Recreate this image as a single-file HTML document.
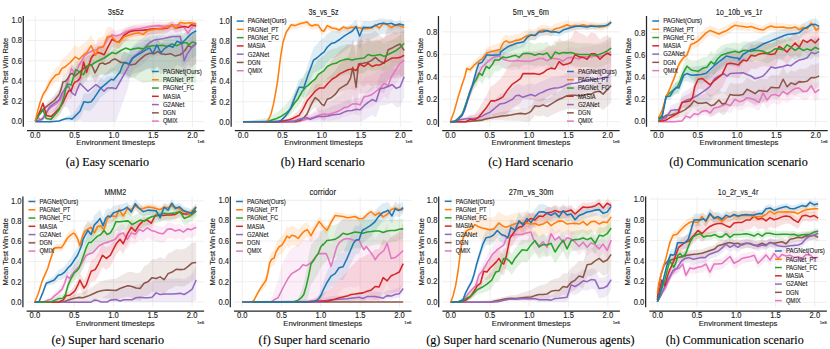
<!DOCTYPE html>
<html><head><meta charset="utf-8"><style>html,body{margin:0;padding:0;background:#fff;width:830px;height:349px;overflow:hidden}svg{display:block}</style></head>
<body><svg width="830" height="349" viewBox="0 0 830 349"><g transform="translate(0.00,0.00)"><line x1="35.30" y1="16.0" x2="35.30" y2="126.8" stroke="#ebebeb" stroke-width="0.8"/>
<line x1="74.60" y1="16.0" x2="74.60" y2="126.8" stroke="#ebebeb" stroke-width="0.8"/>
<line x1="113.90" y1="16.0" x2="113.90" y2="126.8" stroke="#ebebeb" stroke-width="0.8"/>
<line x1="153.20" y1="16.0" x2="153.20" y2="126.8" stroke="#ebebeb" stroke-width="0.8"/>
<line x1="192.50" y1="16.0" x2="192.50" y2="126.8" stroke="#ebebeb" stroke-width="0.8"/>
<line x1="27.0" y1="121.60" x2="204.5" y2="121.60" stroke="#ebebeb" stroke-width="0.8"/>
<line x1="27.0" y1="101.34" x2="204.5" y2="101.34" stroke="#ebebeb" stroke-width="0.8"/>
<line x1="27.0" y1="81.08" x2="204.5" y2="81.08" stroke="#ebebeb" stroke-width="0.8"/>
<line x1="27.0" y1="60.82" x2="204.5" y2="60.82" stroke="#ebebeb" stroke-width="0.8"/>
<line x1="27.0" y1="40.56" x2="204.5" y2="40.56" stroke="#ebebeb" stroke-width="0.8"/>
<line x1="27.0" y1="20.30" x2="204.5" y2="20.30" stroke="#ebebeb" stroke-width="0.8"/>
<polygon points="35.34,121.71 51.05,121.13 59.07,120.03 63.88,117.91 67.09,115.95 70.30,114.79 71.90,115.01 75.11,110.65 79.92,104.10 83.93,93.37 87.94,93.66 91.14,92.44 94.35,88.02 97.56,82.80 100.77,77.57 105.58,72.94 111.19,67.41 113.59,67.90 120.01,60.20 122.41,54.10 124.02,51.32 126.42,51.96 128.83,52.91 132.04,47.51 136.85,44.61 141.66,42.19 146.47,39.31 149.68,38.29 152.88,44.15 156.89,35.65 160.90,43.99 164.11,40.23 168.92,37.41 172.93,39.33 176.94,33.71 181.75,36.02 186.56,31.59 191.37,27.16 196.18,24.66 196.18,56.05 191.37,58.46 186.56,62.80 181.75,67.13 176.94,64.73 172.93,70.27 168.92,68.26 164.11,70.99 160.90,74.69 156.89,66.27 152.88,74.69 149.68,68.76 146.47,69.73 141.66,71.64 136.85,72.81 132.04,74.47 128.83,79.05 126.42,77.47 124.02,76.22 122.41,78.59 120.01,84.06 113.59,90.13 111.19,89.17 105.58,93.62 100.77,97.32 97.56,101.92 94.35,106.53 91.14,110.33 87.94,110.93 83.93,109.87 79.92,118.48 75.11,121.55 71.90,121.60 70.30,121.60 67.09,121.06 63.88,120.71 59.07,121.60 51.05,121.71 35.34,121.71" fill="#1f77b4" fill-opacity="0.14" stroke="none"/>
<polygon points="35.34,120.89 37.42,111.27 39.83,101.52 43.04,91.46 46.24,85.41 49.45,77.75 52.66,71.91 55.86,67.56 59.07,65.77 61.48,60.15 65.49,56.71 70.30,51.46 75.11,44.77 79.12,47.43 83.13,43.68 87.14,40.73 91.14,34.58 95.63,44.49 98.36,37.45 103.17,36.96 107.18,26.90 111.19,26.74 114.40,30.47 116.00,33.13 119.21,34.45 124.02,29.61 128.83,28.78 133.64,27.96 138.45,27.82 143.26,29.67 148.07,25.91 152.88,25.36 157.69,24.81 162.50,24.25 167.32,23.70 172.13,21.54 176.14,24.95 180.14,19.55 184.95,20.60 189.77,20.37 192.97,21.01 196.18,21.66 196.18,26.74 192.97,26.37 189.77,26.00 184.95,26.65 180.14,26.01 176.14,31.76 172.13,28.69 167.32,31.26 162.50,32.23 157.69,33.20 152.88,34.17 148.07,35.13 143.26,39.31 138.45,37.87 133.64,38.83 128.83,40.59 124.02,42.35 119.21,48.11 116.00,47.41 114.40,45.06 111.19,41.96 107.18,42.89 103.17,53.53 98.36,54.64 95.63,62.04 91.14,52.70 87.14,59.38 83.13,62.84 79.12,67.11 75.11,64.96 70.30,70.24 65.49,73.83 61.48,75.90 59.07,80.69 55.86,81.38 52.66,84.63 49.45,88.70 46.24,93.87 43.04,97.44 39.83,105.02 37.42,112.91 35.34,120.92" fill="#ff7f0e" fill-opacity="0.14" stroke="none"/>
<polygon points="35.30,120.90 39.00,114.11 43.00,107.22 46.20,114.99 51.10,114.22 55.10,108.78 59.10,103.33 61.50,97.35 64.70,87.23 65.50,81.70 67.50,76.38 71.00,76.82 73.10,69.48 75.60,60.58 78.60,61.59 81.10,63.69 83.60,64.47 85.00,60.97 87.00,56.37 89.50,55.37 92.00,54.37 95.00,52.37 98.00,50.87 101.00,49.37 104.10,47.87 107.10,45.87 112.00,42.47 116.00,43.55 120.81,40.35 125.62,37.94 130.43,39.55 133.64,38.74 138.45,37.94 143.26,38.74 148.07,36.34 152.88,35.54 157.69,35.54 162.50,35.06 167.32,36.34 172.13,33.93 176.94,35.54 181.75,33.13 186.56,32.33 188.96,34.73 192.17,31.85 196.18,32.81 196.18,83.44 192.17,82.08 188.96,84.64 186.56,82.00 181.75,82.33 176.94,84.25 172.13,82.17 167.32,84.10 162.50,82.34 157.69,82.35 152.88,81.87 148.07,82.19 143.26,83.32 138.45,80.20 133.64,78.67 130.43,77.93 125.62,74.00 120.81,74.08 116.00,74.96 112.00,72.25 107.10,74.07 104.10,75.10 101.00,75.60 98.00,76.14 95.00,76.67 92.00,77.70 89.50,77.90 87.00,78.09 85.00,82.05 83.60,85.10 81.10,83.51 78.60,80.61 75.60,78.62 73.10,86.72 71.00,93.38 67.50,91.82 65.50,96.50 64.70,101.77 61.50,110.85 59.10,116.07 55.10,120.22 51.10,121.60 46.20,121.60 43.00,112.18 39.00,116.49 35.30,120.90" fill="#2ca02c" fill-opacity="0.14" stroke="none"/>
<polygon points="35.30,120.90 39.00,112.51 43.00,100.82 46.60,111.96 51.10,111.53 55.10,107.44 59.10,102.75 63.10,96.27 67.10,86.98 69.00,83.60 71.10,83.89 73.50,76.76 75.10,74.71 78.10,72.92 80.10,70.22 81.60,64.08 83.60,53.97 86.50,64.76 89.00,57.32 91.00,50.95 93.00,48.08 94.40,47.17 97.60,45.47 100.80,46.28 104.00,48.08 108.00,40.34 112.00,33.10 116.00,35.71 119.21,35.92 124.02,29.82 128.83,26.92 133.64,25.81 138.45,25.64 143.26,25.46 148.07,25.13 152.88,24.47 157.69,24.62 162.50,24.76 167.32,24.11 172.13,21.04 175.33,24.35 180.14,23.69 184.95,23.04 188.16,24.26 191.37,21.63 196.18,22.90 196.18,30.00 191.37,29.03 188.16,31.85 184.95,30.82 180.14,31.77 175.33,32.72 172.13,29.61 167.32,32.96 162.50,33.91 157.69,34.06 152.88,34.20 148.07,35.15 143.26,35.78 138.45,36.24 133.64,36.71 128.83,38.18 124.02,41.80 119.21,48.63 116.00,48.91 112.00,46.89 108.00,54.74 104.00,63.08 100.80,61.75 97.60,61.43 94.40,63.60 93.00,64.72 91.00,67.90 89.00,74.57 86.50,82.38 83.60,72.03 81.60,82.09 80.10,87.85 78.10,90.03 75.10,91.04 73.50,92.69 71.10,99.20 69.00,98.36 67.10,101.26 63.10,109.51 59.10,114.97 55.10,118.62 51.10,121.60 46.60,119.24 43.00,105.78 39.00,114.89 35.30,120.90" fill="#d62728" fill-opacity="0.14" stroke="none"/>
<polygon points="35.34,120.90 39.83,118.55 43.04,115.85 46.24,109.13 49.45,102.42 54.26,96.75 59.07,91.94 62.28,84.45 65.49,79.36 68.37,77.51 70.30,80.55 71.90,83.62 75.11,85.75 77.51,79.13 79.92,73.31 83.13,76.27 87.94,80.84 92.75,76.59 95.95,73.71 100.77,77.00 103.97,80.05 107.18,76.68 111.99,76.12 116.00,77.05 128.03,55.16 130.43,50.35 133.64,44.74 136.85,42.33 140.05,39.93 143.26,37.52 146.47,33.51 149.68,30.30 154.49,27.90 159.30,27.10 164.11,26.29 168.92,25.01 173.73,24.37 180.14,24.37 181.75,31.11 184.15,48.74 187.36,41.53 191.37,35.92 196.18,31.43 196.18,63.82 191.37,67.79 187.36,72.97 184.15,79.84 181.75,61.94 180.14,55.04 173.73,54.35 168.92,54.47 164.11,55.24 159.30,55.52 154.49,55.81 149.68,57.70 146.47,60.43 143.26,63.94 140.05,65.85 136.85,67.76 133.64,69.67 130.43,74.79 128.03,87.94 116.00,121.60 111.99,121.60 107.18,121.60 103.97,121.60 100.77,121.60 95.95,121.60 92.75,121.60 87.94,121.60 83.13,121.60 79.92,120.47 77.51,121.60 75.11,121.60 71.90,119.76 70.30,114.48 68.37,108.80 65.49,106.68 62.28,107.36 59.07,110.44 54.26,111.42 49.45,113.36 46.24,117.59 43.04,121.60 39.83,121.60 35.34,120.93" fill="#9467bd" fill-opacity="0.14" stroke="none"/>
<polygon points="35.30,120.90 39.80,110.65 44.60,105.10 49.50,99.52 54.30,94.91 59.10,88.13 61.00,82.93 63.00,74.91 65.50,73.90 67.50,71.38 70.00,66.48 72.00,64.86 74.60,67.24 77.10,64.83 83.00,58.87 89.00,54.87 91.50,54.87 93.50,58.97 95.00,62.77 97.00,58.97 99.60,53.67 102.60,52.87 105.10,54.07 108.10,52.87 110.00,52.07 111.20,50.47 114.40,48.87 116.00,49.17 120.81,52.37 125.62,52.37 130.43,54.76 135.24,53.81 140.05,48.85 144.86,44.70 149.68,42.47 154.49,42.80 157.69,40.30 160.90,42.61 165.71,43.26 170.52,42.31 175.33,44.57 180.14,43.15 184.95,38.67 188.16,33.76 191.37,35.27 196.18,31.11 196.18,63.49 191.37,66.92 188.16,64.92 184.95,69.35 180.14,73.09 175.33,73.79 170.52,70.80 165.71,71.02 160.90,69.64 157.69,66.84 154.49,68.86 149.68,67.79 144.86,69.29 140.05,72.72 135.24,76.95 130.43,77.16 125.62,74.49 120.81,74.28 116.00,70.87 114.40,70.50 111.20,71.96 110.00,73.51 108.10,74.23 105.10,75.30 102.60,74.00 99.60,74.67 97.00,79.85 95.00,83.57 93.50,79.70 91.50,75.52 89.00,75.41 83.00,79.15 77.10,83.37 74.60,84.96 72.00,81.74 70.00,82.72 67.50,86.82 65.50,88.70 63.00,88.89 61.00,96.27 59.10,100.87 54.30,106.09 49.50,108.68 44.60,111.10 39.80,113.55 35.30,120.90" fill="#8c564b" fill-opacity="0.14" stroke="none"/>
<polygon points="35.30,120.90 38.20,116.95 41.40,118.53 44.60,112.90 47.80,107.28 51.10,103.24 55.90,99.80 60.70,94.75 63.90,88.08 67.50,77.20 70.00,69.07 71.50,63.49 73.10,65.91 75.10,68.81 78.60,60.53 81.60,55.37 84.10,50.74 87.90,47.25 92.70,44.49 96.00,44.08 99.20,41.48 104.00,40.31 108.00,32.93 112.00,29.44 116.00,30.70 120.81,29.24 125.62,26.97 130.43,25.18 135.24,24.36 140.05,23.85 144.86,23.03 149.68,22.05 154.49,21.70 159.30,21.52 164.11,22.46 168.92,21.79 173.73,21.61 178.54,21.27 183.35,23.01 188.16,30.04 191.37,24.84 194.58,21.73 196.18,21.29 196.18,28.40 194.58,28.91 191.37,32.18 188.16,37.53 183.35,30.73 178.54,29.21 173.73,29.79 168.92,30.20 164.11,31.09 159.30,30.38 154.49,30.80 149.68,31.37 144.86,32.58 140.05,33.64 135.24,34.37 130.43,35.42 125.62,37.44 120.81,39.94 116.00,41.63 112.00,40.56 108.00,44.24 104.00,51.82 99.20,53.21 96.00,55.97 92.70,56.53 87.90,59.15 84.10,62.26 81.60,66.63 78.60,71.47 75.10,79.39 73.10,76.29 71.50,73.71 70.00,79.13 67.50,87.00 63.90,97.52 60.70,103.85 55.90,108.40 51.10,111.36 47.80,113.72 44.60,117.70 41.40,121.60 38.20,118.45 35.30,120.90" fill="#e377c2" fill-opacity="0.14" stroke="none"/>
<polyline points="35.30,120.90 38.20,117.70 41.40,120.10 44.60,115.30 47.80,110.50 51.10,107.30 55.90,104.10 60.70,99.30 63.90,92.80 67.50,82.10 70.00,74.10 71.50,68.60 73.10,71.10 75.10,74.10 78.60,66.00 81.60,61.00 84.10,56.50 87.90,53.20 92.70,50.50 96.00,50.00 99.20,47.30 104.00,46.00 108.00,38.50 112.00,34.90 116.00,36.05 120.81,34.44 125.62,32.04 130.43,30.11 135.24,29.15 140.05,28.51 144.86,27.55 149.68,26.42 154.49,25.94 159.30,25.62 164.11,26.42 168.92,25.62 173.73,25.30 178.54,24.82 183.35,26.42 188.16,33.32 191.37,28.03 194.58,24.82 196.18,24.34" fill="none" stroke="#e377c2" stroke-width="1.55" stroke-linejoin="round" stroke-linecap="butt"/>
<polyline points="35.30,120.90 39.80,112.10 44.60,108.10 49.50,104.10 54.30,100.50 59.10,94.50 61.00,89.60 63.00,81.90 65.50,81.30 67.50,79.10 70.00,74.60 72.00,73.30 74.60,76.10 77.10,74.10 83.00,69.00 89.00,65.00 91.50,65.00 93.50,69.10 95.00,72.90 97.00,69.10 99.60,63.80 102.60,63.00 105.10,64.20 108.10,63.00 110.00,62.20 111.20,60.60 114.40,59.00 116.00,59.30 120.81,62.50 125.62,62.50 130.43,64.91 135.24,64.11 140.05,59.30 144.86,55.29 149.68,53.20 154.49,53.68 157.69,51.28 160.90,53.68 165.71,54.49 170.52,53.68 175.33,56.09 180.14,54.81 184.95,50.48 188.16,45.67 191.37,47.27 196.18,43.26" fill="none" stroke="#8c564b" stroke-width="1.55" stroke-linejoin="round" stroke-linecap="butt"/>
<polyline points="35.34,120.91 39.83,120.11 43.04,118.50 46.24,112.89 49.45,107.28 54.26,103.27 59.07,100.06 62.28,92.85 65.49,88.04 68.37,86.43 70.30,89.64 71.90,92.85 75.11,95.25 77.51,88.84 79.92,83.23 83.13,86.43 87.94,91.24 92.75,87.23 95.95,84.51 100.77,88.04 103.97,91.24 107.18,88.04 111.99,87.72 116.00,88.84 128.03,67.32 130.43,62.50 133.64,56.89 136.85,54.49 140.05,52.08 143.26,49.68 146.47,45.67 149.68,42.46 154.49,40.05 159.30,39.25 164.11,38.45 168.92,37.17 173.73,36.53 180.14,36.53 181.75,43.26 184.15,60.90 187.36,53.68 191.37,48.07 196.18,43.58" fill="none" stroke="#9467bd" stroke-width="1.55" stroke-linejoin="round" stroke-linecap="butt"/>
<polyline points="35.30,120.90 39.00,113.70 43.00,103.30 46.60,115.60 51.10,116.60 55.10,112.90 59.10,108.60 63.10,102.50 67.10,93.60 69.00,90.40 71.10,90.90 73.50,84.00 75.10,82.10 78.10,80.60 80.10,78.10 81.60,72.10 83.60,62.00 86.50,72.60 89.00,65.00 91.00,58.50 93.00,55.50 94.40,54.50 97.60,52.60 100.80,53.20 104.00,54.80 108.00,46.80 112.00,39.30 116.00,41.66 119.21,41.66 124.02,35.24 128.83,32.04 133.64,30.75 138.45,30.43 143.26,30.11 148.07,29.63 152.88,28.83 157.69,28.83 162.50,28.83 167.32,28.03 172.13,24.82 175.33,28.03 180.14,27.23 184.95,26.42 188.16,27.55 191.37,24.82 196.18,25.94" fill="none" stroke="#d62728" stroke-width="1.55" stroke-linejoin="round" stroke-linecap="butt"/>
<polyline points="35.30,120.90 39.00,115.30 43.00,109.70 46.20,118.50 51.10,119.30 55.10,114.50 59.10,109.70 61.50,104.10 64.70,94.50 65.50,89.10 67.50,84.10 71.00,85.10 73.10,78.10 75.60,69.60 78.60,71.10 81.10,73.60 83.60,74.60 85.00,71.10 87.00,66.50 89.50,65.50 92.00,64.50 95.00,62.50 98.00,61.00 101.00,59.50 104.10,58.00 107.10,56.00 112.00,52.60 116.00,53.68 120.81,50.48 125.62,48.07 130.43,49.68 133.64,48.87 138.45,48.07 143.26,48.87 148.07,46.47 152.88,45.67 157.69,45.67 162.50,45.19 167.32,46.47 172.13,44.06 176.94,45.67 181.75,43.26 186.56,42.46 188.96,44.86 192.17,41.98 196.18,42.94" fill="none" stroke="#2ca02c" stroke-width="1.55" stroke-linejoin="round" stroke-linecap="butt"/>
<polyline points="35.34,120.91 37.42,112.09 39.83,103.27 43.04,94.45 46.24,89.64 49.45,83.23 52.66,78.41 55.86,74.89 59.07,73.92 61.48,68.92 65.49,66.51 70.30,62.50 75.11,56.89 79.12,59.30 83.13,55.29 87.14,52.08 91.14,45.67 95.63,55.29 98.36,48.07 103.17,47.27 107.18,36.85 111.19,36.05 114.40,39.25 116.00,41.66 119.21,42.46 124.02,36.85 128.83,35.24 133.64,33.64 138.45,32.84 143.26,34.44 148.07,30.43 152.88,29.63 157.69,28.83 162.50,28.03 167.32,27.23 172.13,24.82 176.14,28.03 180.14,22.41 184.95,23.22 189.77,22.74 192.97,23.22 196.18,23.70" fill="none" stroke="#ff7f0e" stroke-width="1.55" stroke-linejoin="round" stroke-linecap="butt"/>
<polyline points="35.34,121.71 51.05,121.71 59.07,120.91 63.88,119.31 67.09,118.50 70.30,118.50 71.90,119.31 75.11,116.10 79.92,111.29 83.93,101.67 87.94,102.47 91.14,101.67 94.35,97.66 97.56,92.85 100.77,88.04 105.58,84.03 111.19,79.22 113.59,80.02 120.01,71.97 122.41,65.71 124.02,62.83 126.42,63.31 128.83,64.11 132.04,58.50 136.85,55.29 141.66,52.56 146.47,49.35 149.68,48.07 152.88,53.68 156.89,44.86 160.90,52.88 164.11,48.87 168.92,45.67 172.93,47.27 176.94,41.34 181.75,43.26 186.56,38.45 191.37,33.64 196.18,30.75" fill="none" stroke="#1f77b4" stroke-width="1.55" stroke-linejoin="round" stroke-linecap="butt"/>
<line x1="23.3" y1="16.0" x2="23.3" y2="126.8" stroke="#262626" stroke-width="1.25"/>
<line x1="27.0" y1="130.7" x2="204.5" y2="130.7" stroke="#262626" stroke-width="1.25"/>
<text x="22.00" y="124.40" font-size="8.3" text-anchor="end" font-family="Liberation Sans" fill="#222222" stroke="#222222" stroke-width="0.12" textLength="10.57" lengthAdjust="spacingAndGlyphs">0.0</text>
<text x="22.00" y="104.14" font-size="8.3" text-anchor="end" font-family="Liberation Sans" fill="#222222" stroke="#222222" stroke-width="0.12" textLength="10.57" lengthAdjust="spacingAndGlyphs">0.2</text>
<text x="22.00" y="83.88" font-size="8.3" text-anchor="end" font-family="Liberation Sans" fill="#222222" stroke="#222222" stroke-width="0.12" textLength="10.57" lengthAdjust="spacingAndGlyphs">0.4</text>
<text x="22.00" y="63.62" font-size="8.3" text-anchor="end" font-family="Liberation Sans" fill="#222222" stroke="#222222" stroke-width="0.12" textLength="10.57" lengthAdjust="spacingAndGlyphs">0.6</text>
<text x="22.00" y="43.36" font-size="8.3" text-anchor="end" font-family="Liberation Sans" fill="#222222" stroke="#222222" stroke-width="0.12" textLength="10.57" lengthAdjust="spacingAndGlyphs">0.8</text>
<text x="22.00" y="23.10" font-size="8.3" text-anchor="end" font-family="Liberation Sans" fill="#222222" stroke="#222222" stroke-width="0.12" textLength="10.57" lengthAdjust="spacingAndGlyphs">1.0</text>
<text x="35.30" y="137.90" font-size="8.3" text-anchor="middle" font-family="Liberation Sans" fill="#222222" stroke="#222222" stroke-width="0.12" textLength="10.57" lengthAdjust="spacingAndGlyphs">0.0</text>
<text x="74.60" y="137.90" font-size="8.3" text-anchor="middle" font-family="Liberation Sans" fill="#222222" stroke="#222222" stroke-width="0.12" textLength="10.57" lengthAdjust="spacingAndGlyphs">0.5</text>
<text x="113.90" y="137.90" font-size="8.3" text-anchor="middle" font-family="Liberation Sans" fill="#222222" stroke="#222222" stroke-width="0.12" textLength="10.57" lengthAdjust="spacingAndGlyphs">1.0</text>
<text x="153.20" y="137.90" font-size="8.3" text-anchor="middle" font-family="Liberation Sans" fill="#222222" stroke="#222222" stroke-width="0.12" textLength="10.57" lengthAdjust="spacingAndGlyphs">1.5</text>
<text x="192.50" y="137.90" font-size="8.3" text-anchor="middle" font-family="Liberation Sans" fill="#222222" stroke="#222222" stroke-width="0.12" textLength="10.57" lengthAdjust="spacingAndGlyphs">2.0</text>
<text x="115.75" y="145.30" font-size="6.8" text-anchor="middle" font-family="Liberation Sans" fill="#222222" stroke="#222222" stroke-width="0.12" textLength="78.77" lengthAdjust="spacingAndGlyphs">Environment timesteps</text>
<g transform="translate(8.1,71.40) rotate(-90)"><text x="0.00" y="0.00" font-size="6.8" text-anchor="middle" font-family="Liberation Sans" fill="#222222" stroke="#222222" stroke-width="0.12" textLength="67.23" lengthAdjust="spacingAndGlyphs">Mean Test Win Rate</text></g>
<text x="200.90" y="143.20" font-size="4.3" text-anchor="middle" font-family="Liberation Sans" fill="#222222" stroke="#222222" stroke-width="0.12" textLength="7.20" lengthAdjust="spacingAndGlyphs">1e6</text>
<text x="115.75" y="14.50" font-size="8.3" text-anchor="middle" font-family="Liberation Sans" fill="#222222" stroke="#222222" stroke-width="0.12" textLength="15.76" lengthAdjust="spacingAndGlyphs">3s5z</text>
<line x1="152.00" y1="71.50" x2="158.80" y2="71.50" stroke="#1f77b4" stroke-width="1.5"/>
<text x="162.90" y="73.85" font-size="6.7" text-anchor="start" font-family="Liberation Sans" fill="#222222" stroke="#222222" stroke-width="0.12" textLength="38.78" lengthAdjust="spacingAndGlyphs">PAGNet(Ours)</text>
<line x1="152.00" y1="79.77" x2="158.80" y2="79.77" stroke="#ff7f0e" stroke-width="1.5"/>
<text x="162.90" y="82.12" font-size="6.7" text-anchor="start" font-family="Liberation Sans" fill="#222222" stroke="#222222" stroke-width="0.12" textLength="30.86" lengthAdjust="spacingAndGlyphs">PAGNet_PT</text>
<line x1="152.00" y1="88.04" x2="158.80" y2="88.04" stroke="#2ca02c" stroke-width="1.5"/>
<text x="162.90" y="90.39" font-size="6.7" text-anchor="start" font-family="Liberation Sans" fill="#222222" stroke="#222222" stroke-width="0.12" textLength="31.19" lengthAdjust="spacingAndGlyphs">PAGNet_FC</text>
<line x1="152.00" y1="96.31" x2="158.80" y2="96.31" stroke="#d62728" stroke-width="1.5"/>
<text x="162.90" y="98.66" font-size="6.7" text-anchor="start" font-family="Liberation Sans" fill="#222222" stroke="#222222" stroke-width="0.12" textLength="17.64" lengthAdjust="spacingAndGlyphs">MASIA</text>
<line x1="152.00" y1="104.58" x2="158.80" y2="104.58" stroke="#9467bd" stroke-width="1.5"/>
<text x="162.90" y="106.93" font-size="6.7" text-anchor="start" font-family="Liberation Sans" fill="#222222" stroke="#222222" stroke-width="0.12" textLength="21.48" lengthAdjust="spacingAndGlyphs">G2ANet</text>
<line x1="152.00" y1="112.85" x2="158.80" y2="112.85" stroke="#8c564b" stroke-width="1.5"/>
<text x="162.90" y="115.20" font-size="6.7" text-anchor="start" font-family="Liberation Sans" fill="#222222" stroke="#222222" stroke-width="0.12" textLength="12.79" lengthAdjust="spacingAndGlyphs">DGN</text>
<line x1="152.00" y1="121.12" x2="158.80" y2="121.12" stroke="#e377c2" stroke-width="1.5"/>
<text x="162.90" y="123.47" font-size="6.7" text-anchor="start" font-family="Liberation Sans" fill="#222222" stroke="#222222" stroke-width="0.12" textLength="14.68" lengthAdjust="spacingAndGlyphs">QMIX</text></g>
<g transform="translate(207.85,0.00)"><line x1="35.30" y1="16.0" x2="35.30" y2="126.8" stroke="#ebebeb" stroke-width="0.8"/>
<line x1="74.60" y1="16.0" x2="74.60" y2="126.8" stroke="#ebebeb" stroke-width="0.8"/>
<line x1="113.90" y1="16.0" x2="113.90" y2="126.8" stroke="#ebebeb" stroke-width="0.8"/>
<line x1="153.20" y1="16.0" x2="153.20" y2="126.8" stroke="#ebebeb" stroke-width="0.8"/>
<line x1="192.50" y1="16.0" x2="192.50" y2="126.8" stroke="#ebebeb" stroke-width="0.8"/>
<line x1="27.0" y1="121.85" x2="204.5" y2="121.85" stroke="#ebebeb" stroke-width="0.8"/>
<line x1="27.0" y1="101.71" x2="204.5" y2="101.71" stroke="#ebebeb" stroke-width="0.8"/>
<line x1="27.0" y1="81.57" x2="204.5" y2="81.57" stroke="#ebebeb" stroke-width="0.8"/>
<line x1="27.0" y1="61.43" x2="204.5" y2="61.43" stroke="#ebebeb" stroke-width="0.8"/>
<line x1="27.0" y1="41.29" x2="204.5" y2="41.29" stroke="#ebebeb" stroke-width="0.8"/>
<line x1="27.0" y1="21.15" x2="204.5" y2="21.15" stroke="#ebebeb" stroke-width="0.8"/>
<polygon points="35.17,121.71 70.45,121.71 73.65,120.11 76.86,115.74 80.07,110.09 83.28,102.83 85.68,95.19 88.89,85.52 91.29,78.89 93.70,78.17 95.78,78.35 97.71,72.16 100.11,64.22 105.73,47.44 108.93,44.39 112.94,39.67 116.15,37.65 119.36,33.80 123.37,31.31 127.38,31.38 132.19,29.61 136.20,27.60 140.20,25.82 144.21,23.75 148.22,19.28 151.75,29.21 155.44,20.70 159.45,21.37 163.46,21.39 167.47,20.13 171.47,18.54 175.48,18.41 179.49,19.55 183.50,19.09 187.51,21.52 191.52,20.58 196.33,22.27 196.33,33.37 191.52,32.66 187.51,34.42 183.50,32.82 179.49,34.10 175.48,33.78 171.47,34.74 167.47,37.14 163.46,39.22 159.45,40.02 155.44,40.18 151.75,49.44 148.22,40.24 144.21,45.53 140.20,48.42 136.20,51.15 132.19,54.36 127.38,57.56 123.37,58.69 119.36,62.38 116.15,67.19 112.94,69.31 108.93,71.63 105.73,72.76 100.11,86.19 97.71,92.69 95.78,97.73 93.70,96.30 91.29,95.58 88.89,100.17 85.68,106.54 83.28,111.73 80.07,115.69 76.86,118.06 73.65,120.11 70.45,121.71 35.17,121.71" fill="#1f77b4" fill-opacity="0.14" stroke="none"/>
<polygon points="35.17,121.71 58.42,121.71 60.83,119.14 63.23,113.32 65.64,103.49 68.04,90.46 69.65,80.70 72.85,54.90 75.26,40.26 78.47,30.36 83.28,22.81 87.29,23.61 91.29,22.00 96.10,20.72 99.31,20.08 101.72,22.81 104.12,23.93 107.33,22.81 110.54,23.29 113.74,28.42 116.15,29.22 119.36,23.61 124.17,26.01 128.18,26.81 131.38,28.10 135.39,24.89 139.40,26.49 143.41,25.21 148.22,25.53 152.23,26.01 156.24,26.81 160.25,26.49 164.26,26.01 167.47,22.81 171.47,26.01 175.48,21.20 179.49,22.81 183.50,25.53 187.51,23.29 191.52,23.61 196.33,25.53 196.33,30.57 191.52,28.69 187.51,28.40 183.50,30.68 179.49,27.99 175.48,26.42 171.47,31.27 167.47,28.10 164.26,31.33 160.25,31.85 156.24,32.20 152.23,31.44 148.22,30.99 143.41,30.71 139.40,32.03 135.39,30.46 131.38,33.71 128.18,32.45 124.17,31.69 119.36,29.32 116.15,34.96 113.74,34.18 110.54,29.08 107.33,28.63 104.12,29.78 101.72,28.68 99.31,25.97 96.10,26.64 91.29,27.97 87.29,29.61 83.28,28.84 78.47,35.38 75.26,44.46 72.85,58.48 69.65,83.46 68.04,92.81 65.64,105.23 63.23,114.44 60.83,119.64 58.42,121.71 35.17,121.71" fill="#ff7f0e" fill-opacity="0.14" stroke="none"/>
<polygon points="35.17,121.71 59.22,117.88 64.03,115.51 68.84,112.80 73.65,108.85 78.47,104.10 82.47,99.13 86.48,91.91 90.49,85.82 94.50,77.32 97.71,72.28 100.92,69.72 104.12,66.52 107.33,64.11 110.54,59.30 116.15,55.42 119.36,51.41 124.17,49.00 128.18,48.20 132.19,45.91 136.20,44.81 140.20,44.35 144.21,45.65 148.22,44.71 152.23,44.41 156.24,44.11 160.25,40.77 164.26,42.23 168.27,41.93 172.28,41.31 176.29,43.42 180.29,41.67 184.30,39.93 188.31,38.03 192.32,35.00 196.33,31.17 196.33,58.37 192.32,62.38 188.31,65.58 184.30,67.67 180.29,69.59 176.29,71.52 172.28,69.59 168.27,70.39 164.26,70.87 160.25,69.59 156.24,73.12 152.23,73.60 148.22,74.08 144.21,75.20 140.20,74.08 136.20,74.72 132.19,76.01 128.18,78.18 124.17,78.34 119.36,79.97 116.15,83.47 110.54,86.45 107.33,90.75 104.12,92.64 100.92,95.34 97.71,97.18 94.50,100.37 90.49,106.56 86.48,110.34 82.47,115.25 78.47,117.91 73.65,119.88 68.84,121.06 64.03,121.85 59.22,121.85 35.17,121.71" fill="#2ca02c" fill-opacity="0.14" stroke="none"/>
<polygon points="35.17,121.71 67.24,120.35 72.05,119.82 75.26,119.20 80.07,118.20 84.88,115.46 91.29,109.51 95.30,101.38 99.31,91.65 103.32,85.13 107.33,78.62 111.34,73.75 116.15,71.74 120.16,65.26 124.17,59.58 128.18,55.51 132.19,50.63 140.20,44.55 144.21,43.74 148.22,45.35 152.23,38.93 156.24,41.34 160.25,38.13 164.26,41.34 168.27,39.73 172.28,39.73 176.29,37.33 180.29,34.92 184.30,32.84 188.31,32.84 192.32,32.20 196.33,30.11 196.33,75.43 192.32,77.51 188.31,78.15 184.30,78.15 180.29,80.24 176.29,82.64 172.28,85.05 168.27,85.05 164.26,86.65 160.25,83.45 156.24,86.65 152.23,84.25 148.22,90.66 144.21,89.06 140.20,89.86 132.19,92.05 128.18,93.97 124.17,95.09 120.16,97.82 116.15,101.34 111.34,99.80 107.33,101.73 103.32,105.20 99.31,108.64 95.30,115.28 91.29,120.33 84.88,121.35 80.07,121.85 75.26,121.85 72.05,121.85 67.24,121.85 35.17,121.71" fill="#d62728" fill-opacity="0.14" stroke="none"/>
<polygon points="35.17,121.71 80.07,119.56 86.48,118.45 91.29,116.62 94.50,115.66 99.31,114.43 102.52,115.31 106.53,112.81 110.54,110.79 116.15,109.53 120.16,108.15 124.17,106.13 128.18,104.75 132.19,103.78 136.20,101.60 140.20,100.06 144.21,99.48 148.22,97.94 152.23,98.17 156.24,93.90 160.25,90.44 164.26,86.77 168.27,87.46 172.28,74.20 176.29,72.48 180.29,69.97 184.30,67.13 188.31,70.07 192.32,67.55 196.33,56.69 196.33,96.94 192.32,106.31 188.31,107.34 184.30,102.92 180.29,104.28 176.29,105.31 172.28,105.54 168.27,117.32 164.26,115.14 160.25,117.44 156.24,120.01 152.23,121.85 148.22,121.85 144.21,121.85 140.20,121.85 136.20,121.85 132.19,121.85 128.18,121.85 124.17,121.85 120.16,121.85 116.15,121.85 110.54,121.76 106.53,121.85 102.52,121.85 99.31,120.01 94.50,120.40 91.29,121.10 86.48,121.85 80.07,121.85 35.17,121.71" fill="#9467bd" fill-opacity="0.14" stroke="none"/>
<polygon points="35.17,121.71 88.09,120.02 92.90,118.26 96.10,115.76 99.31,110.37 102.52,99.46 104.92,91.88 107.33,85.09 110.54,83.80 113.74,84.11 116.15,84.96 119.36,77.72 123.37,75.09 127.38,70.86 131.38,64.22 135.39,60.79 139.40,57.35 142.61,50.92 145.01,39.20 148.22,58.30 150.63,34.56 155.44,33.62 159.45,33.75 163.46,32.76 167.47,30.49 171.47,34.95 176.29,38.47 180.29,25.78 184.30,25.11 188.31,23.64 192.32,22.97 194.73,27.54 196.33,30.31 196.33,80.69 194.73,78.28 192.32,74.27 188.31,75.88 184.30,78.28 180.29,79.89 176.29,93.52 171.47,91.11 167.47,87.58 163.46,90.79 159.45,92.71 155.44,93.52 150.63,93.33 148.22,115.53 145.01,94.38 142.61,104.55 139.40,108.93 135.39,109.80 131.38,110.66 127.38,114.73 123.37,116.40 119.36,116.46 116.15,121.65 113.74,119.05 110.54,112.37 107.33,107.29 104.92,109.30 102.52,112.11 99.31,116.65 96.10,119.65 92.90,121.85 88.09,121.85 35.17,121.71" fill="#8c564b" fill-opacity="0.14" stroke="none"/>
<polygon points="35.17,121.71 91.29,118.70 96.10,117.19 100.92,114.75 105.73,111.30 110.54,107.53 116.15,104.09 120.16,103.03 124.17,100.36 128.18,97.54 132.19,94.97 136.20,91.44 140.20,90.16 144.21,86.63 148.22,85.67 152.23,86.15 156.24,77.49 160.25,76.04 164.26,74.77 168.27,72.13 172.28,69.49 176.29,65.25 180.29,68.23 183.50,59.87 191.52,48.30 196.33,44.98 196.33,75.20 191.52,78.79 183.50,90.81 180.29,99.36 176.29,96.61 172.28,101.08 168.27,103.94 164.26,106.81 160.25,108.03 156.24,108.32 152.23,115.83 148.22,114.19 144.21,114.00 140.20,116.37 136.20,116.50 132.19,118.87 128.18,119.87 124.17,120.38 120.16,120.73 116.15,119.48 110.54,119.69 105.73,120.69 100.92,121.36 96.10,121.85 91.29,121.85 35.17,121.71" fill="#e377c2" fill-opacity="0.14" stroke="none"/>
<polyline points="35.17,121.71 91.29,121.39 96.10,120.11 100.92,118.83 105.73,117.22 110.54,115.30 116.15,114.01 120.16,114.50 124.17,113.37 128.18,112.09 132.19,110.49 136.20,107.60 140.20,106.96 144.21,104.07 148.22,103.75 152.23,104.87 156.24,96.86 160.25,96.05 164.26,94.45 168.27,91.24 172.28,88.04 176.29,83.23 180.29,85.63 183.50,76.81 191.52,64.11 196.33,60.10" fill="none" stroke="#e377c2" stroke-width="1.55" stroke-linejoin="round" stroke-linecap="butt"/>
<polyline points="35.17,121.71 88.09,121.71 92.90,120.11 96.10,117.70 99.31,113.69 102.52,106.48 104.92,101.67 107.33,97.66 110.54,100.06 113.74,104.07 116.15,105.68 119.36,99.26 123.37,97.66 127.38,94.45 131.38,88.84 135.39,86.43 139.40,84.03 142.61,78.41 145.01,67.32 148.22,87.23 150.63,64.11 155.44,63.31 159.45,62.50 163.46,60.58 167.47,57.37 171.47,60.90 176.29,63.31 180.29,49.68 184.30,48.07 188.31,45.67 192.32,44.06 194.73,48.07 196.33,50.48" fill="none" stroke="#8c564b" stroke-width="1.55" stroke-linejoin="round" stroke-linecap="butt"/>
<polyline points="35.17,121.71 80.07,121.71 86.48,120.91 91.29,119.31 94.50,118.50 99.31,117.70 102.52,119.31 106.53,117.70 110.54,116.58 116.15,116.58 120.16,116.10 124.17,114.98 128.18,114.50 132.19,114.01 136.20,112.09 140.20,110.81 144.21,110.49 148.22,109.20 152.23,109.68 156.24,105.68 160.25,102.47 164.26,99.58 168.27,101.19 172.28,88.84 176.29,88.04 180.29,86.43 184.30,84.51 188.31,88.36 192.32,86.75 196.33,76.81" fill="none" stroke="#9467bd" stroke-width="1.55" stroke-linejoin="round" stroke-linecap="butt"/>
<polyline points="35.17,121.71 67.24,121.71 72.05,121.39 75.26,120.91 80.07,120.11 84.88,118.50 91.29,115.30 95.30,108.88 99.31,100.86 103.32,96.05 107.33,91.24 111.34,88.04 116.15,88.04 120.16,83.23 124.17,79.22 128.18,76.81 132.19,73.60 140.20,69.72 144.21,68.92 148.22,70.52 152.23,64.11 156.24,66.51 160.25,63.31 164.26,66.51 168.27,64.91 172.28,64.91 176.29,62.50 180.29,60.10 184.30,58.01 188.31,58.01 192.32,57.37 196.33,55.29" fill="none" stroke="#d62728" stroke-width="1.55" stroke-linejoin="round" stroke-linecap="butt"/>
<polyline points="35.17,121.71 59.22,121.71 64.03,120.11 68.84,118.50 73.65,116.10 78.47,112.89 82.47,109.20 86.48,103.27 90.49,98.46 94.50,91.24 97.71,87.23 100.92,84.83 104.12,81.62 107.33,79.22 110.54,74.41 116.15,70.52 119.36,66.51 124.17,64.11 128.18,63.31 132.19,60.90 136.20,59.62 140.20,58.98 144.21,60.10 148.22,58.98 152.23,58.50 156.24,58.01 160.25,54.49 164.26,55.77 168.27,55.29 172.28,54.49 176.29,56.41 180.29,54.49 184.30,52.56 188.31,50.48 192.32,47.27 196.33,43.26" fill="none" stroke="#2ca02c" stroke-width="1.55" stroke-linejoin="round" stroke-linecap="butt"/>
<polyline points="35.17,121.71 58.42,121.71 60.83,119.31 63.23,113.69 65.64,104.07 68.04,91.24 69.65,81.62 72.85,56.09 75.26,41.66 78.47,32.04 83.28,24.82 87.29,25.62 91.29,24.02 96.10,22.74 99.31,22.09 101.72,24.82 104.12,25.94 107.33,24.82 110.54,25.30 113.74,30.43 116.15,31.23 119.36,25.62 124.17,28.03 128.18,28.83 131.38,30.11 135.39,26.90 139.40,28.51 143.41,27.23 148.22,27.55 152.23,28.03 156.24,28.83 160.25,28.51 164.26,28.03 167.47,24.82 171.47,28.03 175.48,23.22 179.49,24.82 183.50,27.55 187.51,25.30 191.52,25.62 196.33,27.55" fill="none" stroke="#ff7f0e" stroke-width="1.55" stroke-linejoin="round" stroke-linecap="butt"/>
<polyline points="35.17,121.71 70.45,121.71 73.65,120.11 76.86,116.90 80.07,112.89 83.28,107.28 85.68,100.86 88.89,92.85 91.29,87.23 93.70,87.23 95.78,88.04 97.71,82.42 100.11,75.21 105.73,60.10 108.93,58.01 112.94,54.49 116.15,52.08 119.36,47.27 123.37,43.58 127.38,42.46 132.19,39.25 136.20,36.05 140.20,33.64 144.21,31.23 148.22,26.42 151.75,36.05 155.44,27.23 159.45,27.55 163.46,27.23 167.47,25.62 171.47,23.70 175.48,23.22 179.49,24.02 183.50,23.22 187.51,25.30 191.52,24.02 196.33,25.30" fill="none" stroke="#1f77b4" stroke-width="1.55" stroke-linejoin="round" stroke-linecap="butt"/>
<line x1="23.3" y1="16.0" x2="23.3" y2="126.8" stroke="#262626" stroke-width="1.25"/>
<line x1="27.0" y1="130.7" x2="204.5" y2="130.7" stroke="#262626" stroke-width="1.25"/>
<text x="22.00" y="124.65" font-size="8.3" text-anchor="end" font-family="Liberation Sans" fill="#222222" stroke="#222222" stroke-width="0.12" textLength="10.57" lengthAdjust="spacingAndGlyphs">0.0</text>
<text x="22.00" y="104.51" font-size="8.3" text-anchor="end" font-family="Liberation Sans" fill="#222222" stroke="#222222" stroke-width="0.12" textLength="10.57" lengthAdjust="spacingAndGlyphs">0.2</text>
<text x="22.00" y="84.37" font-size="8.3" text-anchor="end" font-family="Liberation Sans" fill="#222222" stroke="#222222" stroke-width="0.12" textLength="10.57" lengthAdjust="spacingAndGlyphs">0.4</text>
<text x="22.00" y="64.23" font-size="8.3" text-anchor="end" font-family="Liberation Sans" fill="#222222" stroke="#222222" stroke-width="0.12" textLength="10.57" lengthAdjust="spacingAndGlyphs">0.6</text>
<text x="22.00" y="44.09" font-size="8.3" text-anchor="end" font-family="Liberation Sans" fill="#222222" stroke="#222222" stroke-width="0.12" textLength="10.57" lengthAdjust="spacingAndGlyphs">0.8</text>
<text x="22.00" y="23.95" font-size="8.3" text-anchor="end" font-family="Liberation Sans" fill="#222222" stroke="#222222" stroke-width="0.12" textLength="10.57" lengthAdjust="spacingAndGlyphs">1.0</text>
<text x="35.30" y="137.90" font-size="8.3" text-anchor="middle" font-family="Liberation Sans" fill="#222222" stroke="#222222" stroke-width="0.12" textLength="10.57" lengthAdjust="spacingAndGlyphs">0.0</text>
<text x="74.60" y="137.90" font-size="8.3" text-anchor="middle" font-family="Liberation Sans" fill="#222222" stroke="#222222" stroke-width="0.12" textLength="10.57" lengthAdjust="spacingAndGlyphs">0.5</text>
<text x="113.90" y="137.90" font-size="8.3" text-anchor="middle" font-family="Liberation Sans" fill="#222222" stroke="#222222" stroke-width="0.12" textLength="10.57" lengthAdjust="spacingAndGlyphs">1.0</text>
<text x="153.20" y="137.90" font-size="8.3" text-anchor="middle" font-family="Liberation Sans" fill="#222222" stroke="#222222" stroke-width="0.12" textLength="10.57" lengthAdjust="spacingAndGlyphs">1.5</text>
<text x="192.50" y="137.90" font-size="8.3" text-anchor="middle" font-family="Liberation Sans" fill="#222222" stroke="#222222" stroke-width="0.12" textLength="10.57" lengthAdjust="spacingAndGlyphs">2.0</text>
<text x="115.75" y="145.30" font-size="6.8" text-anchor="middle" font-family="Liberation Sans" fill="#222222" stroke="#222222" stroke-width="0.12" textLength="78.77" lengthAdjust="spacingAndGlyphs">Environment timesteps</text>
<g transform="translate(8.1,71.40) rotate(-90)"><text x="0.00" y="0.00" font-size="6.8" text-anchor="middle" font-family="Liberation Sans" fill="#222222" stroke="#222222" stroke-width="0.12" textLength="67.23" lengthAdjust="spacingAndGlyphs">Mean Test Win Rate</text></g>
<text x="200.90" y="143.20" font-size="4.3" text-anchor="middle" font-family="Liberation Sans" fill="#222222" stroke="#222222" stroke-width="0.12" textLength="7.20" lengthAdjust="spacingAndGlyphs">1e6</text>
<text x="115.75" y="14.50" font-size="8.3" text-anchor="middle" font-family="Liberation Sans" fill="#222222" stroke="#222222" stroke-width="0.12" textLength="30.13" lengthAdjust="spacingAndGlyphs">3s_vs_5z</text>
<line x1="28.95" y1="21.10" x2="35.75" y2="21.10" stroke="#1f77b4" stroke-width="1.5"/>
<text x="39.85" y="23.45" font-size="6.7" text-anchor="start" font-family="Liberation Sans" fill="#222222" stroke="#222222" stroke-width="0.12" textLength="38.78" lengthAdjust="spacingAndGlyphs">PAGNet(Ours)</text>
<line x1="28.95" y1="29.37" x2="35.75" y2="29.37" stroke="#ff7f0e" stroke-width="1.5"/>
<text x="39.85" y="31.72" font-size="6.7" text-anchor="start" font-family="Liberation Sans" fill="#222222" stroke="#222222" stroke-width="0.12" textLength="30.86" lengthAdjust="spacingAndGlyphs">PAGNet_PT</text>
<line x1="28.95" y1="37.64" x2="35.75" y2="37.64" stroke="#2ca02c" stroke-width="1.5"/>
<text x="39.85" y="39.99" font-size="6.7" text-anchor="start" font-family="Liberation Sans" fill="#222222" stroke="#222222" stroke-width="0.12" textLength="31.19" lengthAdjust="spacingAndGlyphs">PAGNet_FC</text>
<line x1="28.95" y1="45.91" x2="35.75" y2="45.91" stroke="#d62728" stroke-width="1.5"/>
<text x="39.85" y="48.26" font-size="6.7" text-anchor="start" font-family="Liberation Sans" fill="#222222" stroke="#222222" stroke-width="0.12" textLength="17.64" lengthAdjust="spacingAndGlyphs">MASIA</text>
<line x1="28.95" y1="54.18" x2="35.75" y2="54.18" stroke="#9467bd" stroke-width="1.5"/>
<text x="39.85" y="56.53" font-size="6.7" text-anchor="start" font-family="Liberation Sans" fill="#222222" stroke="#222222" stroke-width="0.12" textLength="21.48" lengthAdjust="spacingAndGlyphs">G2ANet</text>
<line x1="28.95" y1="62.45" x2="35.75" y2="62.45" stroke="#8c564b" stroke-width="1.5"/>
<text x="39.85" y="64.80" font-size="6.7" text-anchor="start" font-family="Liberation Sans" fill="#222222" stroke="#222222" stroke-width="0.12" textLength="12.79" lengthAdjust="spacingAndGlyphs">DGN</text>
<line x1="28.95" y1="70.72" x2="35.75" y2="70.72" stroke="#e377c2" stroke-width="1.5"/>
<text x="39.85" y="73.07" font-size="6.7" text-anchor="start" font-family="Liberation Sans" fill="#222222" stroke="#222222" stroke-width="0.12" textLength="14.68" lengthAdjust="spacingAndGlyphs">QMIX</text></g>
<g transform="translate(415.15,0.00)"><line x1="35.30" y1="16.0" x2="35.30" y2="126.8" stroke="#ebebeb" stroke-width="0.8"/>
<line x1="74.60" y1="16.0" x2="74.60" y2="126.8" stroke="#ebebeb" stroke-width="0.8"/>
<line x1="113.90" y1="16.0" x2="113.90" y2="126.8" stroke="#ebebeb" stroke-width="0.8"/>
<line x1="153.20" y1="16.0" x2="153.20" y2="126.8" stroke="#ebebeb" stroke-width="0.8"/>
<line x1="192.50" y1="16.0" x2="192.50" y2="126.8" stroke="#ebebeb" stroke-width="0.8"/>
<line x1="27.0" y1="121.70" x2="204.5" y2="121.70" stroke="#ebebeb" stroke-width="0.8"/>
<line x1="27.0" y1="99.24" x2="204.5" y2="99.24" stroke="#ebebeb" stroke-width="0.8"/>
<line x1="27.0" y1="76.78" x2="204.5" y2="76.78" stroke="#ebebeb" stroke-width="0.8"/>
<line x1="27.0" y1="54.32" x2="204.5" y2="54.32" stroke="#ebebeb" stroke-width="0.8"/>
<line x1="27.0" y1="31.86" x2="204.5" y2="31.86" stroke="#ebebeb" stroke-width="0.8"/>
<polygon points="35.15,121.70 39.65,120.77 42.85,117.68 46.85,112.82 49.35,106.69 52.55,95.79 55.75,85.78 57.35,81.03 61.35,65.85 63.65,58.83 67.05,57.30 71.65,49.47 76.25,49.75 84.85,49.60 85.38,46.91 88.59,44.63 91.80,42.36 95.00,40.88 98.21,39.89 101.42,38.74 105.43,38.10 108.63,37.43 111.84,33.55 115.85,30.99 119.86,31.80 123.87,28.43 127.88,28.28 131.89,27.42 135.90,28.77 139.90,28.52 143.91,29.71 147.92,27.05 151.93,25.83 155.94,24.62 159.95,23.56 163.96,23.15 167.97,23.70 171.98,24.25 175.99,23.35 179.99,23.90 184.00,23.49 188.01,23.55 192.02,22.98 196.03,19.84 196.03,24.35 192.02,27.70 188.01,28.47 184.00,28.61 179.99,29.22 175.99,28.88 171.98,29.97 167.97,29.63 163.96,29.28 159.95,29.90 155.94,31.15 151.93,32.57 147.92,33.99 143.91,36.85 139.90,35.86 135.90,36.32 131.89,35.17 127.88,36.28 123.87,36.76 119.86,40.45 115.85,39.98 111.84,42.87 108.63,47.01 105.43,47.94 101.42,48.90 98.21,50.32 95.00,51.57 91.80,53.31 88.59,55.84 85.38,58.38 84.85,61.12 76.25,61.97 71.65,61.12 67.05,67.86 63.65,68.57 61.35,75.04 57.35,89.27 55.75,93.64 52.55,102.89 49.35,112.71 46.85,117.78 42.85,120.92 39.65,121.70 35.15,121.70" fill="#1f77b4" fill-opacity="0.14" stroke="none"/>
<polygon points="35.15,121.70 38.85,111.24 42.85,95.98 46.85,82.32 49.85,72.88 51.55,65.07 55.05,65.90 59.05,60.87 63.65,56.38 67.05,53.71 71.65,47.42 77.35,45.11 84.85,42.93 86.18,39.84 88.59,35.90 90.99,34.37 94.20,36.07 97.41,35.36 100.62,34.17 103.82,33.95 107.03,32.44 110.24,30.61 113.44,29.42 115.85,29.17 119.86,29.61 123.87,25.72 127.88,24.72 131.89,25.16 135.90,26.56 139.90,23.79 143.91,23.11 147.92,21.62 151.93,20.14 155.94,21.86 159.95,21.17 163.96,21.61 167.97,20.61 171.98,21.85 175.99,21.65 179.99,22.09 184.00,23.49 188.01,22.81 192.02,21.80 196.03,19.03 196.03,25.79 192.02,28.76 188.01,29.96 184.00,30.84 179.99,29.64 175.99,29.39 171.98,29.79 167.97,28.75 163.96,29.95 159.95,29.71 155.94,30.59 151.93,29.07 147.92,30.75 143.91,32.43 139.90,33.31 135.90,36.28 131.89,35.07 127.88,34.83 123.87,36.03 119.86,40.12 115.85,39.88 113.44,40.25 110.24,41.59 107.03,43.58 103.82,45.25 100.62,45.63 97.41,46.98 94.20,47.84 90.99,46.30 88.59,47.95 86.18,52.01 84.85,55.17 77.35,56.55 71.65,57.84 67.05,63.31 63.65,65.37 59.05,69.04 55.05,73.36 51.55,71.91 49.85,79.12 46.85,87.28 42.85,99.22 38.85,112.76 35.15,121.70" fill="#ff7f0e" fill-opacity="0.14" stroke="none"/>
<polygon points="35.15,121.70 39.65,120.47 42.85,116.88 46.85,112.02 48.45,107.68 51.75,97.36 54.95,86.90 58.15,78.93 61.35,73.57 64.15,66.60 67.05,68.21 71.05,58.06 73.95,59.67 77.35,54.96 79.65,50.63 83.75,50.59 87.79,47.15 90.99,47.77 94.20,46.79 97.41,45.80 100.62,44.82 103.82,46.72 107.83,42.80 111.84,42.09 115.85,42.45 119.86,44.06 123.87,42.45 127.88,43.26 131.89,41.65 135.90,47.27 139.90,40.85 143.91,42.45 147.92,41.33 151.93,41.65 155.94,41.33 159.95,42.45 163.96,43.26 167.97,43.26 171.98,43.26 175.99,43.58 179.99,44.06 184.00,43.26 188.01,41.65 192.02,39.73 196.03,36.84 196.03,61.54 192.02,64.31 188.01,66.13 184.00,67.62 179.99,68.32 175.99,67.73 171.98,67.30 167.97,67.19 163.96,67.08 159.95,66.17 155.94,64.94 151.93,65.15 147.92,64.72 143.91,65.73 139.90,64.02 135.90,70.32 131.89,64.60 127.88,66.10 123.87,65.19 119.86,66.68 115.85,64.97 111.84,64.43 107.83,64.91 103.82,68.60 100.62,66.52 97.41,67.32 94.20,68.12 90.99,68.92 87.79,68.12 83.75,71.33 79.65,71.13 77.35,75.33 73.95,79.51 71.05,76.25 67.05,84.11 64.15,80.85 61.35,86.21 58.15,89.75 54.95,95.88 51.75,104.51 48.45,113.32 46.85,116.98 42.85,120.12 39.65,121.70 35.15,121.70" fill="#2ca02c" fill-opacity="0.14" stroke="none"/>
<polygon points="35.19,121.71 50.90,118.00 54.91,114.64 58.92,114.47 62.93,109.92 66.94,102.96 70.95,96.00 75.76,86.21 79.77,84.06 83.78,80.31 87.79,75.75 92.60,67.18 97.41,61.57 102.22,58.36 105.43,55.95 107.83,51.14 119.06,51.14 123.87,51.95 127.88,50.34 131.89,47.10 135.90,45.21 139.90,45.72 143.91,38.22 147.92,41.14 151.93,40.05 155.94,38.16 159.95,29.86 163.96,32.83 167.97,34.20 171.98,37.02 175.99,32.30 179.99,33.19 184.80,39.87 188.01,37.37 192.02,35.38 196.03,38.35 196.03,72.20 192.02,70.75 188.01,74.27 184.80,77.99 179.99,73.14 175.99,73.78 171.98,80.02 167.97,78.74 163.96,78.89 159.95,77.14 155.94,85.88 151.93,88.20 147.92,89.72 143.91,87.23 139.90,95.16 135.90,95.07 131.89,97.39 127.88,100.63 123.87,101.66 119.06,100.17 107.83,98.57 105.43,103.03 102.22,104.98 97.41,107.50 92.60,112.43 87.79,117.78 83.78,117.75 79.77,116.92 75.76,114.48 70.95,118.78 66.94,121.16 62.93,121.70 58.92,121.70 54.91,121.70 50.90,121.71 35.19,121.71" fill="#d62728" fill-opacity="0.14" stroke="none"/>
<polygon points="35.19,121.71 42.89,119.02 50.90,116.60 54.91,115.70 58.92,115.12 62.93,113.32 66.94,110.71 70.95,107.63 74.96,104.70 79.77,99.49 84.58,94.28 89.39,92.27 94.20,89.63 97.41,88.03 100.62,84.50 103.82,84.02 107.83,86.11 111.84,84.50 115.85,83.22 119.86,84.82 123.87,82.42 127.88,80.82 131.89,78.73 135.90,77.61 139.90,76.81 143.91,76.49 147.92,75.20 151.93,73.28 155.94,72.32 159.95,72.00 163.96,71.19 167.97,70.07 171.98,68.79 175.99,68.47 179.99,67.99 184.00,67.51 188.01,66.86 192.02,65.58 196.03,61.57 196.03,84.05 192.02,88.19 188.01,89.61 184.00,90.38 179.99,91.00 175.99,91.61 171.98,92.07 167.97,93.49 163.96,94.75 159.95,95.68 155.94,96.14 151.93,97.23 147.92,99.29 143.91,100.71 139.90,101.17 135.90,102.10 131.89,103.36 127.88,105.42 123.87,106.80 119.86,108.97 115.85,107.14 111.84,108.19 107.83,109.57 103.82,107.25 100.62,107.55 97.41,110.90 94.20,112.32 89.39,114.23 84.58,113.66 79.77,116.30 74.96,118.93 70.95,119.71 66.94,120.65 62.93,121.11 58.92,120.76 54.91,120.37 50.90,120.31 42.89,120.83 35.19,121.71" fill="#9467bd" fill-opacity="0.14" stroke="none"/>
<polygon points="35.19,121.71 50.90,120.37 58.92,118.88 66.94,117.40 71.75,115.70 76.56,114.22 81.37,113.14 86.18,112.07 90.99,111.31 95.80,110.40 100.62,109.16 105.43,108.24 110.24,108.61 113.44,107.30 115.85,105.51 119.86,99.55 123.87,100.01 127.88,98.06 131.89,99.32 135.90,96.57 139.90,93.82 143.91,91.07 147.92,89.13 151.93,86.86 155.94,86.13 159.95,85.92 163.96,86.19 167.97,85.50 171.98,84.17 175.99,83.96 179.99,81.67 184.00,80.66 188.01,83.34 192.02,78.64 196.03,74.42 196.03,102.44 192.02,106.14 188.01,110.32 184.00,107.12 179.99,107.61 175.99,109.38 171.98,109.07 167.97,109.88 163.96,110.05 159.95,109.25 155.94,108.94 151.93,109.06 147.92,110.53 143.91,111.68 139.90,113.62 135.90,115.57 131.89,117.52 127.88,115.46 123.87,116.60 119.86,115.34 115.85,120.50 113.44,121.70 110.24,121.70 105.43,120.90 100.62,120.72 95.80,120.86 90.99,120.67 86.18,120.33 81.37,120.31 76.56,120.29 71.75,120.91 66.94,121.70 58.92,121.70 50.90,121.71 35.19,121.71" fill="#8c564b" fill-opacity="0.14" stroke="none"/>
<polygon points="35.15,121.70 39.65,120.66 42.85,117.50 46.85,112.85 49.35,106.85 52.55,96.39 55.85,85.61 59.35,75.86 62.35,69.72 64.15,66.63 67.05,60.80 70.15,57.95 73.35,54.60 76.55,52.04 79.75,50.29 83.75,49.30 86.99,51.54 90.19,52.99 94.20,53.60 98.21,53.41 102.22,52.90 105.43,53.07 109.44,53.20 115.85,52.57 119.86,51.58 123.87,49.79 127.88,49.59 131.89,51.84 135.90,49.30 139.90,49.17 143.91,49.83 147.92,51.62 151.93,48.28 155.94,47.50 159.95,48.01 163.96,48.84 167.97,46.62 171.98,46.48 175.99,46.35 179.99,45.41 184.00,45.60 188.01,44.82 192.02,42.60 196.03,40.86 196.03,63.30 192.02,64.77 188.01,66.72 184.00,67.22 179.99,66.77 175.99,67.43 171.98,67.30 167.97,67.17 163.96,69.11 159.95,68.02 155.94,67.24 151.93,67.75 147.92,70.82 143.91,68.76 139.90,67.83 135.90,67.69 131.89,69.96 127.88,67.48 123.87,67.48 119.86,69.08 115.85,69.88 109.44,70.21 105.43,69.88 102.22,69.56 98.21,69.88 94.20,69.88 90.19,69.08 86.99,67.48 83.75,65.08 79.75,65.50 76.55,66.64 73.35,68.58 70.15,71.33 67.05,73.58 64.15,78.87 62.35,81.61 59.35,87.18 55.85,95.39 52.55,104.61 49.35,113.55 46.85,118.35 42.85,121.10 39.65,121.70 35.15,121.70" fill="#e377c2" fill-opacity="0.14" stroke="none"/>
<polyline points="35.15,121.70 39.65,121.70 42.85,119.30 46.85,115.60 49.35,110.20 52.55,100.50 55.85,90.50 59.35,81.50 62.35,75.50 64.15,72.50 67.05,66.80 70.15,64.10 73.35,60.90 76.55,58.50 79.75,56.90 83.75,56.10 86.99,58.50 90.19,60.10 94.20,60.90 98.21,60.90 102.22,60.58 105.43,60.90 109.44,61.22 115.85,60.90 119.86,60.10 123.87,58.50 127.88,58.50 131.89,60.90 135.90,58.50 139.90,58.50 143.91,59.30 147.92,61.22 151.93,58.01 155.94,57.37 159.95,58.01 163.96,58.98 167.97,56.89 171.98,56.89 175.99,56.89 179.99,56.09 184.00,56.41 188.01,55.77 192.02,53.68 196.03,52.08" fill="none" stroke="#e377c2" stroke-width="1.55" stroke-linejoin="round" stroke-linecap="butt"/>
<polyline points="35.19,121.71 50.90,121.71 58.92,120.91 66.94,120.11 71.75,118.83 76.56,117.70 81.37,116.90 86.18,116.10 90.99,115.62 95.80,114.98 100.62,114.01 105.43,113.37 110.24,114.01 113.44,112.89 115.85,111.29 119.86,105.68 123.87,106.48 127.88,104.87 131.89,106.48 135.90,104.07 139.90,101.67 143.91,99.26 147.92,97.66 151.93,95.73 155.94,95.25 159.95,95.25 163.96,95.73 167.97,95.25 171.98,94.13 175.99,94.13 179.99,92.05 184.00,91.24 188.01,94.13 192.02,89.64 196.03,85.63" fill="none" stroke="#8c564b" stroke-width="1.55" stroke-linejoin="round" stroke-linecap="butt"/>
<polyline points="35.19,121.71 42.89,120.11 50.90,118.83 54.91,118.50 58.92,118.50 62.93,117.70 66.94,116.10 70.95,114.01 74.96,112.09 79.77,108.08 84.58,104.07 89.39,103.27 94.20,100.86 97.41,99.26 100.62,95.73 103.82,95.25 107.83,97.34 111.84,95.73 115.85,94.45 119.86,96.05 123.87,93.65 127.88,92.05 131.89,89.96 135.90,88.84 139.90,88.04 143.91,87.72 147.92,86.43 151.93,84.51 155.94,83.55 159.95,83.23 163.96,82.42 167.97,81.30 171.98,80.02 175.99,79.70 179.99,79.22 184.00,78.74 188.01,78.09 192.02,76.81 196.03,72.80" fill="none" stroke="#9467bd" stroke-width="1.55" stroke-linejoin="round" stroke-linecap="butt"/>
<polyline points="35.19,121.71 50.90,121.71 54.91,119.31 58.92,120.11 62.93,117.70 66.94,112.89 70.95,108.08 75.76,100.86 79.77,100.86 83.78,99.26 87.79,96.86 92.60,89.64 97.41,84.03 102.22,80.82 105.43,78.41 107.83,73.60 119.06,73.60 123.87,74.41 127.88,72.80 131.89,69.72 135.90,68.12 139.90,68.92 143.91,61.70 147.92,64.91 151.93,64.11 155.94,62.50 159.95,54.49 163.96,56.89 167.97,57.37 171.98,59.30 175.99,53.68 179.99,53.68 184.80,59.30 188.01,56.09 192.02,53.20 196.03,55.29" fill="none" stroke="#d62728" stroke-width="1.55" stroke-linejoin="round" stroke-linecap="butt"/>
<polyline points="35.15,121.70 39.65,121.40 42.85,118.50 46.85,114.50 48.45,110.50 51.75,100.90 54.95,91.20 58.15,84.00 61.35,79.40 64.15,73.10 67.05,75.40 71.05,66.20 73.95,68.50 77.35,64.10 79.65,59.90 83.75,60.10 87.79,56.89 90.99,57.69 94.20,56.89 97.41,56.09 100.62,55.29 103.82,57.37 107.83,53.68 111.84,53.20 115.85,53.68 119.86,55.29 123.87,53.68 127.88,54.49 131.89,52.88 135.90,58.50 139.90,52.08 143.91,53.68 147.92,52.56 151.93,52.88 155.94,52.56 159.95,53.68 163.96,54.49 167.97,54.49 171.98,54.49 175.99,54.81 179.99,55.29 184.00,54.49 188.01,52.88 192.02,50.96 196.03,48.07" fill="none" stroke="#2ca02c" stroke-width="1.55" stroke-linejoin="round" stroke-linecap="butt"/>
<polyline points="35.15,121.70 38.85,112.00 42.85,97.60 46.85,84.80 49.85,76.00 51.55,68.50 55.05,69.70 59.05,65.10 63.65,61.10 67.05,58.80 71.65,53.00 77.35,51.30 84.85,49.60 86.18,46.47 88.59,42.46 90.99,40.86 94.20,42.46 97.41,41.66 100.62,40.37 103.82,40.05 107.03,38.45 110.24,36.53 113.44,35.24 115.85,34.92 119.86,35.24 123.87,31.23 127.88,30.11 131.89,30.43 135.90,31.72 139.90,28.83 143.91,28.03 147.92,26.42 151.93,24.82 155.94,26.42 159.95,25.62 163.96,25.94 167.97,24.82 171.98,25.94 175.99,25.62 179.99,25.94 184.00,27.23 188.01,26.42 192.02,25.30 196.03,22.41" fill="none" stroke="#ff7f0e" stroke-width="1.55" stroke-linejoin="round" stroke-linecap="butt"/>
<polyline points="35.15,121.70 39.65,121.70 42.85,119.30 46.85,115.30 49.35,109.70 52.55,99.30 55.75,89.60 57.35,85.00 61.35,70.20 63.65,63.40 67.05,62.20 71.65,54.80 76.25,55.30 84.85,54.80 85.38,52.08 88.59,49.68 91.80,47.27 95.00,45.67 98.21,44.54 101.42,43.26 105.43,42.46 108.63,41.66 111.84,37.65 115.85,34.92 119.86,35.56 123.87,32.04 127.88,31.72 131.89,30.75 135.90,32.04 139.90,31.72 143.91,32.84 147.92,30.11 151.93,28.83 155.94,27.55 159.95,26.42 163.96,25.94 167.97,26.42 171.98,26.90 175.99,25.94 179.99,26.42 184.00,25.94 188.01,25.94 192.02,25.30 196.03,22.09" fill="none" stroke="#1f77b4" stroke-width="1.55" stroke-linejoin="round" stroke-linecap="butt"/>
<line x1="23.3" y1="16.0" x2="23.3" y2="126.8" stroke="#262626" stroke-width="1.25"/>
<line x1="27.0" y1="130.7" x2="204.5" y2="130.7" stroke="#262626" stroke-width="1.25"/>
<text x="22.00" y="124.50" font-size="8.3" text-anchor="end" font-family="Liberation Sans" fill="#222222" stroke="#222222" stroke-width="0.12" textLength="10.57" lengthAdjust="spacingAndGlyphs">0.0</text>
<text x="22.00" y="102.04" font-size="8.3" text-anchor="end" font-family="Liberation Sans" fill="#222222" stroke="#222222" stroke-width="0.12" textLength="10.57" lengthAdjust="spacingAndGlyphs">0.2</text>
<text x="22.00" y="79.58" font-size="8.3" text-anchor="end" font-family="Liberation Sans" fill="#222222" stroke="#222222" stroke-width="0.12" textLength="10.57" lengthAdjust="spacingAndGlyphs">0.4</text>
<text x="22.00" y="57.12" font-size="8.3" text-anchor="end" font-family="Liberation Sans" fill="#222222" stroke="#222222" stroke-width="0.12" textLength="10.57" lengthAdjust="spacingAndGlyphs">0.6</text>
<text x="22.00" y="34.66" font-size="8.3" text-anchor="end" font-family="Liberation Sans" fill="#222222" stroke="#222222" stroke-width="0.12" textLength="10.57" lengthAdjust="spacingAndGlyphs">0.8</text>
<text x="35.30" y="137.90" font-size="8.3" text-anchor="middle" font-family="Liberation Sans" fill="#222222" stroke="#222222" stroke-width="0.12" textLength="10.57" lengthAdjust="spacingAndGlyphs">0.0</text>
<text x="74.60" y="137.90" font-size="8.3" text-anchor="middle" font-family="Liberation Sans" fill="#222222" stroke="#222222" stroke-width="0.12" textLength="10.57" lengthAdjust="spacingAndGlyphs">0.5</text>
<text x="113.90" y="137.90" font-size="8.3" text-anchor="middle" font-family="Liberation Sans" fill="#222222" stroke="#222222" stroke-width="0.12" textLength="10.57" lengthAdjust="spacingAndGlyphs">1.0</text>
<text x="153.20" y="137.90" font-size="8.3" text-anchor="middle" font-family="Liberation Sans" fill="#222222" stroke="#222222" stroke-width="0.12" textLength="10.57" lengthAdjust="spacingAndGlyphs">1.5</text>
<text x="192.50" y="137.90" font-size="8.3" text-anchor="middle" font-family="Liberation Sans" fill="#222222" stroke="#222222" stroke-width="0.12" textLength="10.57" lengthAdjust="spacingAndGlyphs">2.0</text>
<text x="115.75" y="145.30" font-size="6.8" text-anchor="middle" font-family="Liberation Sans" fill="#222222" stroke="#222222" stroke-width="0.12" textLength="78.77" lengthAdjust="spacingAndGlyphs">Environment timesteps</text>
<g transform="translate(8.1,71.40) rotate(-90)"><text x="0.00" y="0.00" font-size="6.8" text-anchor="middle" font-family="Liberation Sans" fill="#222222" stroke="#222222" stroke-width="0.12" textLength="67.23" lengthAdjust="spacingAndGlyphs">Mean Test Win Rate</text></g>
<text x="200.90" y="143.20" font-size="4.3" text-anchor="middle" font-family="Liberation Sans" fill="#222222" stroke="#222222" stroke-width="0.12" textLength="7.20" lengthAdjust="spacingAndGlyphs">1e6</text>
<text x="115.75" y="14.50" font-size="8.3" text-anchor="middle" font-family="Liberation Sans" fill="#222222" stroke="#222222" stroke-width="0.12" textLength="36.26" lengthAdjust="spacingAndGlyphs">5m_vs_6m</text>
<line x1="151.85" y1="71.50" x2="158.65" y2="71.50" stroke="#1f77b4" stroke-width="1.5"/>
<text x="162.75" y="73.85" font-size="6.7" text-anchor="start" font-family="Liberation Sans" fill="#222222" stroke="#222222" stroke-width="0.12" textLength="38.78" lengthAdjust="spacingAndGlyphs">PAGNet(Ours)</text>
<line x1="151.85" y1="79.77" x2="158.65" y2="79.77" stroke="#ff7f0e" stroke-width="1.5"/>
<text x="162.75" y="82.12" font-size="6.7" text-anchor="start" font-family="Liberation Sans" fill="#222222" stroke="#222222" stroke-width="0.12" textLength="30.86" lengthAdjust="spacingAndGlyphs">PAGNet_PT</text>
<line x1="151.85" y1="88.04" x2="158.65" y2="88.04" stroke="#2ca02c" stroke-width="1.5"/>
<text x="162.75" y="90.39" font-size="6.7" text-anchor="start" font-family="Liberation Sans" fill="#222222" stroke="#222222" stroke-width="0.12" textLength="31.19" lengthAdjust="spacingAndGlyphs">PAGNet_FC</text>
<line x1="151.85" y1="96.31" x2="158.65" y2="96.31" stroke="#d62728" stroke-width="1.5"/>
<text x="162.75" y="98.66" font-size="6.7" text-anchor="start" font-family="Liberation Sans" fill="#222222" stroke="#222222" stroke-width="0.12" textLength="17.64" lengthAdjust="spacingAndGlyphs">MASIA</text>
<line x1="151.85" y1="104.58" x2="158.65" y2="104.58" stroke="#9467bd" stroke-width="1.5"/>
<text x="162.75" y="106.93" font-size="6.7" text-anchor="start" font-family="Liberation Sans" fill="#222222" stroke="#222222" stroke-width="0.12" textLength="21.48" lengthAdjust="spacingAndGlyphs">G2ANet</text>
<line x1="151.85" y1="112.85" x2="158.65" y2="112.85" stroke="#8c564b" stroke-width="1.5"/>
<text x="162.75" y="115.20" font-size="6.7" text-anchor="start" font-family="Liberation Sans" fill="#222222" stroke="#222222" stroke-width="0.12" textLength="12.79" lengthAdjust="spacingAndGlyphs">DGN</text>
<line x1="151.85" y1="121.12" x2="158.65" y2="121.12" stroke="#e377c2" stroke-width="1.5"/>
<text x="162.75" y="123.47" font-size="6.7" text-anchor="start" font-family="Liberation Sans" fill="#222222" stroke="#222222" stroke-width="0.12" textLength="14.68" lengthAdjust="spacingAndGlyphs">QMIX</text></g>
<g transform="translate(623.20,0.00)"><line x1="35.30" y1="16.0" x2="35.30" y2="126.8" stroke="#ebebeb" stroke-width="0.8"/>
<line x1="74.60" y1="16.0" x2="74.60" y2="126.8" stroke="#ebebeb" stroke-width="0.8"/>
<line x1="113.90" y1="16.0" x2="113.90" y2="126.8" stroke="#ebebeb" stroke-width="0.8"/>
<line x1="153.20" y1="16.0" x2="153.20" y2="126.8" stroke="#ebebeb" stroke-width="0.8"/>
<line x1="192.50" y1="16.0" x2="192.50" y2="126.8" stroke="#ebebeb" stroke-width="0.8"/>
<line x1="27.0" y1="121.35" x2="204.5" y2="121.35" stroke="#ebebeb" stroke-width="0.8"/>
<line x1="27.0" y1="99.19" x2="204.5" y2="99.19" stroke="#ebebeb" stroke-width="0.8"/>
<line x1="27.0" y1="77.03" x2="204.5" y2="77.03" stroke="#ebebeb" stroke-width="0.8"/>
<line x1="27.0" y1="54.87" x2="204.5" y2="54.87" stroke="#ebebeb" stroke-width="0.8"/>
<line x1="27.0" y1="32.71" x2="204.5" y2="32.71" stroke="#ebebeb" stroke-width="0.8"/>
<polygon points="35.14,118.50 38.83,116.46 42.84,94.20 46.85,91.99 50.85,84.16 53.26,81.38 55.66,81.84 58.07,75.09 60.48,68.33 63.68,66.28 66.09,66.74 69.30,67.09 73.30,66.21 78.12,65.54 82.93,64.42 90.94,56.85 94.95,53.64 98.96,50.43 102.97,47.23 106.98,48.03 110.99,48.83 115.80,49.71 115.80,51.31 119.81,45.86 123.82,43.62 127.83,41.37 131.84,40.73 135.85,38.49 139.85,36.24 143.86,34.80 147.87,33.36 151.88,31.92 155.89,30.48 159.90,29.03 163.91,27.59 167.92,27.27 171.93,27.11 175.94,26.47 179.94,22.95 183.95,21.18 187.96,18.94 191.97,18.62 195.98,20.87 195.98,31.98 191.97,30.06 187.96,30.70 183.95,33.27 179.94,35.35 175.94,39.20 171.93,40.17 167.92,40.65 163.91,41.29 159.90,43.06 155.89,44.82 151.88,46.59 147.87,48.35 143.86,50.12 139.85,51.88 135.85,54.45 131.84,57.02 127.83,57.98 123.82,60.55 119.81,63.11 115.80,68.89 115.80,67.28 110.99,66.56 106.98,65.76 102.97,64.95 98.96,68.16 94.95,71.37 90.94,74.58 82.93,82.15 78.12,83.27 73.30,83.57 69.30,83.32 66.09,82.07 63.68,80.93 60.48,82.08 58.07,88.16 55.66,94.23 53.26,93.09 50.85,95.12 46.85,100.12 42.84,99.51 38.83,118.95 35.14,118.50" fill="#1f77b4" fill-opacity="0.14" stroke="none"/>
<polygon points="35.14,118.50 38.83,109.74 42.84,96.06 46.85,85.59 50.85,75.13 54.86,62.83 57.27,57.79 60.48,53.16 63.68,50.77 67.69,39.65 70.90,38.07 74.91,35.32 78.92,31.43 82.93,27.53 86.94,25.24 90.94,26.96 95.75,29.02 99.76,27.21 103.77,25.71 107.78,22.94 111.79,20.81 115.80,21.54 119.81,22.07 123.82,22.93 127.83,22.18 131.84,23.84 135.85,25.01 139.85,26.03 143.86,23.52 147.87,21.97 151.88,23.30 155.89,23.36 159.90,23.09 163.91,24.27 167.92,24.32 171.93,23.25 175.94,26.03 179.94,24.00 183.95,25.34 187.96,19.78 190.37,22.22 192.77,26.74 195.98,24.22 195.98,30.88 192.77,33.48 190.37,29.03 187.96,26.65 183.95,32.32 179.94,31.09 175.94,33.23 171.93,30.56 167.92,31.73 163.91,31.79 159.90,30.72 155.89,31.09 151.88,31.15 147.87,29.92 143.86,31.58 139.85,34.20 135.85,33.29 131.84,32.22 127.83,30.67 123.82,31.52 119.81,30.78 115.80,30.35 111.79,29.79 107.78,32.15 103.77,35.15 99.76,36.87 95.75,38.90 90.94,37.12 86.94,35.62 82.93,38.14 78.92,42.27 74.91,46.39 70.90,48.45 67.69,49.43 63.68,59.80 60.48,61.59 57.27,65.61 54.86,70.20 50.85,81.70 46.85,90.48 42.84,99.25 38.83,111.23 35.14,118.50" fill="#ff7f0e" fill-opacity="0.14" stroke="none"/>
<polygon points="35.14,120.91 38.83,114.05 42.84,93.40 46.85,88.78 50.85,84.16 54.06,80.98 57.27,73.01 59.67,66.03 63.68,57.52 67.69,60.26 70.10,60.50 74.91,60.26 79.72,57.33 83.73,56.75 87.74,51.36 90.94,53.95 94.15,49.32 98.16,45.54 102.17,44.16 106.98,43.31 111.79,42.30 115.80,43.70 115.80,43.70 119.81,41.61 123.82,41.61 127.83,42.42 131.84,41.61 135.85,41.61 139.85,42.42 143.86,44.34 147.87,42.74 151.88,40.01 155.89,40.01 159.90,40.81 163.91,36.00 167.92,38.41 171.93,41.61 175.94,38.89 179.94,41.61 183.95,40.01 187.96,41.61 191.97,38.41 195.98,40.49 195.98,58.23 191.97,56.25 187.96,59.57 183.95,58.07 179.94,59.78 175.94,57.17 171.93,60.00 167.92,56.90 163.91,54.60 159.90,59.52 155.89,58.83 151.88,58.93 147.87,61.77 143.86,63.48 139.85,61.66 135.85,60.97 131.84,61.08 127.83,61.99 123.82,61.29 119.81,61.40 115.80,63.59 115.80,63.59 111.79,62.36 106.98,63.64 102.17,64.76 98.16,66.37 94.15,70.38 90.94,75.19 87.74,72.78 83.73,78.40 79.72,79.20 74.91,82.40 70.10,80.54 67.69,79.18 63.68,74.55 59.67,81.18 57.27,87.03 54.06,93.49 50.85,95.12 46.85,96.92 42.84,98.71 38.83,116.54 35.14,120.91" fill="#2ca02c" fill-opacity="0.14" stroke="none"/>
<polygon points="35.14,120.91 39.63,119.89 42.84,118.34 46.85,114.99 50.85,111.64 54.86,108.30 58.87,96.93 62.88,95.14 66.89,93.35 69.30,89.55 71.70,77.73 74.91,69.72 78.92,67.93 82.93,70.15 86.94,72.37 90.94,67.56 94.95,64.58 98.96,61.60 103.77,51.57 106.98,50.95 111.79,52.02 115.80,53.05 115.80,52.25 119.81,48.47 123.82,49.49 127.83,44.11 131.84,45.01 135.85,43.09 139.85,42.12 143.86,42.60 147.87,43.41 151.88,42.60 155.89,35.39 159.90,37.79 163.91,41.00 167.92,36.19 171.93,31.86 175.94,36.19 179.94,28.97 183.95,31.38 187.96,28.65 191.97,31.86 195.98,27.37 195.98,49.55 191.97,54.17 187.96,51.09 183.95,53.95 179.94,51.68 175.94,59.03 171.93,54.83 167.92,59.30 163.91,64.24 159.90,61.17 155.89,58.89 151.88,66.24 147.87,67.18 143.86,66.51 139.85,66.16 135.85,67.26 131.84,69.31 127.83,68.58 123.82,74.20 119.81,73.40 115.80,77.40 115.80,78.21 111.79,77.40 106.98,76.60 103.77,77.40 98.96,87.70 94.95,90.91 90.94,94.12 86.94,97.29 82.93,93.09 78.92,88.90 74.91,88.71 71.70,95.14 69.30,105.77 66.89,108.38 62.88,108.19 58.87,108.01 54.86,117.49 50.85,118.95 46.85,120.42 42.84,121.35 39.63,121.35 35.14,120.91" fill="#d62728" fill-opacity="0.14" stroke="none"/>
<polygon points="35.14,120.91 42.84,114.87 47.65,105.85 52.46,103.23 55.66,102.03 58.87,93.61 63.68,90.01 68.49,87.22 73.30,83.63 78.12,79.24 82.93,74.84 86.94,70.65 90.94,62.60 94.15,60.19 97.36,58.59 100.57,56.98 103.77,59.39 106.98,56.98 119.81,56.18 123.82,57.79 127.83,59.39 131.84,62.12 135.85,60.99 139.85,59.39 143.06,56.18 147.87,50.37 151.88,51.50 155.89,50.70 159.90,49.89 163.91,48.29 167.92,49.09 171.93,45.88 175.94,43.48 179.94,42.68 183.95,41.07 187.96,35.94 191.97,37.06 195.98,34.98 195.98,73.80 191.97,76.21 187.96,75.42 183.95,80.89 179.94,82.82 175.94,83.96 171.93,86.70 167.92,90.24 163.91,89.77 159.90,91.70 155.89,92.84 151.88,93.97 147.87,93.18 143.06,99.39 139.85,102.86 135.85,104.80 131.84,106.25 127.83,103.20 123.82,100.47 119.81,97.74 106.98,94.92 103.77,96.42 100.57,93.11 97.36,93.81 94.15,94.51 90.94,96.01 86.94,101.86 82.93,103.65 78.12,105.17 73.30,106.68 68.49,107.39 63.68,107.30 58.87,108.01 55.66,114.47 52.46,113.72 47.65,113.39 42.84,119.47 35.14,120.91" fill="#9467bd" fill-opacity="0.14" stroke="none"/>
<polygon points="35.14,116.90 39.63,116.69 42.84,113.53 47.65,112.08 52.46,109.66 57.27,106.93 62.08,103.58 66.89,98.72 70.90,93.21 74.91,94.91 78.92,94.20 82.93,92.69 87.74,95.05 90.94,93.78 95.75,88.87 98.96,92.81 102.17,91.94 106.98,83.02 110.19,83.76 115.80,83.64 119.81,82.75 123.82,77.54 127.83,79.38 131.84,81.70 135.85,78.41 139.85,78.81 143.86,79.37 147.87,74.95 151.88,75.35 155.89,75.27 159.90,66.68 163.91,74.14 167.92,70.20 171.93,71.72 175.94,68.75 179.94,68.99 183.95,68.27 187.96,64.49 191.97,64.41 195.98,62.72 195.98,87.09 191.97,88.69 187.96,88.69 183.95,92.38 179.94,93.02 175.94,92.70 171.93,95.59 167.92,93.98 163.91,97.83 159.90,90.30 155.89,98.80 151.88,98.80 147.87,98.31 143.86,102.64 139.85,102.00 135.85,101.52 131.84,104.73 127.83,102.32 123.82,100.40 119.81,105.53 115.80,106.33 110.19,106.33 106.98,105.53 102.17,114.35 98.96,115.15 95.75,111.14 90.94,115.95 87.74,116.30 82.93,112.25 78.92,112.34 74.91,111.63 70.90,108.52 66.89,112.63 62.08,115.79 57.27,117.25 52.46,117.72 47.65,117.88 42.84,117.07 39.63,118.72 35.14,116.90" fill="#8c564b" fill-opacity="0.14" stroke="none"/>
<polygon points="35.14,121.71 42.84,120.65 50.85,119.52 58.87,117.59 62.88,112.21 66.89,113.25 70.90,108.68 74.91,108.95 78.92,105.63 82.93,104.71 86.94,107.00 90.94,102.08 94.95,101.17 98.96,99.45 102.97,97.73 106.98,99.22 111.79,92.67 115.80,94.97 119.81,94.06 123.82,90.74 127.83,91.44 131.84,92.93 135.85,95.23 139.85,85.50 143.86,92.61 147.87,87.69 151.88,86.78 155.89,88.28 159.90,83.68 163.91,86.14 167.92,83.14 171.93,80.15 175.94,79.72 179.94,83.14 183.95,82.39 187.96,76.99 191.97,83.78 195.98,80.47 195.98,98.18 191.97,101.39 187.96,94.49 183.95,99.79 179.94,100.43 175.94,96.90 171.93,97.22 167.92,100.11 163.91,102.99 159.90,100.43 155.89,104.92 151.88,103.31 147.87,104.12 143.86,108.93 139.85,101.71 135.85,111.33 131.84,108.93 127.83,107.32 123.82,106.52 119.81,109.73 115.80,110.53 111.79,107.83 106.98,113.56 102.97,111.40 98.96,112.43 94.95,113.47 90.94,113.71 86.94,117.95 82.93,114.98 78.92,115.22 74.91,117.86 70.90,116.70 66.89,120.37 62.88,118.43 58.87,121.35 50.85,121.71 42.84,121.71 35.14,121.71" fill="#e377c2" fill-opacity="0.14" stroke="none"/>
<polyline points="35.14,121.71 42.84,121.71 50.85,121.71 58.87,120.91 62.88,116.10 66.89,117.70 70.90,113.69 74.91,114.50 78.92,111.29 82.93,110.49 86.94,112.89 90.94,108.08 94.95,107.28 98.96,105.68 102.97,104.07 106.98,105.68 111.79,99.26 115.80,101.67 119.81,100.86 123.82,97.66 127.83,98.46 131.84,100.06 135.85,102.47 139.85,92.85 143.86,100.06 147.87,95.25 151.88,94.45 155.89,96.05 159.90,91.56 163.91,94.13 167.92,91.24 171.93,88.36 175.94,88.04 179.94,91.56 183.95,90.92 187.96,85.63 191.97,92.53 195.98,89.32" fill="none" stroke="#e377c2" stroke-width="1.55" stroke-linejoin="round" stroke-linecap="butt"/>
<polyline points="35.14,116.90 39.63,117.70 42.84,115.30 47.65,114.98 52.46,113.69 57.27,112.09 62.08,109.68 66.89,105.68 70.90,100.86 74.91,103.27 78.92,103.27 82.93,102.47 87.74,105.68 90.94,104.87 95.75,100.06 98.96,104.07 102.17,103.27 106.98,94.45 110.19,95.25 115.80,95.25 119.81,94.45 123.82,89.32 127.83,91.24 131.84,93.65 135.85,90.44 139.85,90.92 143.86,91.56 147.87,87.23 151.88,87.72 155.89,87.72 159.90,79.22 163.91,86.75 167.92,82.90 171.93,84.51 175.94,81.62 179.94,81.94 183.95,81.30 187.96,77.61 191.97,77.61 195.98,76.01" fill="none" stroke="#8c564b" stroke-width="1.55" stroke-linejoin="round" stroke-linecap="butt"/>
<polyline points="35.14,120.91 42.84,117.70 47.65,110.49 52.46,109.68 55.66,109.68 58.87,102.47 63.68,100.06 68.49,98.46 73.30,96.05 78.12,92.85 82.93,89.64 86.94,86.43 90.94,79.22 94.15,76.81 97.36,75.21 100.57,73.60 103.77,76.01 106.98,73.60 119.81,72.80 123.82,74.41 127.83,76.01 131.84,78.74 135.85,77.61 139.85,76.01 143.06,72.80 147.87,66.99 151.88,68.12 155.89,67.32 159.90,66.51 163.91,64.91 167.92,65.71 171.93,62.50 175.94,60.10 179.94,59.30 183.95,57.69 187.96,52.56 191.97,53.68 195.98,51.60" fill="none" stroke="#9467bd" stroke-width="1.55" stroke-linejoin="round" stroke-linecap="butt"/>
<polyline points="35.14,120.91 39.63,120.91 42.84,120.11 46.85,117.70 50.85,115.30 54.86,112.89 58.87,102.47 62.88,101.67 66.89,100.86 69.30,97.66 71.70,86.43 74.91,79.22 78.92,78.41 82.93,81.62 86.94,84.83 90.94,80.82 94.95,77.61 98.96,74.41 103.77,64.11 106.98,63.31 111.79,64.11 115.80,64.91 115.80,64.11 119.81,60.10 123.82,60.90 127.83,55.29 131.84,56.09 135.85,54.17 139.85,53.20 143.86,53.68 147.87,54.49 151.88,53.68 155.89,46.47 159.90,48.87 163.91,52.08 167.92,47.27 171.93,42.94 175.94,47.27 179.94,40.05 183.95,42.46 187.96,39.73 191.97,42.94 195.98,38.45" fill="none" stroke="#d62728" stroke-width="1.55" stroke-linejoin="round" stroke-linecap="butt"/>
<polyline points="35.14,120.91 38.83,115.30 42.84,96.05 46.85,92.85 50.85,89.64 54.06,87.23 57.27,80.02 59.67,73.60 63.68,66.03 67.69,69.72 70.10,70.52 74.91,71.32 79.72,68.12 83.73,67.32 87.74,61.70 90.94,64.11 94.15,59.30 98.16,55.29 102.17,53.68 106.98,52.56 111.79,51.28 115.80,52.56 115.80,52.56 119.81,50.48 123.82,50.48 127.83,51.28 131.84,50.48 135.85,50.48 139.85,51.28 143.86,53.20 147.87,51.60 151.88,48.87 155.89,48.87 159.90,49.68 163.91,44.86 167.92,47.27 171.93,50.48 175.94,47.75 179.94,50.48 183.95,48.87 187.96,50.48 191.97,47.27 195.98,49.35" fill="none" stroke="#2ca02c" stroke-width="1.55" stroke-linejoin="round" stroke-linecap="butt"/>
<polyline points="35.14,118.50 38.83,110.49 42.84,97.66 46.85,88.04 50.85,78.41 54.86,66.51 57.27,61.70 60.48,57.37 63.68,55.29 67.69,44.54 70.90,43.26 74.91,40.86 78.92,36.85 82.93,32.84 86.94,30.43 90.94,32.04 95.75,33.96 99.76,32.04 103.77,30.43 107.78,27.55 111.79,25.30 115.80,25.94 119.81,26.42 123.82,27.23 127.83,26.42 131.84,28.03 135.85,29.15 139.85,30.11 143.86,27.55 147.87,25.94 151.88,27.23 155.89,27.23 159.90,26.90 163.91,28.03 167.92,28.03 171.93,26.90 175.94,29.63 179.94,27.55 183.95,28.83 187.96,23.22 190.37,25.62 192.77,30.11 195.98,27.55" fill="none" stroke="#ff7f0e" stroke-width="1.55" stroke-linejoin="round" stroke-linecap="butt"/>
<polyline points="35.14,118.50 38.83,117.70 42.84,96.86 46.85,96.05 50.85,89.64 53.26,87.23 55.66,88.04 58.07,81.62 60.48,75.21 63.68,73.60 66.09,74.41 69.30,75.21 73.30,74.89 78.12,74.41 82.93,73.28 90.94,65.71 94.95,62.50 98.96,59.30 102.97,56.09 106.98,56.89 110.99,57.69 115.80,58.50 115.80,60.10 119.81,54.49 123.82,52.08 127.83,49.68 131.84,48.87 135.85,46.47 139.85,44.06 143.86,42.46 147.87,40.86 151.88,39.25 155.89,37.65 159.90,36.05 163.91,34.44 167.92,33.96 171.93,33.64 175.94,32.84 179.94,29.15 183.95,27.23 187.96,24.82 191.97,24.34 195.98,26.42" fill="none" stroke="#1f77b4" stroke-width="1.55" stroke-linejoin="round" stroke-linecap="butt"/>
<line x1="23.3" y1="16.0" x2="23.3" y2="126.8" stroke="#262626" stroke-width="1.25"/>
<line x1="27.0" y1="130.7" x2="204.5" y2="130.7" stroke="#262626" stroke-width="1.25"/>
<text x="22.00" y="124.15" font-size="8.3" text-anchor="end" font-family="Liberation Sans" fill="#222222" stroke="#222222" stroke-width="0.12" textLength="10.57" lengthAdjust="spacingAndGlyphs">0.0</text>
<text x="22.00" y="101.99" font-size="8.3" text-anchor="end" font-family="Liberation Sans" fill="#222222" stroke="#222222" stroke-width="0.12" textLength="10.57" lengthAdjust="spacingAndGlyphs">0.2</text>
<text x="22.00" y="79.83" font-size="8.3" text-anchor="end" font-family="Liberation Sans" fill="#222222" stroke="#222222" stroke-width="0.12" textLength="10.57" lengthAdjust="spacingAndGlyphs">0.4</text>
<text x="22.00" y="57.67" font-size="8.3" text-anchor="end" font-family="Liberation Sans" fill="#222222" stroke="#222222" stroke-width="0.12" textLength="10.57" lengthAdjust="spacingAndGlyphs">0.6</text>
<text x="22.00" y="35.51" font-size="8.3" text-anchor="end" font-family="Liberation Sans" fill="#222222" stroke="#222222" stroke-width="0.12" textLength="10.57" lengthAdjust="spacingAndGlyphs">0.8</text>
<text x="35.30" y="137.90" font-size="8.3" text-anchor="middle" font-family="Liberation Sans" fill="#222222" stroke="#222222" stroke-width="0.12" textLength="10.57" lengthAdjust="spacingAndGlyphs">0.0</text>
<text x="74.60" y="137.90" font-size="8.3" text-anchor="middle" font-family="Liberation Sans" fill="#222222" stroke="#222222" stroke-width="0.12" textLength="10.57" lengthAdjust="spacingAndGlyphs">0.5</text>
<text x="113.90" y="137.90" font-size="8.3" text-anchor="middle" font-family="Liberation Sans" fill="#222222" stroke="#222222" stroke-width="0.12" textLength="10.57" lengthAdjust="spacingAndGlyphs">1.0</text>
<text x="153.20" y="137.90" font-size="8.3" text-anchor="middle" font-family="Liberation Sans" fill="#222222" stroke="#222222" stroke-width="0.12" textLength="10.57" lengthAdjust="spacingAndGlyphs">1.5</text>
<text x="192.50" y="137.90" font-size="8.3" text-anchor="middle" font-family="Liberation Sans" fill="#222222" stroke="#222222" stroke-width="0.12" textLength="10.57" lengthAdjust="spacingAndGlyphs">2.0</text>
<text x="115.75" y="145.30" font-size="6.8" text-anchor="middle" font-family="Liberation Sans" fill="#222222" stroke="#222222" stroke-width="0.12" textLength="78.77" lengthAdjust="spacingAndGlyphs">Environment timesteps</text>
<g transform="translate(8.1,71.40) rotate(-90)"><text x="0.00" y="0.00" font-size="6.8" text-anchor="middle" font-family="Liberation Sans" fill="#222222" stroke="#222222" stroke-width="0.12" textLength="67.23" lengthAdjust="spacingAndGlyphs">Mean Test Win Rate</text></g>
<text x="200.90" y="143.20" font-size="4.3" text-anchor="middle" font-family="Liberation Sans" fill="#222222" stroke="#222222" stroke-width="0.12" textLength="7.20" lengthAdjust="spacingAndGlyphs">1e6</text>
<text x="115.75" y="14.50" font-size="8.3" text-anchor="middle" font-family="Liberation Sans" fill="#222222" stroke="#222222" stroke-width="0.12" textLength="46.34" lengthAdjust="spacingAndGlyphs">1o_10b_vs_1r</text>
<line x1="29.10" y1="21.00" x2="35.90" y2="21.00" stroke="#1f77b4" stroke-width="1.5"/>
<text x="40.00" y="23.35" font-size="6.7" text-anchor="start" font-family="Liberation Sans" fill="#222222" stroke="#222222" stroke-width="0.12" textLength="38.78" lengthAdjust="spacingAndGlyphs">PAGNet(Ours)</text>
<line x1="29.10" y1="29.27" x2="35.90" y2="29.27" stroke="#ff7f0e" stroke-width="1.5"/>
<text x="40.00" y="31.62" font-size="6.7" text-anchor="start" font-family="Liberation Sans" fill="#222222" stroke="#222222" stroke-width="0.12" textLength="30.86" lengthAdjust="spacingAndGlyphs">PAGNet_PT</text>
<line x1="29.10" y1="37.54" x2="35.90" y2="37.54" stroke="#2ca02c" stroke-width="1.5"/>
<text x="40.00" y="39.89" font-size="6.7" text-anchor="start" font-family="Liberation Sans" fill="#222222" stroke="#222222" stroke-width="0.12" textLength="31.19" lengthAdjust="spacingAndGlyphs">PAGNet_FC</text>
<line x1="29.10" y1="45.81" x2="35.90" y2="45.81" stroke="#d62728" stroke-width="1.5"/>
<text x="40.00" y="48.16" font-size="6.7" text-anchor="start" font-family="Liberation Sans" fill="#222222" stroke="#222222" stroke-width="0.12" textLength="17.64" lengthAdjust="spacingAndGlyphs">MASIA</text>
<line x1="29.10" y1="54.08" x2="35.90" y2="54.08" stroke="#9467bd" stroke-width="1.5"/>
<text x="40.00" y="56.43" font-size="6.7" text-anchor="start" font-family="Liberation Sans" fill="#222222" stroke="#222222" stroke-width="0.12" textLength="21.48" lengthAdjust="spacingAndGlyphs">G2ANet</text>
<line x1="29.10" y1="62.35" x2="35.90" y2="62.35" stroke="#8c564b" stroke-width="1.5"/>
<text x="40.00" y="64.70" font-size="6.7" text-anchor="start" font-family="Liberation Sans" fill="#222222" stroke="#222222" stroke-width="0.12" textLength="12.79" lengthAdjust="spacingAndGlyphs">DGN</text>
<line x1="29.10" y1="70.62" x2="35.90" y2="70.62" stroke="#e377c2" stroke-width="1.5"/>
<text x="40.00" y="72.97" font-size="6.7" text-anchor="start" font-family="Liberation Sans" fill="#222222" stroke="#222222" stroke-width="0.12" textLength="14.68" lengthAdjust="spacingAndGlyphs">QMIX</text></g>
<g transform="translate(-0.40,180.40)"><line x1="35.30" y1="16.0" x2="35.30" y2="126.8" stroke="#ebebeb" stroke-width="0.8"/>
<line x1="74.60" y1="16.0" x2="74.60" y2="126.8" stroke="#ebebeb" stroke-width="0.8"/>
<line x1="113.90" y1="16.0" x2="113.90" y2="126.8" stroke="#ebebeb" stroke-width="0.8"/>
<line x1="153.20" y1="16.0" x2="153.20" y2="126.8" stroke="#ebebeb" stroke-width="0.8"/>
<line x1="192.50" y1="16.0" x2="192.50" y2="126.8" stroke="#ebebeb" stroke-width="0.8"/>
<line x1="27.0" y1="121.60" x2="204.5" y2="121.60" stroke="#ebebeb" stroke-width="0.8"/>
<line x1="27.0" y1="101.36" x2="204.5" y2="101.36" stroke="#ebebeb" stroke-width="0.8"/>
<line x1="27.0" y1="81.12" x2="204.5" y2="81.12" stroke="#ebebeb" stroke-width="0.8"/>
<line x1="27.0" y1="60.88" x2="204.5" y2="60.88" stroke="#ebebeb" stroke-width="0.8"/>
<line x1="27.0" y1="40.64" x2="204.5" y2="40.64" stroke="#ebebeb" stroke-width="0.8"/>
<line x1="27.0" y1="20.40" x2="204.5" y2="20.40" stroke="#ebebeb" stroke-width="0.8"/>
<polygon points="35.10,121.79 39.43,120.43 43.44,109.94 46.64,100.44 50.65,97.97 54.66,95.51 58.67,89.84 61.88,88.51 65.08,85.59 68.29,81.06 71.50,77.34 74.71,72.01 77.91,66.68 81.92,56.54 83.53,49.87 85.93,44.67 88.34,40.28 91.54,44.12 94.75,34.92 97.96,32.12 100.36,29.22 103.57,36.85 105.98,29.95 108.38,27.85 110.79,28.96 113.99,25.37 116.40,24.87 119.61,24.00 123.62,23.40 127.63,21.51 131.63,26.61 135.64,18.33 139.65,23.20 143.66,26.47 148.47,24.94 152.48,25.32 156.49,25.70 160.50,32.66 164.51,22.29 168.52,25.24 172.21,18.40 175.73,23.75 179.74,22.20 183.75,25.79 187.76,27.46 191.77,28.80 196.58,22.78 196.58,30.87 191.77,37.04 187.76,35.82 183.75,34.27 179.74,30.81 175.73,32.47 172.21,27.23 168.52,34.18 164.51,31.36 160.50,41.84 156.49,35.01 152.48,34.75 148.47,34.49 143.66,36.16 139.65,33.02 135.64,28.27 131.63,36.67 127.63,32.14 123.62,35.06 119.61,36.70 116.40,38.40 113.99,39.51 110.79,43.93 108.38,43.44 105.98,46.15 103.57,53.68 100.36,46.88 97.96,50.39 94.75,54.01 91.54,64.05 88.34,59.88 85.93,63.50 83.53,67.92 81.92,74.08 77.91,82.93 74.71,87.23 71.50,91.52 68.29,94.21 65.08,97.70 61.88,99.59 58.67,99.87 54.66,103.82 50.65,104.56 46.64,105.30 43.44,113.44 39.43,121.60 35.10,121.79" fill="#1f77b4" fill-opacity="0.14" stroke="none"/>
<polygon points="35.10,121.79 38.63,112.65 42.63,99.05 45.84,91.21 48.25,85.14 50.65,76.65 54.66,64.40 57.87,63.67 61.88,63.36 64.28,59.65 67.49,53.79 70.70,50.33 73.90,48.00 75.51,48.84 77.91,52.98 80.32,60.01 82.72,51.01 85.13,45.21 88.34,42.56 91.54,40.86 94.75,46.64 97.96,40.39 101.17,39.75 104.37,43.93 107.58,33.67 110.79,31.11 113.99,30.79 116.40,31.72 119.61,24.67 123.62,31.29 127.63,24.28 131.63,25.21 135.64,21.59 139.65,24.21 143.66,24.27 148.47,22.74 152.48,23.44 156.49,24.47 160.50,25.65 164.51,23.31 168.52,23.69 171.72,22.13 175.73,23.48 179.74,25.14 183.75,27.61 186.96,28.46 190.17,31.39 193.37,26.63 196.58,23.47 196.58,29.54 193.37,32.84 190.17,37.75 186.96,34.96 183.75,34.25 179.74,31.97 175.73,30.49 171.72,29.33 168.52,31.03 164.51,30.83 160.50,33.36 156.49,32.35 152.48,31.51 148.47,30.99 143.66,32.74 139.65,32.86 135.64,30.42 131.63,34.23 127.63,33.54 123.62,40.86 119.61,34.55 116.40,41.85 113.99,41.11 110.79,41.67 107.58,44.48 104.37,54.99 101.17,51.06 97.96,51.94 94.75,58.44 91.54,52.91 88.34,54.39 85.13,56.55 82.72,61.98 80.32,70.61 77.91,63.21 75.51,58.69 73.90,57.61 70.70,59.44 67.49,62.40 64.28,67.77 61.88,71.11 57.87,70.80 54.66,71.03 50.65,82.58 48.25,90.14 45.84,95.28 42.63,101.88 38.63,113.94 35.10,121.79" fill="#ff7f0e" fill-opacity="0.14" stroke="none"/>
<polygon points="35.10,121.79 43.44,120.75 51.45,119.55 55.46,117.11 59.47,114.94 63.48,113.71 65.89,109.48 68.29,100.12 71.50,92.18 74.71,85.84 77.11,83.38 79.52,79.95 81.92,72.99 84.33,65.24 86.73,57.60 89.14,52.25 91.54,52.05 94.75,49.01 97.96,45.96 101.17,44.53 104.37,40.68 107.58,44.86 110.79,43.42 113.99,37.97 116.40,32.48 120.41,32.69 124.42,32.57 128.43,32.30 132.44,36.18 136.45,34.27 140.45,32.05 144.46,33.52 148.47,30.81 152.48,29.07 156.49,28.77 160.50,27.35 164.51,26.41 168.52,27.23 172.53,26.77 176.54,26.47 180.54,25.53 184.55,32.45 188.56,31.03 192.57,28.81 196.58,25.77 196.58,36.91 192.57,40.23 188.56,42.76 184.55,44.48 180.54,37.87 176.54,39.11 172.53,39.72 168.52,40.48 164.51,39.96 160.50,41.20 156.49,42.93 152.48,43.53 148.47,45.58 144.46,48.58 140.45,47.42 136.45,49.95 132.44,52.15 128.43,48.67 124.42,49.57 120.41,50.30 116.40,50.72 113.99,56.58 110.79,62.52 107.58,64.45 104.37,60.77 101.17,65.11 97.96,67.05 94.75,70.58 91.54,74.12 89.14,73.91 86.73,78.02 84.33,84.41 81.92,90.93 79.52,96.65 77.11,98.84 74.71,100.07 71.50,104.75 68.29,111.04 65.89,119.16 63.48,121.60 59.47,121.31 55.46,121.60 51.45,121.63 43.44,121.79 35.10,121.79" fill="#2ca02c" fill-opacity="0.14" stroke="none"/>
<polygon points="35.10,121.79 51.45,120.23 59.47,119.30 63.48,116.99 66.69,112.19 69.90,110.95 73.10,107.61 75.51,104.51 78.72,97.17 80.32,92.69 82.72,96.81 84.33,99.55 86.73,95.65 89.14,87.73 91.54,80.62 95.55,77.86 98.76,71.56 102.77,63.25 106.78,66.98 110.79,64.29 116.40,53.91 120.41,49.62 123.62,54.52 127.63,45.73 131.63,39.42 135.64,44.72 139.65,39.60 143.66,36.88 147.67,36.62 151.68,39.83 155.69,31.81 159.70,31.49 163.71,32.13 167.72,31.49 171.72,31.49 175.73,31.01 179.74,28.60 183.75,30.52 187.76,30.52 191.77,29.88 196.58,27.32 196.58,34.40 191.77,37.06 187.76,37.78 183.75,37.86 179.74,36.01 175.73,38.50 171.72,39.06 167.72,39.14 163.71,39.86 159.70,39.30 155.69,39.70 151.68,47.80 147.67,44.67 143.66,46.06 139.65,51.36 135.64,59.06 131.63,56.34 127.63,64.33 123.62,73.89 120.41,69.61 116.40,74.68 110.79,86.14 106.78,89.60 102.77,86.66 98.76,95.73 95.55,100.62 91.54,101.06 89.14,106.78 86.73,113.30 84.33,115.81 82.72,112.14 80.32,106.63 78.72,110.18 75.51,115.66 73.10,117.37 69.90,118.85 66.69,118.25 63.48,121.60 59.47,121.63 51.45,121.79 35.10,121.79" fill="#d62728" fill-opacity="0.14" stroke="none"/>
<polygon points="35.10,121.79 91.54,119.98 94.75,117.79 97.96,118.01 101.17,118.07 104.37,116.42 107.58,114.77 110.79,111.19 116.40,108.62 120.41,109.55 124.42,107.91 128.43,107.40 132.44,106.88 136.45,104.28 140.45,103.28 144.46,103.25 148.47,102.73 152.48,101.73 156.49,97.31 160.50,98.92 164.51,98.43 168.52,98.43 172.53,98.43 176.54,98.11 180.54,97.79 184.55,98.92 188.56,96.51 192.57,93.62 196.58,84.48 196.58,119.90 192.57,121.60 188.56,121.60 184.55,121.60 180.54,121.60 176.54,121.60 172.53,121.60 168.52,121.60 164.51,121.60 160.50,121.60 156.49,121.51 152.48,121.60 148.47,121.60 144.46,121.60 140.45,121.60 136.45,121.60 132.44,121.60 128.43,121.60 124.42,121.60 120.41,121.60 116.40,121.60 110.79,121.60 107.58,121.63 104.37,121.63 101.17,121.63 97.96,120.03 94.75,119.71 91.54,121.79 35.10,121.79" fill="#9467bd" fill-opacity="0.14" stroke="none"/>
<polygon points="35.10,121.79 59.47,120.24 64.28,119.45 69.09,117.20 73.90,114.60 78.72,112.49 83.53,111.82 88.34,109.23 93.15,106.15 97.96,102.91 102.77,100.64 107.58,99.24 112.39,98.62 116.40,98.30 120.41,95.73 124.42,93.48 128.43,91.55 132.44,91.71 136.45,92.67 140.45,92.34 144.46,86.19 148.47,83.73 152.48,78.86 156.49,78.80 160.50,76.34 164.51,78.94 168.52,73.01 172.53,71.41 176.54,68.68 180.54,69.00 184.55,68.68 188.56,65.79 192.57,62.26 196.58,61.78 196.58,100.24 192.57,100.39 188.56,103.57 184.55,106.12 180.54,106.09 176.54,105.43 172.53,107.81 168.52,109.07 164.51,114.66 160.50,111.56 156.49,112.65 152.48,111.33 148.47,114.83 144.46,115.91 140.45,120.69 136.45,119.69 132.44,117.57 128.43,116.25 124.42,117.02 120.41,118.11 116.40,119.52 112.39,118.68 107.58,117.90 102.77,117.68 97.96,118.22 93.15,119.72 88.34,121.06 83.53,121.60 78.72,120.86 73.90,121.24 69.09,121.60 64.28,121.60 59.47,121.79 35.10,121.79" fill="#8c564b" fill-opacity="0.14" stroke="none"/>
<polygon points="35.10,121.79 43.44,120.40 48.25,117.49 51.45,116.13 54.66,112.38 58.67,108.48 62.68,103.85 65.08,97.86 67.49,90.28 69.90,92.31 72.30,87.93 75.51,83.42 78.72,79.72 81.12,76.94 83.53,72.56 85.93,67.38 88.34,65.41 90.74,64.23 93.15,63.06 99.56,55.26 104.37,53.11 109.18,51.75 113.99,50.39 116.40,48.91 119.61,45.07 123.62,43.67 127.63,50.29 131.63,44.09 135.64,45.58 139.65,40.97 143.66,43.10 147.67,39.78 151.68,42.71 155.69,44.04 159.70,45.85 163.71,46.54 167.72,42.42 171.72,42.14 175.73,44.43 179.74,43.36 183.75,45.97 187.76,42.97 191.77,43.98 196.58,41.81 196.58,54.97 191.77,57.53 187.76,56.87 183.75,60.21 179.74,57.94 175.73,59.37 171.72,57.42 167.72,58.04 163.71,62.50 159.70,62.16 155.69,60.69 151.68,59.71 147.67,57.12 143.66,60.79 139.65,59.00 135.64,63.89 131.63,62.60 127.63,69.02 123.62,62.60 119.61,64.21 116.40,68.22 113.99,69.82 109.18,71.42 104.37,73.03 99.56,75.43 93.15,81.74 90.74,82.17 88.34,82.60 85.93,83.84 83.53,88.28 81.12,91.91 78.72,93.95 75.51,96.66 72.30,100.17 69.90,103.81 67.49,101.03 65.08,107.88 62.68,113.12 58.67,116.50 54.66,119.02 51.45,121.60 48.25,121.60 43.44,121.79 35.10,121.79" fill="#e377c2" fill-opacity="0.14" stroke="none"/>
<polyline points="35.10,121.79 43.44,121.79 48.25,119.71 51.45,118.91 54.66,115.70 58.67,112.49 62.68,108.48 65.08,102.87 67.49,95.65 69.90,98.06 72.30,94.05 75.51,90.04 78.72,86.83 81.12,84.43 83.53,80.42 85.93,75.61 88.34,74.01 90.74,73.20 93.15,72.40 99.56,65.31 104.37,62.91 109.18,61.30 113.99,59.70 116.40,58.10 119.61,54.09 123.62,52.48 127.63,58.90 131.63,52.48 135.64,53.77 139.65,48.95 143.66,50.88 147.67,47.35 151.68,50.08 155.69,51.20 159.70,52.80 163.71,53.28 167.72,48.95 171.72,48.47 175.73,50.56 179.74,49.28 183.75,51.68 187.76,48.47 191.77,49.28 196.58,46.87" fill="none" stroke="#e377c2" stroke-width="1.55" stroke-linejoin="round" stroke-linecap="butt"/>
<polyline points="35.10,121.79 59.47,121.79 64.28,121.31 69.09,119.71 73.90,118.10 78.72,116.98 83.53,117.30 88.34,115.70 93.15,113.61 97.96,111.37 102.77,110.09 107.58,109.61 112.39,109.77 116.40,110.09 120.41,108.16 124.42,106.56 128.43,105.28 132.44,106.08 136.45,107.68 140.45,108.16 144.46,102.87 148.47,101.27 152.48,97.26 156.49,98.06 160.50,96.46 164.51,99.18 168.52,93.25 172.53,91.65 176.54,88.92 180.54,89.24 184.55,88.92 188.56,86.03 192.57,82.50 196.58,82.02" fill="none" stroke="#8c564b" stroke-width="1.55" stroke-linejoin="round" stroke-linecap="butt"/>
<polyline points="35.10,121.79 91.54,121.79 94.75,119.71 97.96,120.03 101.17,121.63 104.37,121.63 107.58,121.63 110.79,119.71 116.40,119.07 120.41,120.51 124.42,119.39 128.43,119.39 132.44,119.39 136.45,117.30 140.45,116.82 144.46,117.30 148.47,117.30 152.48,116.82 156.49,112.49 160.50,114.10 164.51,113.61 168.52,113.61 172.53,113.61 176.54,113.29 180.54,112.97 184.55,114.10 188.56,111.69 192.57,108.80 196.58,99.66" fill="none" stroke="#9467bd" stroke-width="1.55" stroke-linejoin="round" stroke-linecap="butt"/>
<polyline points="35.10,121.79 51.45,121.79 59.47,121.63 63.48,119.71 66.69,115.22 69.90,114.90 73.10,112.49 75.51,110.09 78.72,103.67 80.32,99.66 82.72,104.47 84.33,107.68 86.73,104.47 89.14,97.26 91.54,90.84 95.55,89.24 98.76,83.63 102.77,74.81 106.78,78.01 110.79,74.81 116.40,63.71 120.41,58.90 123.62,63.39 127.63,54.09 131.63,46.87 135.64,50.88 139.65,44.46 143.66,40.46 147.67,39.65 151.68,42.86 155.69,34.84 159.70,34.52 163.71,35.16 167.72,34.52 171.72,34.52 175.73,34.04 179.74,31.64 183.75,33.56 187.76,33.56 191.77,32.92 196.58,30.35" fill="none" stroke="#d62728" stroke-width="1.55" stroke-linejoin="round" stroke-linecap="butt"/>
<polyline points="35.10,121.79 43.44,121.79 51.45,121.63 55.46,119.71 59.47,118.10 63.48,117.78 65.89,114.10 68.29,105.28 71.50,98.06 74.71,92.45 77.11,90.52 79.52,87.64 81.92,81.22 84.33,74.01 86.73,66.92 89.14,62.10 91.54,62.10 94.75,58.90 97.96,55.69 101.17,54.09 104.37,50.08 107.58,54.09 110.79,52.48 113.99,46.87 116.40,41.26 120.41,41.26 124.42,40.94 128.43,40.46 132.44,44.14 136.45,42.06 140.45,39.65 144.46,40.94 148.47,38.05 152.48,36.13 156.49,35.65 160.50,34.04 164.51,32.92 168.52,33.56 172.53,32.92 176.54,32.44 180.54,31.32 184.55,38.05 188.56,36.45 192.57,34.04 196.58,30.83" fill="none" stroke="#2ca02c" stroke-width="1.55" stroke-linejoin="round" stroke-linecap="butt"/>
<polyline points="35.10,121.79 38.63,113.29 42.63,100.46 45.84,93.25 48.25,87.64 50.65,79.62 54.66,67.72 57.87,67.24 61.88,67.24 64.28,63.71 67.49,58.10 70.70,54.89 73.90,52.80 75.51,53.77 77.91,58.10 80.32,65.31 82.72,56.49 85.13,50.88 88.34,48.47 91.54,46.87 94.75,52.48 97.96,46.07 101.17,45.27 104.37,49.28 107.58,38.85 110.79,36.13 113.99,35.65 116.40,36.45 119.61,29.23 123.62,35.65 127.63,28.43 131.63,29.23 135.64,25.54 139.65,28.11 143.66,28.11 148.47,26.50 152.48,27.15 156.49,28.11 160.50,29.23 164.51,26.83 168.52,27.15 171.72,25.54 175.73,26.83 179.74,28.43 183.75,30.83 186.96,31.64 190.17,34.52 193.37,29.71 196.58,26.50" fill="none" stroke="#ff7f0e" stroke-width="1.55" stroke-linejoin="round" stroke-linecap="butt"/>
<polyline points="35.10,121.79 39.43,121.31 43.44,111.69 46.64,102.87 50.65,101.27 54.66,99.66 58.67,94.85 61.88,94.05 65.08,91.65 68.29,87.64 71.50,84.43 74.71,79.62 77.91,74.81 81.92,65.31 83.53,58.90 85.93,54.09 88.34,50.08 91.54,54.09 94.75,44.46 97.96,41.26 100.36,38.05 103.57,45.27 105.98,38.05 108.38,35.65 110.79,36.45 113.99,32.44 116.40,31.64 119.61,30.35 123.62,29.23 127.63,26.83 131.63,31.64 135.64,23.30 139.65,28.11 143.66,31.32 148.47,29.71 152.48,30.03 156.49,30.35 160.50,37.25 164.51,26.83 168.52,29.71 172.21,22.82 175.73,28.11 179.74,26.50 183.75,30.03 187.76,31.64 191.77,32.92 196.58,26.83" fill="none" stroke="#1f77b4" stroke-width="1.55" stroke-linejoin="round" stroke-linecap="butt"/>
<line x1="23.3" y1="16.0" x2="23.3" y2="126.8" stroke="#262626" stroke-width="1.25"/>
<line x1="27.0" y1="130.7" x2="204.5" y2="130.7" stroke="#262626" stroke-width="1.25"/>
<text x="22.00" y="124.40" font-size="8.3" text-anchor="end" font-family="Liberation Sans" fill="#222222" stroke="#222222" stroke-width="0.12" textLength="10.57" lengthAdjust="spacingAndGlyphs">0.0</text>
<text x="22.00" y="104.16" font-size="8.3" text-anchor="end" font-family="Liberation Sans" fill="#222222" stroke="#222222" stroke-width="0.12" textLength="10.57" lengthAdjust="spacingAndGlyphs">0.2</text>
<text x="22.00" y="83.92" font-size="8.3" text-anchor="end" font-family="Liberation Sans" fill="#222222" stroke="#222222" stroke-width="0.12" textLength="10.57" lengthAdjust="spacingAndGlyphs">0.4</text>
<text x="22.00" y="63.68" font-size="8.3" text-anchor="end" font-family="Liberation Sans" fill="#222222" stroke="#222222" stroke-width="0.12" textLength="10.57" lengthAdjust="spacingAndGlyphs">0.6</text>
<text x="22.00" y="43.44" font-size="8.3" text-anchor="end" font-family="Liberation Sans" fill="#222222" stroke="#222222" stroke-width="0.12" textLength="10.57" lengthAdjust="spacingAndGlyphs">0.8</text>
<text x="22.00" y="23.20" font-size="8.3" text-anchor="end" font-family="Liberation Sans" fill="#222222" stroke="#222222" stroke-width="0.12" textLength="10.57" lengthAdjust="spacingAndGlyphs">1.0</text>
<text x="35.30" y="137.90" font-size="8.3" text-anchor="middle" font-family="Liberation Sans" fill="#222222" stroke="#222222" stroke-width="0.12" textLength="10.57" lengthAdjust="spacingAndGlyphs">0.0</text>
<text x="74.60" y="137.90" font-size="8.3" text-anchor="middle" font-family="Liberation Sans" fill="#222222" stroke="#222222" stroke-width="0.12" textLength="10.57" lengthAdjust="spacingAndGlyphs">0.5</text>
<text x="113.90" y="137.90" font-size="8.3" text-anchor="middle" font-family="Liberation Sans" fill="#222222" stroke="#222222" stroke-width="0.12" textLength="10.57" lengthAdjust="spacingAndGlyphs">1.0</text>
<text x="153.20" y="137.90" font-size="8.3" text-anchor="middle" font-family="Liberation Sans" fill="#222222" stroke="#222222" stroke-width="0.12" textLength="10.57" lengthAdjust="spacingAndGlyphs">1.5</text>
<text x="192.50" y="137.90" font-size="8.3" text-anchor="middle" font-family="Liberation Sans" fill="#222222" stroke="#222222" stroke-width="0.12" textLength="10.57" lengthAdjust="spacingAndGlyphs">2.0</text>
<text x="115.75" y="145.30" font-size="6.8" text-anchor="middle" font-family="Liberation Sans" fill="#222222" stroke="#222222" stroke-width="0.12" textLength="78.77" lengthAdjust="spacingAndGlyphs">Environment timesteps</text>
<g transform="translate(8.1,71.40) rotate(-90)"><text x="0.00" y="0.00" font-size="6.8" text-anchor="middle" font-family="Liberation Sans" fill="#222222" stroke="#222222" stroke-width="0.12" textLength="67.23" lengthAdjust="spacingAndGlyphs">Mean Test Win Rate</text></g>
<text x="200.90" y="143.20" font-size="4.3" text-anchor="middle" font-family="Liberation Sans" fill="#222222" stroke="#222222" stroke-width="0.12" textLength="7.20" lengthAdjust="spacingAndGlyphs">1e6</text>
<text x="115.75" y="14.50" font-size="8.3" text-anchor="middle" font-family="Liberation Sans" fill="#222222" stroke="#222222" stroke-width="0.12" textLength="21.93" lengthAdjust="spacingAndGlyphs">MMM2</text>
<line x1="28.90" y1="21.10" x2="35.70" y2="21.10" stroke="#1f77b4" stroke-width="1.5"/>
<text x="39.80" y="23.45" font-size="6.7" text-anchor="start" font-family="Liberation Sans" fill="#222222" stroke="#222222" stroke-width="0.12" textLength="38.78" lengthAdjust="spacingAndGlyphs">PAGNet(Ours)</text>
<line x1="28.90" y1="29.37" x2="35.70" y2="29.37" stroke="#ff7f0e" stroke-width="1.5"/>
<text x="39.80" y="31.72" font-size="6.7" text-anchor="start" font-family="Liberation Sans" fill="#222222" stroke="#222222" stroke-width="0.12" textLength="30.86" lengthAdjust="spacingAndGlyphs">PAGNet_PT</text>
<line x1="28.90" y1="37.64" x2="35.70" y2="37.64" stroke="#2ca02c" stroke-width="1.5"/>
<text x="39.80" y="39.99" font-size="6.7" text-anchor="start" font-family="Liberation Sans" fill="#222222" stroke="#222222" stroke-width="0.12" textLength="31.19" lengthAdjust="spacingAndGlyphs">PAGNet_FC</text>
<line x1="28.90" y1="45.91" x2="35.70" y2="45.91" stroke="#d62728" stroke-width="1.5"/>
<text x="39.80" y="48.26" font-size="6.7" text-anchor="start" font-family="Liberation Sans" fill="#222222" stroke="#222222" stroke-width="0.12" textLength="17.64" lengthAdjust="spacingAndGlyphs">MASIA</text>
<line x1="28.90" y1="54.18" x2="35.70" y2="54.18" stroke="#9467bd" stroke-width="1.5"/>
<text x="39.80" y="56.53" font-size="6.7" text-anchor="start" font-family="Liberation Sans" fill="#222222" stroke="#222222" stroke-width="0.12" textLength="21.48" lengthAdjust="spacingAndGlyphs">G2ANet</text>
<line x1="28.90" y1="62.45" x2="35.70" y2="62.45" stroke="#8c564b" stroke-width="1.5"/>
<text x="39.80" y="64.80" font-size="6.7" text-anchor="start" font-family="Liberation Sans" fill="#222222" stroke="#222222" stroke-width="0.12" textLength="12.79" lengthAdjust="spacingAndGlyphs">DGN</text>
<line x1="28.90" y1="70.72" x2="35.70" y2="70.72" stroke="#e377c2" stroke-width="1.5"/>
<text x="39.80" y="73.07" font-size="6.7" text-anchor="start" font-family="Liberation Sans" fill="#222222" stroke="#222222" stroke-width="0.12" textLength="14.68" lengthAdjust="spacingAndGlyphs">QMIX</text></g>
<g transform="translate(207.00,180.40)"><line x1="35.30" y1="16.0" x2="35.30" y2="126.8" stroke="#ebebeb" stroke-width="0.8"/>
<line x1="74.60" y1="16.0" x2="74.60" y2="126.8" stroke="#ebebeb" stroke-width="0.8"/>
<line x1="113.90" y1="16.0" x2="113.90" y2="126.8" stroke="#ebebeb" stroke-width="0.8"/>
<line x1="153.20" y1="16.0" x2="153.20" y2="126.8" stroke="#ebebeb" stroke-width="0.8"/>
<line x1="192.50" y1="16.0" x2="192.50" y2="126.8" stroke="#ebebeb" stroke-width="0.8"/>
<line x1="27.0" y1="121.70" x2="204.5" y2="121.70" stroke="#ebebeb" stroke-width="0.8"/>
<line x1="27.0" y1="101.34" x2="204.5" y2="101.34" stroke="#ebebeb" stroke-width="0.8"/>
<line x1="27.0" y1="80.98" x2="204.5" y2="80.98" stroke="#ebebeb" stroke-width="0.8"/>
<line x1="27.0" y1="60.62" x2="204.5" y2="60.62" stroke="#ebebeb" stroke-width="0.8"/>
<line x1="27.0" y1="40.26" x2="204.5" y2="40.26" stroke="#ebebeb" stroke-width="0.8"/>
<line x1="27.0" y1="19.90" x2="204.5" y2="19.90" stroke="#ebebeb" stroke-width="0.8"/>
<polygon points="35.34,121.63 99.16,121.63 105.58,121.31 108.78,118.38 111.99,113.48 114.40,107.60 116.00,102.35 120.01,91.21 124.02,83.15 128.03,80.22 132.04,73.77 136.05,72.29 140.05,63.43 146.47,47.88 148.87,45.19 152.08,45.40 155.29,36.95 159.30,35.41 163.31,33.87 167.32,31.53 171.32,26.62 175.33,23.21 179.34,22.20 180.95,21.31 184.95,27.84 188.16,21.10 191.37,23.18 193.77,22.73 196.18,21.00 196.18,33.29 193.77,35.73 191.37,36.89 188.16,35.76 184.95,43.45 180.95,38.11 179.34,39.47 175.33,41.67 171.32,46.27 167.32,52.59 163.31,56.66 159.30,59.93 155.29,63.20 152.08,73.03 148.87,74.21 146.47,77.93 140.05,92.14 136.05,99.62 132.04,99.71 128.03,104.78 124.02,106.32 120.01,111.11 116.00,116.54 114.40,119.51 111.99,121.70 108.78,121.70 105.58,121.31 99.16,121.63 35.34,121.63" fill="#1f77b4" fill-opacity="0.14" stroke="none"/>
<polygon points="35.34,121.63 44.64,121.63 47.05,119.71 49.45,113.67 52.66,106.40 55.86,99.93 59.07,93.52 60.68,86.83 62.60,76.07 64.68,71.71 67.09,70.17 69.01,63.71 71.90,58.24 75.11,55.60 77.51,51.18 79.92,45.95 82.32,47.46 84.73,45.08 87.94,46.40 91.14,49.32 94.35,45.51 97.56,42.82 100.45,42.01 103.97,48.67 107.18,43.10 109.59,39.48 111.99,35.86 114.40,38.62 116.00,41.16 120.01,45.51 124.02,37.84 128.03,31.29 132.04,32.12 136.05,32.95 140.05,34.19 144.06,33.71 148.07,33.07 152.08,35.32 156.09,35.00 160.10,30.99 164.11,28.26 168.12,31.79 172.13,29.38 176.14,33.39 180.14,30.99 184.15,26.18 188.16,24.57 192.17,26.18 196.18,26.18 196.18,32.28 192.17,32.28 188.16,30.68 184.15,32.28 180.14,37.10 176.14,39.50 172.13,35.49 168.12,37.90 164.11,34.37 160.10,37.10 156.09,41.10 152.08,41.43 148.07,39.18 144.06,39.82 140.05,40.30 136.05,39.30 132.04,39.17 128.03,39.03 124.02,46.28 120.01,54.64 116.00,50.98 114.40,48.71 111.99,46.66 109.59,51.06 107.18,55.45 103.97,62.07 100.45,56.54 97.56,58.29 94.35,62.02 91.14,66.87 87.94,64.98 84.73,64.70 82.32,67.77 79.92,65.43 77.51,69.83 75.11,73.42 71.90,74.95 69.01,79.42 67.09,85.22 64.68,85.93 62.60,89.58 60.68,99.67 59.07,105.80 55.86,109.02 52.66,112.17 49.45,116.12 47.05,119.71 44.64,121.63 35.34,121.63" fill="#ff7f0e" fill-opacity="0.14" stroke="none"/>
<polygon points="35.34,121.63 86.33,121.63 91.14,118.28 94.35,110.34 96.76,102.98 99.16,90.81 101.57,76.23 103.97,64.07 106.38,61.90 108.78,58.93 111.19,56.76 113.59,51.51 116.00,48.57 116.00,49.37 120.01,45.29 124.02,45.05 128.03,44.50 132.04,42.34 136.05,38.90 140.05,40.43 144.06,39.39 148.07,38.52 152.08,39.25 156.09,40.14 160.10,39.26 164.11,39.03 168.12,38.63 172.13,38.88 176.14,40.73 180.14,39.37 184.15,39.14 188.16,39.39 192.17,38.51 196.18,38.28 196.18,58.68 192.17,59.66 188.16,61.28 184.15,61.77 180.14,62.75 176.14,64.85 172.13,63.74 168.12,64.23 164.11,65.37 160.10,66.34 156.09,67.96 152.08,67.81 148.07,67.83 144.06,69.44 140.05,71.22 136.05,70.43 132.04,74.61 128.03,77.51 124.02,78.81 120.01,79.79 116.00,84.61 116.00,83.81 113.59,87.28 111.19,93.56 108.78,96.77 106.38,100.78 103.97,103.99 101.57,115.08 99.16,121.35 96.76,121.70 94.35,121.70 91.14,121.13 86.33,121.63 35.34,121.63" fill="#2ca02c" fill-opacity="0.14" stroke="none"/>
<polygon points="35.34,121.63 99.16,119.79 103.97,119.01 108.78,116.93 113.59,114.23 116.00,112.88 120.01,111.12 124.02,107.58 128.03,104.53 132.04,99.95 136.05,95.68 140.05,91.42 144.06,86.35 148.07,82.41 152.08,78.31 156.09,76.52 160.10,74.45 164.11,72.85 168.12,68.69 172.13,68.70 176.14,58.93 180.14,61.66 184.15,56.06 188.16,53.98 192.17,51.43 196.18,42.46 196.18,103.45 192.17,111.00 188.16,112.14 184.15,112.80 180.14,116.99 176.14,112.84 172.13,121.20 168.12,119.77 164.11,121.70 160.10,121.70 156.09,121.70 152.08,121.70 148.07,121.70 144.06,121.70 140.05,121.70 136.05,121.70 132.04,121.70 128.03,121.70 124.02,121.70 120.01,121.70 116.00,121.70 113.59,121.70 108.78,121.10 103.97,120.99 99.16,121.63 35.34,121.63" fill="#d62728" fill-opacity="0.14" stroke="none"/>
<polygon points="35.34,121.63 116.00,118.50 116.00,117.38 124.02,115.96 132.04,115.18 140.05,114.40 148.07,112.98 152.08,112.35 156.09,113.49 160.10,111.42 164.11,111.27 168.12,111.12 172.13,111.61 176.14,112.43 180.14,109.71 184.15,110.05 188.16,108.29 192.17,107.34 196.18,102.06 196.18,112.23 192.17,117.26 188.16,117.96 184.15,119.47 180.14,118.89 176.14,121.36 172.13,120.29 168.12,119.55 164.11,119.45 160.10,119.36 156.09,121.18 152.08,119.80 148.07,120.18 140.05,121.11 132.04,121.39 124.02,121.67 116.00,121.70 116.00,121.70 35.34,121.63" fill="#9467bd" fill-opacity="0.14" stroke="none"/>
<polygon points="35.34,121.63 63.88,119.32 67.09,110.15 71.10,99.41 75.11,83.83 78.32,77.42 81.52,71.81 84.73,67.80 88.74,65.39 92.75,62.99 95.95,58.98 99.16,59.94 102.37,58.86 105.58,56.17 107.98,53.35 111.19,49.86 119.21,51.16 121.61,57.16 124.02,64.77 126.42,57.14 129.63,46.56 132.04,42.07 136.05,38.86 140.05,37.74 144.06,38.54 148.07,40.14 152.08,38.86 154.49,44.95 156.89,48.96 159.30,45.75 165.71,54.45 168.12,58.94 171.32,54.45 176.94,49.76 180.14,42.55 184.15,57.65 188.16,56.85 192.17,53.65 196.18,49.76 196.18,105.81 192.17,110.61 188.16,114.73 184.15,116.45 180.14,102.26 176.94,110.21 171.32,116.18 168.12,121.40 165.71,117.46 159.30,110.23 156.89,113.99 154.49,110.53 152.08,104.98 148.07,107.18 144.06,106.50 140.05,106.61 136.05,108.65 132.04,112.77 129.63,117.81 126.42,121.70 124.02,121.70 121.61,121.70 119.21,121.70 111.19,121.12 107.98,121.70 105.58,121.70 102.37,121.70 99.16,121.70 95.95,121.70 92.75,121.70 88.74,121.70 84.73,121.70 81.52,121.70 78.32,121.70 75.11,121.70 71.10,121.70 67.09,121.70 63.88,121.70 35.34,121.63" fill="#e377c2" fill-opacity="0.12" stroke="none"/>
<polyline points="35.34,121.63 63.88,121.63 67.09,119.39 71.10,117.30 75.11,109.28 78.32,102.87 81.52,97.26 84.73,93.25 88.74,90.84 92.75,88.44 95.95,84.43 99.16,85.23 102.37,83.63 105.58,80.42 107.98,77.21 111.19,73.20 119.21,73.20 121.61,78.82 124.02,86.03 126.42,78.01 129.63,66.92 132.04,62.43 136.05,59.22 140.05,58.10 144.06,58.90 148.07,60.50 152.08,59.22 154.49,65.31 156.89,69.32 159.30,66.11 165.71,74.81 168.12,79.30 171.32,74.81 176.94,70.12 180.14,62.91 184.15,78.01 188.16,77.21 192.17,74.01 196.18,70.12" fill="none" stroke="#e377c2" stroke-width="1.55" stroke-linejoin="round" stroke-linecap="butt"/>
<polyline points="35.34,121.63 116.00,121.63 116.00,121.63 196.18,121.63" fill="none" stroke="#8c564b" stroke-width="1.55" stroke-linejoin="round" stroke-linecap="butt"/>
<polyline points="35.34,121.63 116.00,121.63 116.00,120.51 124.02,119.39 132.04,118.91 140.05,118.43 148.07,117.30 152.08,116.82 156.09,118.10 160.10,116.18 164.11,116.18 168.12,116.18 172.13,116.82 176.14,117.78 180.14,115.22 184.15,115.70 188.16,114.10 192.17,113.29 196.18,108.16" fill="none" stroke="#9467bd" stroke-width="1.55" stroke-linejoin="round" stroke-linecap="butt"/>
<polyline points="35.34,121.63 99.16,121.63 103.97,120.99 108.78,120.51 113.59,120.51 116.00,120.51 120.01,120.99 124.02,119.71 128.03,118.91 132.04,117.30 136.05,116.50 140.05,115.70 144.06,114.10 148.07,113.61 152.08,112.97 156.09,112.49 160.10,110.89 164.11,109.77 168.12,106.08 172.13,106.56 176.14,97.26 180.14,100.46 184.15,95.33 188.16,93.73 192.17,91.65 196.18,83.15" fill="none" stroke="#d62728" stroke-width="1.55" stroke-linejoin="round" stroke-linecap="butt"/>
<polyline points="35.34,121.63 86.33,121.63 91.14,119.71 94.35,117.30 96.76,114.10 99.16,106.08 101.57,95.65 103.97,83.63 106.38,80.42 108.78,76.41 111.19,73.20 113.59,66.92 116.00,63.71 116.00,64.51 120.01,60.18 124.02,59.70 128.03,58.90 132.04,56.49 136.05,52.80 140.05,54.09 144.06,52.80 148.07,51.68 152.08,52.16 156.09,52.80 160.10,51.68 164.11,51.20 168.12,50.56 172.13,50.56 176.14,52.16 180.14,50.56 184.15,50.08 188.16,50.08 192.17,48.95 196.18,48.47" fill="none" stroke="#2ca02c" stroke-width="1.55" stroke-linejoin="round" stroke-linecap="butt"/>
<polyline points="35.34,121.63 44.64,121.63 47.05,119.71 49.45,114.90 52.66,109.28 55.86,104.47 59.07,99.66 60.68,93.25 62.60,82.83 64.68,78.82 67.09,77.69 69.01,71.57 71.90,66.59 75.11,64.51 77.51,60.50 79.92,55.69 82.32,57.61 84.73,54.89 87.94,55.69 91.14,58.10 94.35,53.77 97.56,50.56 100.45,49.28 103.97,55.37 107.18,49.28 109.59,45.27 111.99,41.26 114.40,43.66 116.00,46.07 120.01,50.08 124.02,42.06 128.03,35.16 132.04,35.65 136.05,36.13 140.05,37.25 144.06,36.77 148.07,36.13 152.08,38.37 156.09,38.05 160.10,34.04 164.11,31.32 168.12,34.84 172.13,32.44 176.14,36.45 180.14,34.04 184.15,29.23 188.16,27.63 192.17,29.23 196.18,29.23" fill="none" stroke="#ff7f0e" stroke-width="1.55" stroke-linejoin="round" stroke-linecap="butt"/>
<polyline points="35.34,121.63 99.16,121.63 105.58,121.31 108.78,120.51 111.99,118.10 114.40,114.10 116.00,110.09 120.01,102.07 124.02,95.65 128.03,93.25 132.04,87.32 136.05,86.35 140.05,78.01 146.47,62.91 148.87,59.70 152.08,59.22 155.29,50.08 159.30,47.67 163.31,45.27 167.32,42.06 171.32,36.45 175.33,32.44 179.34,30.83 180.95,29.71 184.95,35.65 188.16,28.43 191.37,30.03 193.77,29.23 196.18,27.15" fill="none" stroke="#1f77b4" stroke-width="1.55" stroke-linejoin="round" stroke-linecap="butt"/>
<line x1="23.3" y1="16.0" x2="23.3" y2="126.8" stroke="#262626" stroke-width="1.25"/>
<line x1="27.0" y1="130.7" x2="204.5" y2="130.7" stroke="#262626" stroke-width="1.25"/>
<text x="22.00" y="124.50" font-size="8.3" text-anchor="end" font-family="Liberation Sans" fill="#222222" stroke="#222222" stroke-width="0.12" textLength="10.57" lengthAdjust="spacingAndGlyphs">0.0</text>
<text x="22.00" y="104.14" font-size="8.3" text-anchor="end" font-family="Liberation Sans" fill="#222222" stroke="#222222" stroke-width="0.12" textLength="10.57" lengthAdjust="spacingAndGlyphs">0.2</text>
<text x="22.00" y="83.78" font-size="8.3" text-anchor="end" font-family="Liberation Sans" fill="#222222" stroke="#222222" stroke-width="0.12" textLength="10.57" lengthAdjust="spacingAndGlyphs">0.4</text>
<text x="22.00" y="63.42" font-size="8.3" text-anchor="end" font-family="Liberation Sans" fill="#222222" stroke="#222222" stroke-width="0.12" textLength="10.57" lengthAdjust="spacingAndGlyphs">0.6</text>
<text x="22.00" y="43.06" font-size="8.3" text-anchor="end" font-family="Liberation Sans" fill="#222222" stroke="#222222" stroke-width="0.12" textLength="10.57" lengthAdjust="spacingAndGlyphs">0.8</text>
<text x="22.00" y="22.70" font-size="8.3" text-anchor="end" font-family="Liberation Sans" fill="#222222" stroke="#222222" stroke-width="0.12" textLength="10.57" lengthAdjust="spacingAndGlyphs">1.0</text>
<text x="35.30" y="137.90" font-size="8.3" text-anchor="middle" font-family="Liberation Sans" fill="#222222" stroke="#222222" stroke-width="0.12" textLength="10.57" lengthAdjust="spacingAndGlyphs">0.0</text>
<text x="74.60" y="137.90" font-size="8.3" text-anchor="middle" font-family="Liberation Sans" fill="#222222" stroke="#222222" stroke-width="0.12" textLength="10.57" lengthAdjust="spacingAndGlyphs">0.5</text>
<text x="113.90" y="137.90" font-size="8.3" text-anchor="middle" font-family="Liberation Sans" fill="#222222" stroke="#222222" stroke-width="0.12" textLength="10.57" lengthAdjust="spacingAndGlyphs">1.0</text>
<text x="153.20" y="137.90" font-size="8.3" text-anchor="middle" font-family="Liberation Sans" fill="#222222" stroke="#222222" stroke-width="0.12" textLength="10.57" lengthAdjust="spacingAndGlyphs">1.5</text>
<text x="192.50" y="137.90" font-size="8.3" text-anchor="middle" font-family="Liberation Sans" fill="#222222" stroke="#222222" stroke-width="0.12" textLength="10.57" lengthAdjust="spacingAndGlyphs">2.0</text>
<text x="115.75" y="145.30" font-size="6.8" text-anchor="middle" font-family="Liberation Sans" fill="#222222" stroke="#222222" stroke-width="0.12" textLength="78.77" lengthAdjust="spacingAndGlyphs">Environment timesteps</text>
<g transform="translate(8.1,71.40) rotate(-90)"><text x="0.00" y="0.00" font-size="6.8" text-anchor="middle" font-family="Liberation Sans" fill="#222222" stroke="#222222" stroke-width="0.12" textLength="67.23" lengthAdjust="spacingAndGlyphs">Mean Test Win Rate</text></g>
<text x="200.90" y="143.20" font-size="4.3" text-anchor="middle" font-family="Liberation Sans" fill="#222222" stroke="#222222" stroke-width="0.12" textLength="7.20" lengthAdjust="spacingAndGlyphs">1e6</text>
<text x="115.75" y="14.50" font-size="8.3" text-anchor="middle" font-family="Liberation Sans" fill="#222222" stroke="#222222" stroke-width="0.12" textLength="26.66" lengthAdjust="spacingAndGlyphs">corridor</text>
<line x1="29.10" y1="21.10" x2="35.90" y2="21.10" stroke="#1f77b4" stroke-width="1.5"/>
<text x="40.00" y="23.45" font-size="6.7" text-anchor="start" font-family="Liberation Sans" fill="#222222" stroke="#222222" stroke-width="0.12" textLength="38.78" lengthAdjust="spacingAndGlyphs">PAGNet(Ours)</text>
<line x1="29.10" y1="29.37" x2="35.90" y2="29.37" stroke="#ff7f0e" stroke-width="1.5"/>
<text x="40.00" y="31.72" font-size="6.7" text-anchor="start" font-family="Liberation Sans" fill="#222222" stroke="#222222" stroke-width="0.12" textLength="30.86" lengthAdjust="spacingAndGlyphs">PAGNet_PT</text>
<line x1="29.10" y1="37.64" x2="35.90" y2="37.64" stroke="#2ca02c" stroke-width="1.5"/>
<text x="40.00" y="39.99" font-size="6.7" text-anchor="start" font-family="Liberation Sans" fill="#222222" stroke="#222222" stroke-width="0.12" textLength="31.19" lengthAdjust="spacingAndGlyphs">PAGNet_FC</text>
<line x1="29.10" y1="45.91" x2="35.90" y2="45.91" stroke="#d62728" stroke-width="1.5"/>
<text x="40.00" y="48.26" font-size="6.7" text-anchor="start" font-family="Liberation Sans" fill="#222222" stroke="#222222" stroke-width="0.12" textLength="17.64" lengthAdjust="spacingAndGlyphs">MASIA</text>
<line x1="29.10" y1="54.18" x2="35.90" y2="54.18" stroke="#9467bd" stroke-width="1.5"/>
<text x="40.00" y="56.53" font-size="6.7" text-anchor="start" font-family="Liberation Sans" fill="#222222" stroke="#222222" stroke-width="0.12" textLength="21.48" lengthAdjust="spacingAndGlyphs">G2ANet</text>
<line x1="29.10" y1="62.45" x2="35.90" y2="62.45" stroke="#8c564b" stroke-width="1.5"/>
<text x="40.00" y="64.80" font-size="6.7" text-anchor="start" font-family="Liberation Sans" fill="#222222" stroke="#222222" stroke-width="0.12" textLength="12.79" lengthAdjust="spacingAndGlyphs">DGN</text>
<line x1="29.10" y1="70.72" x2="35.90" y2="70.72" stroke="#e377c2" stroke-width="1.5"/>
<text x="40.00" y="73.07" font-size="6.7" text-anchor="start" font-family="Liberation Sans" fill="#222222" stroke="#222222" stroke-width="0.12" textLength="14.68" lengthAdjust="spacingAndGlyphs">QMIX</text></g>
<g transform="translate(415.40,180.40)"><line x1="35.30" y1="16.0" x2="35.30" y2="126.8" stroke="#ebebeb" stroke-width="0.8"/>
<line x1="74.60" y1="16.0" x2="74.60" y2="126.8" stroke="#ebebeb" stroke-width="0.8"/>
<line x1="113.90" y1="16.0" x2="113.90" y2="126.8" stroke="#ebebeb" stroke-width="0.8"/>
<line x1="153.20" y1="16.0" x2="153.20" y2="126.8" stroke="#ebebeb" stroke-width="0.8"/>
<line x1="192.50" y1="16.0" x2="192.50" y2="126.8" stroke="#ebebeb" stroke-width="0.8"/>
<line x1="27.0" y1="121.60" x2="204.5" y2="121.60" stroke="#ebebeb" stroke-width="0.8"/>
<line x1="27.0" y1="101.26" x2="204.5" y2="101.26" stroke="#ebebeb" stroke-width="0.8"/>
<line x1="27.0" y1="80.92" x2="204.5" y2="80.92" stroke="#ebebeb" stroke-width="0.8"/>
<line x1="27.0" y1="60.58" x2="204.5" y2="60.58" stroke="#ebebeb" stroke-width="0.8"/>
<line x1="27.0" y1="40.24" x2="204.5" y2="40.24" stroke="#ebebeb" stroke-width="0.8"/>
<line x1="27.0" y1="19.90" x2="204.5" y2="19.90" stroke="#ebebeb" stroke-width="0.8"/>
<polygon points="35.42,121.78 42.64,120.36 47.45,118.14 49.85,111.41 53.06,104.32 56.27,97.87 58.67,90.04 61.08,79.79 63.48,71.15 67.49,57.41 70.70,50.17 74.71,48.36 77.92,46.75 81.92,41.94 85.93,45.95 89.94,47.55 92.35,49.48 95.55,38.73 99.56,41.94 103.57,32.32 107.58,36.33 111.59,29.91 115.60,33.99 119.61,28.52 123.62,23.86 127.63,23.69 131.64,25.44 135.65,27.51 139.65,25.25 143.66,29.41 147.67,23.47 151.68,27.78 155.69,26.97 159.70,32.89 163.71,28.87 167.72,27.41 171.73,25.64 175.74,24.98 179.74,24.01 183.75,23.68 187.76,27.51 191.77,26.38 195.78,20.91 195.78,31.13 191.77,36.89 187.76,38.32 183.75,34.78 179.74,35.41 175.74,36.68 171.73,37.63 167.72,39.71 163.71,41.46 159.70,45.78 155.69,40.15 151.68,41.26 147.67,37.24 143.66,43.48 139.65,39.62 135.65,42.18 131.64,40.40 127.63,38.94 123.62,39.41 119.61,44.37 115.60,50.13 111.59,46.19 107.58,52.60 103.57,48.59 99.56,58.21 95.55,55.01 92.35,65.75 89.94,63.83 85.93,62.22 81.92,58.21 77.92,63.02 74.71,64.63 70.70,64.42 67.49,70.00 63.48,81.67 61.08,89.07 58.67,98.06 56.27,104.66 53.06,109.44 49.85,115.18 47.45,121.28 42.64,121.60 35.42,121.79" fill="#1f77b4" fill-opacity="0.14" stroke="none"/>
<polygon points="35.42,121.74 37.83,113.81 40.23,103.15 42.64,87.68 44.24,74.16 45.84,60.76 48.25,50.19 50.65,44.50 53.06,42.03 56.27,40.06 59.47,34.57 62.68,35.33 66.69,35.49 70.70,36.44 74.71,37.42 78.72,36.79 83.53,31.06 86.74,33.93 90.74,35.70 94.75,34.27 98.76,32.84 102.77,32.21 106.78,31.58 110.79,32.24 115.60,33.53 119.61,33.15 123.62,34.86 127.63,33.83 131.64,31.52 135.65,35.63 139.65,33.01 143.66,31.02 147.67,31.60 151.68,34.42 155.69,34.04 159.70,33.82 163.71,34.72 167.72,32.41 171.73,36.04 175.74,32.61 179.74,32.39 183.75,35.21 187.76,33.23 191.77,33.81 195.78,28.29 195.78,46.63 191.77,52.34 187.76,51.96 183.75,54.15 179.74,51.52 175.74,51.94 171.73,55.56 167.72,52.14 163.71,54.64 159.70,53.94 155.69,54.36 151.68,54.94 147.67,52.31 143.66,51.93 139.65,54.11 135.65,56.93 131.64,53.02 127.63,55.53 123.62,56.75 119.61,55.25 115.60,55.83 110.79,54.74 106.78,54.26 102.77,55.07 98.76,55.87 94.75,57.47 90.74,59.07 86.74,57.47 83.53,54.74 78.72,60.68 74.71,61.48 70.70,60.68 66.69,59.86 62.68,56.80 59.47,53.72 56.27,56.88 53.06,56.52 50.65,57.26 48.25,61.19 45.84,69.86 44.24,81.87 42.64,94.01 40.23,107.40 37.83,115.99 35.42,121.79" fill="#ff7f0e" fill-opacity="0.14" stroke="none"/>
<polygon points="35.42,121.78 45.84,120.27 50.65,116.12 55.46,112.51 58.67,108.48 61.88,104.44 66.69,100.79 71.50,96.34 76.31,91.08 80.32,82.03 83.53,80.67 85.93,73.46 88.34,67.84 90.74,67.84 93.95,70.25 96.36,73.46 99.56,67.84 103.57,63.03 106.78,59.15 111.59,59.95 115.60,54.38 119.61,50.15 123.62,56.66 127.63,54.20 131.64,54.78 135.65,53.27 139.65,62.03 143.66,55.88 147.67,50.36 151.68,59.28 155.69,51.04 159.70,50.18 163.71,49.95 167.72,48.77 171.73,50.47 175.74,48.97 179.74,54.36 183.75,46.44 187.76,47.34 191.77,45.03 195.78,39.52 195.78,57.86 191.77,63.57 187.76,66.07 183.75,65.37 179.74,73.49 175.74,68.29 171.73,70.00 167.72,68.49 163.71,69.87 159.70,70.29 155.69,71.35 151.68,79.79 147.67,71.07 143.66,76.78 139.65,83.14 135.65,74.57 131.64,76.28 127.63,75.89 123.62,78.56 119.61,72.24 115.60,76.67 111.59,82.18 106.78,81.06 103.57,84.74 99.56,89.29 96.36,94.70 93.95,91.33 90.74,88.72 88.34,88.56 85.93,94.02 83.53,101.08 80.32,101.26 76.31,108.24 71.50,111.01 66.69,112.97 61.88,114.13 58.67,116.51 55.46,118.88 50.65,120.09 45.84,121.63 35.42,121.79" fill="#2ca02c" fill-opacity="0.14" stroke="none"/>
<polygon points="35.42,121.78 45.84,120.27 50.65,117.72 54.66,113.52 58.67,106.87 61.88,100.43 65.09,97.20 68.29,84.34 71.50,84.31 74.71,79.47 77.92,75.43 81.12,71.40 83.53,67.98 85.93,72.30 88.34,74.22 90.74,67.31 94.75,48.71 97.16,45.82 100.37,41.42 103.57,39.43 106.78,39.05 109.99,36.25 113.19,33.46 115.60,31.99 119.61,33.69 123.62,29.78 127.63,30.36 131.64,26.77 135.65,26.39 139.65,24.57 143.66,26.27 147.67,26.05 151.68,25.66 155.69,24.64 159.70,28.59 163.71,25.16 167.72,21.73 171.73,22.47 175.74,21.93 179.74,21.06 183.75,18.44 187.76,23.35 191.77,18.63 195.78,21.14 195.78,30.33 191.77,28.07 187.76,33.03 183.75,28.37 179.74,31.24 175.74,32.35 171.73,33.14 167.72,32.65 163.71,36.33 159.70,40.00 155.69,36.30 151.68,37.57 147.67,38.20 143.66,38.67 139.65,37.22 135.65,39.29 131.64,39.92 127.63,43.75 123.62,43.42 119.61,47.58 115.60,46.12 113.19,47.88 109.99,51.50 106.78,55.13 103.57,56.34 100.37,59.16 97.16,64.39 94.75,67.91 90.74,87.54 88.34,95.07 85.93,93.78 83.53,90.08 81.12,92.99 77.92,95.16 74.71,97.33 71.50,100.30 68.29,98.46 65.09,109.45 61.88,110.82 58.67,115.40 54.66,119.71 50.65,121.60 45.84,121.63 35.42,121.79" fill="#d62728" fill-opacity="0.14" stroke="none"/>
<polygon points="35.42,121.79 74.71,120.52 82.73,119.78 87.54,118.34 93.95,117.01 100.37,116.70 106.78,115.72 115.60,114.72 119.61,114.73 123.62,115.38 127.63,115.07 131.64,114.76 135.65,114.77 139.65,112.03 143.66,109.90 147.67,107.60 151.68,105.31 155.69,92.39 159.70,94.18 163.71,91.96 167.72,88.94 171.73,89.93 175.74,88.04 179.74,88.71 183.75,97.40 187.76,97.10 191.77,95.21 195.78,88.98 195.78,109.32 191.77,115.55 187.76,117.44 183.75,117.74 179.74,109.05 175.74,108.38 171.73,110.27 167.72,109.28 163.71,112.30 159.70,114.52 155.69,112.73 151.68,121.60 147.67,121.60 143.66,121.60 139.65,121.60 135.65,121.60 131.64,121.60 127.63,121.60 123.62,121.60 119.61,120.55 115.60,120.02 106.78,119.89 100.37,120.04 93.95,119.85 87.54,120.87 82.73,121.60 74.71,121.79 35.42,121.79" fill="#9467bd" fill-opacity="0.14" stroke="none"/>
<polygon points="35.42,121.79 74.71,119.88 79.52,118.36 84.33,117.33 90.74,115.74 95.55,114.86 100.37,114.56 106.78,112.30 111.59,110.73 115.60,109.51 119.61,107.31 123.62,105.28 127.63,104.38 131.64,103.12 135.65,99.74 139.65,98.29 143.66,97.65 147.67,92.99 151.68,93.14 155.69,87.68 159.70,84.63 163.71,80.40 167.72,81.68 171.73,69.17 175.74,68.37 179.74,65.16 183.75,62.76 187.76,66.29 191.77,64.36 195.78,58.75 195.78,89.17 191.77,94.20 187.76,95.55 183.75,91.45 179.74,93.28 175.74,95.91 171.73,96.13 167.72,108.06 163.71,106.20 159.70,109.61 155.69,111.37 151.68,115.53 147.67,114.08 143.66,117.44 139.65,116.79 135.65,116.95 131.64,119.03 127.63,118.99 123.62,118.60 119.61,119.33 115.60,120.23 111.59,120.16 106.78,120.17 100.37,120.35 95.55,119.73 90.74,120.22 84.33,121.29 79.52,121.60 74.71,121.79 35.42,121.79" fill="#8c564b" fill-opacity="0.14" stroke="none"/>
<polygon points="35.42,121.78 44.24,120.16 49.05,116.33 52.26,111.74 56.27,105.89 60.28,100.85 63.48,89.59 66.69,84.75 69.90,79.11 72.30,73.68 74.71,69.85 77.11,65.22 82.73,58.37 85.13,56.92 88.34,54.72 90.74,48.46 93.95,45.46 97.16,45.67 100.37,45.07 103.57,45.28 106.78,45.49 109.99,44.41 113.19,43.98 115.60,43.55 118.01,50.76 120.41,53.97 123.62,57.18 127.63,53.17 131.64,58.78 135.65,45.15 139.65,51.56 143.66,48.36 147.67,53.97 151.68,49.16 155.69,50.44 159.70,53.65 163.71,57.98 167.72,53.65 171.73,58.78 175.74,54.29 179.74,56.37 183.75,60.38 187.76,55.57 191.77,61.99 195.78,51.56 195.78,67.85 191.77,78.37 187.76,72.06 183.75,76.97 179.74,73.06 175.74,71.07 171.73,75.66 167.72,70.63 163.71,75.06 159.70,70.83 155.69,67.72 151.68,66.53 147.67,71.44 143.66,65.93 139.65,69.23 135.65,62.92 131.64,76.65 127.63,71.13 123.62,75.24 120.41,72.11 118.01,68.97 115.60,61.81 113.19,62.33 109.99,62.97 106.78,64.26 103.57,64.26 100.37,64.26 97.16,65.06 93.95,65.06 90.74,68.27 88.34,74.68 85.13,77.09 82.73,78.69 77.11,82.79 74.71,86.18 72.30,88.76 69.90,92.95 66.69,96.93 63.48,100.11 60.28,109.70 56.27,112.68 52.26,116.45 49.05,119.88 44.24,121.60 35.42,121.79" fill="#e377c2" fill-opacity="0.14" stroke="none"/>
<polyline points="35.42,121.79 44.24,121.31 49.05,118.10 52.26,114.10 56.27,109.28 60.28,105.28 63.48,94.85 66.69,90.84 69.90,86.03 72.30,81.22 74.71,78.01 77.11,74.01 82.73,68.52 85.13,66.92 88.34,64.51 90.74,58.10 93.95,54.89 97.16,54.89 100.37,54.09 103.57,54.09 106.78,54.09 109.99,52.80 113.19,52.16 115.60,51.68 118.01,58.90 120.41,62.10 123.62,65.31 127.63,61.30 131.64,66.92 135.65,53.28 139.65,59.70 143.66,56.49 147.67,62.10 151.68,57.29 155.69,58.58 159.70,61.78 163.71,66.11 167.72,61.78 171.73,66.92 175.74,62.43 179.74,64.51 183.75,68.52 187.76,63.71 191.77,70.12 195.78,59.70" fill="none" stroke="#e377c2" stroke-width="1.55" stroke-linejoin="round" stroke-linecap="butt"/>
<polyline points="35.42,121.79 74.71,121.79 79.52,120.51 84.33,119.71 90.74,118.43 95.55,117.78 100.37,118.10 106.78,117.30 111.59,116.82 115.60,116.50 119.61,115.22 123.62,114.10 127.63,114.10 131.64,113.61 135.65,110.89 139.65,110.09 143.66,110.09 147.67,106.08 151.68,106.88 155.69,102.07 159.70,99.66 163.71,95.65 167.72,96.94 171.73,84.43 175.74,83.63 179.74,80.42 183.75,78.01 187.76,81.54 191.77,79.62 195.78,74.01" fill="none" stroke="#8c564b" stroke-width="1.55" stroke-linejoin="round" stroke-linecap="butt"/>
<polyline points="35.42,121.79 74.71,121.79 82.73,121.31 87.54,120.03 93.95,118.91 100.37,118.91 106.78,118.43 115.60,118.10 119.61,118.43 123.62,119.39 127.63,119.39 131.64,119.39 135.65,119.71 139.65,118.10 143.66,117.78 147.67,117.30 151.68,116.82 155.69,104.47 159.70,106.08 163.71,103.67 167.72,100.46 171.73,101.27 175.74,99.18 179.74,99.66 183.75,108.16 187.76,107.68 191.77,105.60 195.78,99.18" fill="none" stroke="#9467bd" stroke-width="1.55" stroke-linejoin="round" stroke-linecap="butt"/>
<polyline points="35.42,121.79 45.84,121.63 50.65,119.71 54.66,116.50 58.67,110.89 61.88,105.28 65.09,102.87 68.29,90.84 71.50,91.65 74.71,87.64 77.92,84.43 81.12,81.22 83.53,78.01 85.93,82.02 88.34,83.63 90.74,76.41 94.75,57.29 97.16,54.09 100.37,49.28 103.57,46.87 106.78,46.07 109.99,42.86 113.19,39.65 115.60,38.05 119.61,39.65 123.62,35.65 127.63,36.13 131.64,32.44 135.65,31.96 139.65,30.03 143.66,31.64 147.67,31.32 151.68,30.83 155.69,29.71 159.70,33.56 163.71,30.03 167.72,26.50 171.73,27.15 175.74,26.50 179.74,25.54 183.75,22.82 187.76,27.63 191.77,22.82 195.78,25.22" fill="none" stroke="#d62728" stroke-width="1.55" stroke-linejoin="round" stroke-linecap="butt"/>
<polyline points="35.42,121.79 45.84,121.63 50.65,118.10 55.46,115.70 58.67,112.49 61.88,109.28 66.69,106.88 71.50,103.67 76.31,99.66 80.32,91.65 83.53,90.84 85.93,83.63 88.34,78.01 90.74,78.01 93.95,80.42 96.36,83.63 99.56,78.01 103.57,73.20 106.78,69.32 111.59,70.12 115.60,64.51 119.61,60.18 123.62,66.59 127.63,64.03 131.64,64.51 135.65,62.91 139.65,71.57 143.66,65.31 147.67,59.70 151.68,68.52 155.69,60.18 159.70,59.22 163.71,58.90 167.72,57.61 171.73,59.22 175.74,57.61 179.74,62.91 183.75,54.89 187.76,55.69 191.77,53.28 195.78,47.67" fill="none" stroke="#2ca02c" stroke-width="1.55" stroke-linejoin="round" stroke-linecap="butt"/>
<polyline points="35.42,121.79 37.83,114.90 40.23,105.28 42.64,90.84 44.24,78.01 45.84,65.31 48.25,55.69 50.65,50.88 53.06,49.28 56.27,48.47 59.47,44.14 62.68,46.07 66.69,47.67 70.70,48.47 74.71,49.28 78.72,48.47 83.53,42.54 86.74,45.27 90.74,46.87 94.75,45.27 98.76,43.66 102.77,42.86 106.78,42.06 110.79,42.54 115.60,43.66 119.61,43.18 123.62,44.79 127.63,43.66 131.64,41.26 135.65,45.27 139.65,42.54 143.66,40.46 147.67,40.94 151.68,43.66 155.69,43.18 159.70,42.86 163.71,43.66 167.72,41.26 171.73,44.79 175.74,41.26 179.74,40.94 183.75,43.66 187.76,41.58 191.77,42.06 195.78,36.45" fill="none" stroke="#ff7f0e" stroke-width="1.55" stroke-linejoin="round" stroke-linecap="butt"/>
<polyline points="35.42,121.79 42.64,121.31 47.45,119.71 49.85,113.29 53.06,106.88 56.27,101.27 58.67,94.05 61.08,84.43 63.48,76.41 67.49,63.71 70.70,57.29 74.71,56.49 77.92,54.89 81.92,50.08 85.93,54.09 89.94,55.69 92.35,57.61 95.55,46.87 99.56,50.08 103.57,40.46 107.58,44.46 111.59,38.05 115.60,42.06 119.61,36.45 123.62,31.64 127.63,31.32 131.64,32.92 135.65,34.84 139.65,32.44 143.66,36.45 147.67,30.35 151.68,34.52 155.69,33.56 159.70,39.33 163.71,35.16 167.72,33.56 171.73,31.64 175.74,30.83 179.74,29.71 183.75,29.23 187.76,32.92 191.77,31.64 195.78,26.02" fill="none" stroke="#1f77b4" stroke-width="1.55" stroke-linejoin="round" stroke-linecap="butt"/>
<line x1="23.3" y1="16.0" x2="23.3" y2="126.8" stroke="#262626" stroke-width="1.25"/>
<line x1="27.0" y1="130.7" x2="204.5" y2="130.7" stroke="#262626" stroke-width="1.25"/>
<text x="22.00" y="124.40" font-size="8.3" text-anchor="end" font-family="Liberation Sans" fill="#222222" stroke="#222222" stroke-width="0.12" textLength="10.57" lengthAdjust="spacingAndGlyphs">0.0</text>
<text x="22.00" y="104.06" font-size="8.3" text-anchor="end" font-family="Liberation Sans" fill="#222222" stroke="#222222" stroke-width="0.12" textLength="10.57" lengthAdjust="spacingAndGlyphs">0.2</text>
<text x="22.00" y="83.72" font-size="8.3" text-anchor="end" font-family="Liberation Sans" fill="#222222" stroke="#222222" stroke-width="0.12" textLength="10.57" lengthAdjust="spacingAndGlyphs">0.4</text>
<text x="22.00" y="63.38" font-size="8.3" text-anchor="end" font-family="Liberation Sans" fill="#222222" stroke="#222222" stroke-width="0.12" textLength="10.57" lengthAdjust="spacingAndGlyphs">0.6</text>
<text x="22.00" y="43.04" font-size="8.3" text-anchor="end" font-family="Liberation Sans" fill="#222222" stroke="#222222" stroke-width="0.12" textLength="10.57" lengthAdjust="spacingAndGlyphs">0.8</text>
<text x="22.00" y="22.70" font-size="8.3" text-anchor="end" font-family="Liberation Sans" fill="#222222" stroke="#222222" stroke-width="0.12" textLength="10.57" lengthAdjust="spacingAndGlyphs">1.0</text>
<text x="35.30" y="137.90" font-size="8.3" text-anchor="middle" font-family="Liberation Sans" fill="#222222" stroke="#222222" stroke-width="0.12" textLength="10.57" lengthAdjust="spacingAndGlyphs">0.0</text>
<text x="74.60" y="137.90" font-size="8.3" text-anchor="middle" font-family="Liberation Sans" fill="#222222" stroke="#222222" stroke-width="0.12" textLength="10.57" lengthAdjust="spacingAndGlyphs">0.5</text>
<text x="113.90" y="137.90" font-size="8.3" text-anchor="middle" font-family="Liberation Sans" fill="#222222" stroke="#222222" stroke-width="0.12" textLength="10.57" lengthAdjust="spacingAndGlyphs">1.0</text>
<text x="153.20" y="137.90" font-size="8.3" text-anchor="middle" font-family="Liberation Sans" fill="#222222" stroke="#222222" stroke-width="0.12" textLength="10.57" lengthAdjust="spacingAndGlyphs">1.5</text>
<text x="192.50" y="137.90" font-size="8.3" text-anchor="middle" font-family="Liberation Sans" fill="#222222" stroke="#222222" stroke-width="0.12" textLength="10.57" lengthAdjust="spacingAndGlyphs">2.0</text>
<text x="115.75" y="145.30" font-size="6.8" text-anchor="middle" font-family="Liberation Sans" fill="#222222" stroke="#222222" stroke-width="0.12" textLength="78.77" lengthAdjust="spacingAndGlyphs">Environment timesteps</text>
<g transform="translate(8.1,71.40) rotate(-90)"><text x="0.00" y="0.00" font-size="6.8" text-anchor="middle" font-family="Liberation Sans" fill="#222222" stroke="#222222" stroke-width="0.12" textLength="67.23" lengthAdjust="spacingAndGlyphs">Mean Test Win Rate</text></g>
<text x="200.90" y="143.20" font-size="4.3" text-anchor="middle" font-family="Liberation Sans" fill="#222222" stroke="#222222" stroke-width="0.12" textLength="7.20" lengthAdjust="spacingAndGlyphs">1e6</text>
<text x="115.75" y="14.50" font-size="8.3" text-anchor="middle" font-family="Liberation Sans" fill="#222222" stroke="#222222" stroke-width="0.12" textLength="44.91" lengthAdjust="spacingAndGlyphs">27m_vs_30m</text>
<line x1="29.40" y1="20.90" x2="36.20" y2="20.90" stroke="#1f77b4" stroke-width="1.5"/>
<text x="40.30" y="23.25" font-size="6.7" text-anchor="start" font-family="Liberation Sans" fill="#222222" stroke="#222222" stroke-width="0.12" textLength="38.78" lengthAdjust="spacingAndGlyphs">PAGNet(Ours)</text>
<line x1="29.40" y1="29.17" x2="36.20" y2="29.17" stroke="#ff7f0e" stroke-width="1.5"/>
<text x="40.30" y="31.52" font-size="6.7" text-anchor="start" font-family="Liberation Sans" fill="#222222" stroke="#222222" stroke-width="0.12" textLength="30.86" lengthAdjust="spacingAndGlyphs">PAGNet_PT</text>
<line x1="29.40" y1="37.44" x2="36.20" y2="37.44" stroke="#2ca02c" stroke-width="1.5"/>
<text x="40.30" y="39.79" font-size="6.7" text-anchor="start" font-family="Liberation Sans" fill="#222222" stroke="#222222" stroke-width="0.12" textLength="31.19" lengthAdjust="spacingAndGlyphs">PAGNet_FC</text>
<line x1="29.40" y1="45.71" x2="36.20" y2="45.71" stroke="#d62728" stroke-width="1.5"/>
<text x="40.30" y="48.06" font-size="6.7" text-anchor="start" font-family="Liberation Sans" fill="#222222" stroke="#222222" stroke-width="0.12" textLength="17.64" lengthAdjust="spacingAndGlyphs">MASIA</text>
<line x1="29.40" y1="53.98" x2="36.20" y2="53.98" stroke="#9467bd" stroke-width="1.5"/>
<text x="40.30" y="56.33" font-size="6.7" text-anchor="start" font-family="Liberation Sans" fill="#222222" stroke="#222222" stroke-width="0.12" textLength="21.48" lengthAdjust="spacingAndGlyphs">G2ANet</text>
<line x1="29.40" y1="62.25" x2="36.20" y2="62.25" stroke="#8c564b" stroke-width="1.5"/>
<text x="40.30" y="64.60" font-size="6.7" text-anchor="start" font-family="Liberation Sans" fill="#222222" stroke="#222222" stroke-width="0.12" textLength="12.79" lengthAdjust="spacingAndGlyphs">DGN</text>
<line x1="29.40" y1="70.52" x2="36.20" y2="70.52" stroke="#e377c2" stroke-width="1.5"/>
<text x="40.30" y="72.87" font-size="6.7" text-anchor="start" font-family="Liberation Sans" fill="#222222" stroke="#222222" stroke-width="0.12" textLength="14.68" lengthAdjust="spacingAndGlyphs">QMIX</text></g>
<g transform="translate(622.35,180.40)"><line x1="35.30" y1="16.0" x2="35.30" y2="126.8" stroke="#ebebeb" stroke-width="0.8"/>
<line x1="74.60" y1="16.0" x2="74.60" y2="126.8" stroke="#ebebeb" stroke-width="0.8"/>
<line x1="113.90" y1="16.0" x2="113.90" y2="126.8" stroke="#ebebeb" stroke-width="0.8"/>
<line x1="153.20" y1="16.0" x2="153.20" y2="126.8" stroke="#ebebeb" stroke-width="0.8"/>
<line x1="192.50" y1="16.0" x2="192.50" y2="126.8" stroke="#ebebeb" stroke-width="0.8"/>
<line x1="27.0" y1="121.90" x2="204.5" y2="121.90" stroke="#ebebeb" stroke-width="0.8"/>
<line x1="27.0" y1="101.26" x2="204.5" y2="101.26" stroke="#ebebeb" stroke-width="0.8"/>
<line x1="27.0" y1="80.62" x2="204.5" y2="80.62" stroke="#ebebeb" stroke-width="0.8"/>
<line x1="27.0" y1="59.98" x2="204.5" y2="59.98" stroke="#ebebeb" stroke-width="0.8"/>
<line x1="27.0" y1="39.34" x2="204.5" y2="39.34" stroke="#ebebeb" stroke-width="0.8"/>
<line x1="27.0" y1="18.70" x2="204.5" y2="18.70" stroke="#ebebeb" stroke-width="0.8"/>
<polygon points="34.99,121.31 37.07,114.20 39.48,103.63 41.88,93.06 44.29,82.49 46.70,73.53 48.30,68.89 49.90,69.06 52.31,67.81 55.19,56.23 58.72,56.23 62.73,55.91 65.94,52.71 68.34,44.69 71.55,33.46 74.76,33.15 77.97,33.64 81.17,32.52 83.58,34.74 87.59,27.41 91.60,32.75 95.60,31.04 99.61,33.97 103.62,30.18 107.63,31.99 111.64,29.79 115.65,31.54 119.66,30.47 123.67,30.04 127.68,30.57 131.69,30.62 135.70,29.38 139.70,29.43 143.71,24.67 147.72,23.92 151.73,26.38 155.74,24.82 159.75,23.59 163.76,22.52 167.77,24.65 171.78,25.02 175.79,23.47 179.79,21.92 183.80,22.77 187.81,18.81 191.82,21.27 195.83,20.19 195.83,26.40 191.82,27.57 187.81,25.22 183.80,29.28 179.79,28.53 175.79,30.18 171.78,31.83 167.77,31.56 163.76,29.53 159.75,30.70 155.74,32.03 151.73,33.69 147.72,31.33 143.71,32.18 139.70,37.04 135.70,37.10 131.69,38.43 127.68,38.48 123.67,38.05 119.66,38.58 115.65,39.75 111.64,38.29 107.63,40.90 103.62,39.51 99.61,43.73 95.60,41.21 91.60,43.35 87.59,38.43 83.58,46.18 81.17,44.22 77.97,45.67 74.76,45.52 71.55,45.85 68.34,57.07 65.94,65.09 62.73,68.30 58.72,68.62 55.19,68.62 52.31,80.20 49.90,80.56 48.30,79.13 46.70,82.50 44.29,89.57 41.88,98.25 39.48,106.92 37.07,115.60 34.99,121.31" fill="#1f77b4" fill-opacity="0.14" stroke="none"/>
<polygon points="34.99,113.29 36.27,103.42 38.68,93.16 41.08,84.51 43.49,75.86 47.50,58.90 50.70,50.84 54.71,49.48 57.92,45.65 61.93,41.46 65.94,38.08 69.15,36.34 72.35,36.52 75.56,36.91 79.57,31.01 83.58,36.17 87.59,29.47 91.60,31.43 95.60,33.07 99.61,35.99 103.62,32.33 107.63,31.57 111.64,30.00 115.65,31.63 119.66,30.06 123.67,30.42 127.68,30.45 131.69,31.45 135.70,31.80 139.70,31.52 143.71,29.47 147.72,26.29 151.73,29.05 155.74,27.16 159.75,27.20 163.76,26.91 167.77,27.27 171.78,27.62 175.79,28.94 179.79,26.57 183.80,25.00 187.81,24.55 191.82,24.26 195.83,24.30 195.83,32.56 191.82,32.60 187.81,32.95 183.80,33.47 179.79,35.10 175.79,37.54 171.78,36.29 167.77,36.01 163.76,35.72 159.75,36.07 155.74,36.11 151.73,38.07 147.72,35.37 143.71,38.62 139.70,40.73 135.70,41.09 131.69,40.80 127.68,39.87 123.67,39.91 119.66,39.62 115.65,41.26 111.64,39.69 107.63,41.33 103.62,42.16 99.61,45.89 95.60,43.03 91.60,41.46 87.59,39.57 83.58,46.34 79.57,41.24 75.56,47.21 72.35,46.64 69.15,46.18 65.94,47.64 61.93,50.67 57.92,54.51 54.71,58.06 50.70,58.93 47.50,65.31 43.49,80.16 41.08,87.55 38.68,94.94 36.27,103.93 34.99,113.29" fill="#ff7f0e" fill-opacity="0.14" stroke="none"/>
<polygon points="34.99,121.31 37.07,115.92 39.48,107.11 42.69,96.44 45.09,86.03 47.50,76.42 49.90,79.64 51.51,81.70 53.91,76.19 55.51,69.84 57.92,68.35 60.33,71.66 63.21,68.90 67.54,57.67 70.75,52.20 74.76,49.96 77.97,49.19 81.17,52.42 84.38,51.64 88.39,51.68 92.40,50.11 96.41,52.55 99.61,52.58 103.62,49.40 107.63,53.12 111.64,50.27 115.65,50.31 119.66,50.02 123.67,49.57 127.68,50.41 131.69,52.05 135.70,49.67 139.70,52.11 143.71,49.26 147.72,49.30 151.73,50.29 155.74,50.65 159.75,50.36 163.76,50.39 167.77,50.75 171.78,50.46 175.79,52.10 179.79,51.17 183.80,50.88 187.81,50.60 191.82,48.55 195.83,47.78 195.83,53.98 191.82,54.82 187.81,56.93 183.80,57.29 179.79,57.64 175.79,58.64 171.78,57.07 167.77,57.43 163.76,57.14 159.75,57.17 155.74,57.53 151.73,57.24 147.72,56.31 143.71,56.35 139.70,59.27 135.70,56.90 131.69,59.33 127.68,57.76 123.67,57.00 119.66,57.51 115.65,57.87 111.64,57.90 107.63,60.82 103.62,57.17 99.61,60.41 96.41,60.44 92.40,58.06 88.39,59.70 84.38,59.74 81.17,60.56 77.97,57.38 74.76,58.21 70.75,60.79 67.54,66.54 63.21,78.15 60.33,81.16 57.92,78.06 55.51,79.77 53.91,86.26 51.51,91.97 49.90,89.22 47.50,84.42 45.09,92.45 42.69,101.29 39.48,109.85 37.07,117.08 34.99,121.31" fill="#2ca02c" fill-opacity="0.14" stroke="none"/>
<polygon points="34.99,116.50 37.07,109.50 39.48,98.29 42.69,102.85 45.09,92.44 47.50,85.24 49.90,79.64 52.31,72.69 53.91,67.66 56.32,61.06 59.52,58.23 62.73,55.41 66.74,53.28 69.95,48.85 72.35,46.13 75.56,41.87 79.57,45.29 83.58,41.49 87.59,38.49 91.60,36.78 95.60,36.03 99.61,36.24 103.62,38.53 107.63,40.35 111.64,36.23 115.65,35.94 119.66,36.12 123.67,33.89 127.68,34.07 131.69,30.23 135.70,33.61 139.70,32.61 143.71,35.40 147.72,32.27 151.73,34.42 155.74,33.21 159.75,31.68 163.76,30.95 167.77,31.82 171.78,35.09 175.79,37.57 179.79,31.23 183.80,30.49 187.81,32.17 191.82,30.96 195.83,33.59 195.83,41.92 191.82,39.78 187.81,41.48 183.80,40.30 179.79,41.52 175.79,48.36 171.78,46.37 167.77,43.59 163.76,43.20 159.75,44.43 155.74,46.45 151.73,48.16 147.72,46.49 143.71,50.12 139.70,47.82 135.70,49.02 131.69,45.46 127.68,49.12 123.67,48.77 119.66,50.82 115.65,50.47 111.64,50.80 107.63,55.13 103.62,53.52 99.61,51.44 95.60,51.44 91.60,52.40 87.59,54.32 83.58,57.53 79.57,61.54 75.56,58.33 72.35,62.05 69.95,64.14 66.74,67.72 62.73,68.80 59.52,70.79 56.32,72.77 53.91,78.74 52.31,83.34 49.90,89.22 47.50,93.24 45.09,98.87 42.69,107.70 39.48,101.03 37.07,110.67 34.99,116.50" fill="#d62728" fill-opacity="0.14" stroke="none"/>
<polygon points="34.99,121.31 38.68,113.79 42.69,102.85 46.70,93.52 50.70,84.99 54.71,82.48 58.72,76.06 62.73,72.85 66.74,72.05 70.75,73.66 74.76,72.85 78.77,72.05 82.78,72.06 86.79,68.88 95.60,65.88 100.42,61.92 103.62,58.74 107.63,61.98 111.64,59.61 115.65,62.06 119.66,58.88 123.67,58.12 127.68,58.16 131.69,59.80 135.70,61.44 139.70,59.87 143.71,60.71 147.72,57.54 151.73,59.18 155.74,60.82 159.75,61.65 163.76,61.69 167.77,60.92 171.78,60.64 175.79,60.19 179.79,58.63 183.80,53.85 187.81,51.16 191.82,50.72 195.83,48.67 195.83,56.94 191.82,59.06 187.81,59.58 183.80,62.34 179.79,67.18 175.79,68.82 171.78,69.34 167.77,69.70 163.76,70.54 159.75,70.57 155.74,69.81 151.73,68.24 147.72,66.67 143.71,69.92 139.70,69.15 135.70,70.79 131.69,69.22 127.68,67.66 123.67,67.69 119.66,68.53 115.65,71.77 111.64,69.41 107.63,71.85 103.62,68.68 100.42,71.91 95.60,75.97 86.79,79.13 82.78,82.37 78.77,82.37 74.76,83.17 70.75,83.98 66.74,82.37 62.73,83.17 58.72,86.38 54.71,92.80 50.70,95.10 46.70,101.00 42.69,107.70 38.68,116.01 34.99,121.31" fill="#9467bd" fill-opacity="0.14" stroke="none"/>
<polygon points="34.99,119.71 36.27,106.56 38.68,92.94 41.88,82.27 45.89,76.94 50.70,73.76 55.51,72.20 60.33,71.24 65.14,70.11 69.95,69.47 74.76,69.14 79.57,68.66 92.40,64.39 95.60,61.18 100.42,59.90 103.62,58.78 107.63,57.98 111.64,59.26 115.65,58.78 119.66,60.38 123.67,58.78 127.68,59.26 131.69,60.86 135.70,60.38 139.70,58.78 143.71,60.38 147.72,57.98 151.73,58.78 155.74,57.98 159.75,57.17 163.76,59.26 167.77,54.77 171.78,53.97 175.79,52.84 179.79,53.17 183.80,51.24 187.81,51.56 191.82,50.76 195.83,52.84 195.83,61.10 191.82,59.02 187.81,59.82 183.80,59.50 179.79,61.42 175.79,61.10 171.78,62.22 167.77,63.03 163.76,67.52 159.75,65.43 155.74,66.23 151.73,67.03 147.72,66.23 143.71,68.64 139.70,67.03 135.70,68.64 131.69,69.12 127.68,67.52 123.67,67.03 119.66,68.64 115.65,67.03 111.64,67.52 107.63,66.23 103.62,67.03 100.42,68.16 95.60,69.44 92.40,72.65 79.57,77.11 74.76,77.91 69.95,78.54 65.14,79.50 60.33,80.94 55.51,82.23 50.70,83.87 45.89,83.90 41.88,86.59 38.68,95.16 36.27,107.20 34.99,119.71" fill="#8c564b" fill-opacity="0.14" stroke="none"/>
<polygon points="34.99,121.31 39.48,112.20 42.69,106.54 45.89,98.48 49.10,90.43 53.11,85.04 57.12,83.31 60.33,79.19 63.53,90.31 67.54,82.97 71.55,83.64 75.56,81.90 79.57,80.97 83.58,78.48 87.59,86.53 91.60,78.55 95.60,78.59 99.61,78.14 103.62,74.65 107.63,71.16 111.64,77.93 115.65,76.04 119.66,73.19 123.67,72.43 127.68,71.66 131.69,70.09 135.70,78.15 139.70,74.17 143.71,69.88 147.72,75.05 151.73,68.67 155.74,73.52 159.75,69.55 163.76,71.19 167.77,70.42 171.78,72.86 175.79,72.10 179.79,73.74 183.80,69.76 187.81,70.60 191.82,73.84 195.83,72.60 195.83,80.87 191.82,82.23 187.81,79.09 183.80,78.36 179.79,82.44 175.79,80.91 171.78,81.79 167.77,79.45 163.76,80.33 159.75,78.80 155.74,82.88 151.73,78.14 147.72,84.63 143.71,79.57 139.70,83.97 135.70,88.05 131.69,80.11 127.68,81.78 123.67,82.66 119.66,83.53 115.65,86.49 111.64,88.49 107.63,81.83 103.62,85.43 99.61,89.03 95.60,89.58 91.60,89.65 87.59,97.74 83.58,89.80 79.57,92.03 75.56,92.57 71.55,93.91 67.54,92.85 63.53,99.80 60.33,88.37 57.12,92.16 53.11,93.50 49.10,97.67 45.89,104.05 42.69,110.42 39.48,114.39 34.99,121.31" fill="#e377c2" fill-opacity="0.14" stroke="none"/>
<polyline points="34.99,121.31 39.48,113.29 42.69,108.48 45.89,101.27 49.10,94.05 53.11,89.24 57.12,87.64 60.33,83.63 63.53,94.85 67.54,87.64 71.55,88.44 75.56,86.83 79.57,86.03 83.58,83.63 87.59,91.65 91.60,83.63 95.60,83.63 99.61,83.15 103.62,79.62 107.63,76.09 111.64,82.83 115.65,80.90 119.66,78.01 123.67,77.21 127.68,76.41 131.69,74.81 135.70,82.83 139.70,78.82 143.71,74.49 147.72,79.62 151.73,73.20 155.74,78.01 159.75,74.01 163.76,75.61 167.77,74.81 171.78,77.21 175.79,76.41 179.79,78.01 183.80,74.01 187.81,74.81 191.82,78.01 195.83,76.73" fill="none" stroke="#e377c2" stroke-width="1.55" stroke-linejoin="round" stroke-linecap="butt"/>
<polyline points="34.99,119.71 36.27,106.88 38.68,94.05 41.88,84.43 45.89,80.42 50.70,78.82 55.51,77.21 60.33,76.09 65.14,74.81 69.95,74.01 74.76,73.52 79.57,72.88 92.40,68.52 95.60,65.31 100.42,64.03 103.62,62.91 107.63,62.10 111.64,63.39 115.65,62.91 119.66,64.51 123.67,62.91 127.68,63.39 131.69,64.99 135.70,64.51 139.70,62.91 143.71,64.51 147.72,62.10 151.73,62.91 155.74,62.10 159.75,61.30 163.76,63.39 167.77,58.90 171.78,58.10 175.79,56.97 179.79,57.29 183.80,55.37 187.81,55.69 191.82,54.89 195.83,56.97" fill="none" stroke="#8c564b" stroke-width="1.55" stroke-linejoin="round" stroke-linecap="butt"/>
<polyline points="34.99,121.31 38.68,114.90 42.69,105.28 46.70,97.26 50.70,90.04 54.71,87.64 58.72,81.22 62.73,78.01 66.74,77.21 70.75,78.82 74.76,78.01 78.77,77.21 82.78,77.21 86.79,74.01 95.60,70.92 100.42,66.92 103.62,63.71 107.63,66.92 111.64,64.51 115.65,66.92 119.66,63.71 123.67,62.91 127.68,62.91 131.69,64.51 135.70,66.11 139.70,64.51 143.71,65.31 147.72,62.10 151.73,63.71 155.74,65.31 159.75,66.11 163.76,66.11 167.77,65.31 171.78,64.99 175.79,64.51 179.79,62.91 183.80,58.10 187.81,55.37 191.82,54.89 195.83,52.80" fill="none" stroke="#9467bd" stroke-width="1.55" stroke-linejoin="round" stroke-linecap="butt"/>
<polyline points="34.99,116.50 37.07,110.09 39.48,99.66 42.69,105.28 45.09,95.65 47.50,89.24 49.90,84.43 52.31,78.01 53.91,73.20 56.32,66.92 59.52,64.51 62.73,62.10 66.74,60.50 69.95,56.49 72.35,54.09 75.56,50.08 79.57,53.28 83.58,49.28 87.59,46.07 91.60,44.14 95.60,43.18 99.61,43.18 103.62,45.27 107.63,46.87 111.64,42.54 115.65,42.06 119.66,42.06 123.67,39.65 127.68,39.65 131.69,35.65 135.70,38.85 139.70,37.73 143.71,40.46 147.72,37.25 151.73,39.33 155.74,38.05 159.75,36.45 163.76,35.65 167.77,36.45 171.78,39.65 175.79,42.06 179.79,35.65 183.80,34.84 187.81,36.45 191.82,35.16 195.83,37.73" fill="none" stroke="#d62728" stroke-width="1.55" stroke-linejoin="round" stroke-linecap="butt"/>
<polyline points="34.99,121.31 37.07,116.50 39.48,108.48 42.69,98.86 45.09,89.24 47.50,80.42 49.90,84.43 51.51,86.83 53.91,81.22 55.51,74.81 57.92,73.20 60.33,76.41 63.21,73.52 67.54,62.10 70.75,56.49 74.76,54.09 77.97,53.28 81.17,56.49 84.38,55.69 88.39,55.69 92.40,54.09 96.41,56.49 99.61,56.49 103.62,53.28 107.63,56.97 111.64,54.09 115.65,54.09 119.66,53.77 123.67,53.28 127.68,54.09 131.69,55.69 135.70,53.28 139.70,55.69 143.71,52.80 147.72,52.80 151.73,53.77 155.74,54.09 159.75,53.77 163.76,53.77 167.77,54.09 171.78,53.77 175.79,55.37 179.79,54.41 183.80,54.09 187.81,53.77 191.82,51.68 195.83,50.88" fill="none" stroke="#2ca02c" stroke-width="1.55" stroke-linejoin="round" stroke-linecap="butt"/>
<polyline points="34.99,113.29 36.27,103.67 38.68,94.05 41.08,86.03 43.49,78.01 47.50,62.10 50.70,54.89 54.71,53.77 57.92,50.08 61.93,46.07 65.94,42.86 69.15,41.26 72.35,41.58 75.56,42.06 79.57,36.13 83.58,41.26 87.59,34.52 91.60,36.45 95.60,38.05 99.61,40.94 103.62,37.25 107.63,36.45 111.64,34.84 115.65,36.45 119.66,34.84 123.67,35.16 127.68,35.16 131.69,36.13 135.70,36.45 139.70,36.13 143.71,34.04 147.72,30.83 151.73,33.56 155.74,31.64 159.75,31.64 163.76,31.32 167.77,31.64 171.78,31.96 175.79,33.24 179.79,30.83 183.80,29.23 187.81,28.75 191.82,28.43 195.83,28.43" fill="none" stroke="#ff7f0e" stroke-width="1.55" stroke-linejoin="round" stroke-linecap="butt"/>
<polyline points="34.99,121.31 37.07,114.90 39.48,105.28 41.88,95.65 44.29,86.03 46.70,78.01 48.30,74.01 49.90,74.81 52.31,74.01 55.19,62.43 58.72,62.43 62.73,62.10 65.94,58.90 68.34,50.88 71.55,39.65 74.76,39.33 77.97,39.65 81.17,38.37 83.58,40.46 87.59,32.92 91.60,38.05 95.60,36.13 99.61,38.85 103.62,34.84 107.63,36.45 111.64,34.04 115.65,35.65 119.66,34.52 123.67,34.04 127.68,34.52 131.69,34.52 135.70,33.24 139.70,33.24 143.71,28.43 147.72,27.63 151.73,30.03 155.74,28.43 159.75,27.15 163.76,26.02 167.77,28.11 171.78,28.43 175.79,26.83 179.79,25.22 183.80,26.02 187.81,22.01 191.82,24.42 195.83,23.30" fill="none" stroke="#1f77b4" stroke-width="1.55" stroke-linejoin="round" stroke-linecap="butt"/>
<line x1="23.3" y1="16.0" x2="23.3" y2="126.8" stroke="#262626" stroke-width="1.25"/>
<line x1="27.0" y1="130.7" x2="204.5" y2="130.7" stroke="#262626" stroke-width="1.25"/>
<text x="22.00" y="124.70" font-size="8.3" text-anchor="end" font-family="Liberation Sans" fill="#222222" stroke="#222222" stroke-width="0.12" textLength="10.57" lengthAdjust="spacingAndGlyphs">0.0</text>
<text x="22.00" y="104.06" font-size="8.3" text-anchor="end" font-family="Liberation Sans" fill="#222222" stroke="#222222" stroke-width="0.12" textLength="10.57" lengthAdjust="spacingAndGlyphs">0.2</text>
<text x="22.00" y="83.42" font-size="8.3" text-anchor="end" font-family="Liberation Sans" fill="#222222" stroke="#222222" stroke-width="0.12" textLength="10.57" lengthAdjust="spacingAndGlyphs">0.4</text>
<text x="22.00" y="62.78" font-size="8.3" text-anchor="end" font-family="Liberation Sans" fill="#222222" stroke="#222222" stroke-width="0.12" textLength="10.57" lengthAdjust="spacingAndGlyphs">0.6</text>
<text x="22.00" y="42.14" font-size="8.3" text-anchor="end" font-family="Liberation Sans" fill="#222222" stroke="#222222" stroke-width="0.12" textLength="10.57" lengthAdjust="spacingAndGlyphs">0.8</text>
<text x="22.00" y="21.50" font-size="8.3" text-anchor="end" font-family="Liberation Sans" fill="#222222" stroke="#222222" stroke-width="0.12" textLength="10.57" lengthAdjust="spacingAndGlyphs">1.0</text>
<text x="35.30" y="137.90" font-size="8.3" text-anchor="middle" font-family="Liberation Sans" fill="#222222" stroke="#222222" stroke-width="0.12" textLength="10.57" lengthAdjust="spacingAndGlyphs">0.0</text>
<text x="74.60" y="137.90" font-size="8.3" text-anchor="middle" font-family="Liberation Sans" fill="#222222" stroke="#222222" stroke-width="0.12" textLength="10.57" lengthAdjust="spacingAndGlyphs">0.5</text>
<text x="113.90" y="137.90" font-size="8.3" text-anchor="middle" font-family="Liberation Sans" fill="#222222" stroke="#222222" stroke-width="0.12" textLength="10.57" lengthAdjust="spacingAndGlyphs">1.0</text>
<text x="153.20" y="137.90" font-size="8.3" text-anchor="middle" font-family="Liberation Sans" fill="#222222" stroke="#222222" stroke-width="0.12" textLength="10.57" lengthAdjust="spacingAndGlyphs">1.5</text>
<text x="192.50" y="137.90" font-size="8.3" text-anchor="middle" font-family="Liberation Sans" fill="#222222" stroke="#222222" stroke-width="0.12" textLength="10.57" lengthAdjust="spacingAndGlyphs">2.0</text>
<text x="115.75" y="145.30" font-size="6.8" text-anchor="middle" font-family="Liberation Sans" fill="#222222" stroke="#222222" stroke-width="0.12" textLength="78.77" lengthAdjust="spacingAndGlyphs">Environment timesteps</text>
<g transform="translate(8.1,71.40) rotate(-90)"><text x="0.00" y="0.00" font-size="6.8" text-anchor="middle" font-family="Liberation Sans" fill="#222222" stroke="#222222" stroke-width="0.12" textLength="67.23" lengthAdjust="spacingAndGlyphs">Mean Test Win Rate</text></g>
<text x="200.90" y="143.20" font-size="4.3" text-anchor="middle" font-family="Liberation Sans" fill="#222222" stroke="#222222" stroke-width="0.12" textLength="7.20" lengthAdjust="spacingAndGlyphs">1e6</text>
<text x="115.75" y="14.50" font-size="8.3" text-anchor="middle" font-family="Liberation Sans" fill="#222222" stroke="#222222" stroke-width="0.12" textLength="40.49" lengthAdjust="spacingAndGlyphs">1o_2r_vs_4r</text>
<line x1="152.65" y1="70.60" x2="159.45" y2="70.60" stroke="#1f77b4" stroke-width="1.5"/>
<text x="163.55" y="72.95" font-size="6.7" text-anchor="start" font-family="Liberation Sans" fill="#222222" stroke="#222222" stroke-width="0.12" textLength="38.78" lengthAdjust="spacingAndGlyphs">PAGNet(Ours)</text>
<line x1="152.65" y1="78.87" x2="159.45" y2="78.87" stroke="#ff7f0e" stroke-width="1.5"/>
<text x="163.55" y="81.22" font-size="6.7" text-anchor="start" font-family="Liberation Sans" fill="#222222" stroke="#222222" stroke-width="0.12" textLength="30.86" lengthAdjust="spacingAndGlyphs">PAGNet_PT</text>
<line x1="152.65" y1="87.14" x2="159.45" y2="87.14" stroke="#2ca02c" stroke-width="1.5"/>
<text x="163.55" y="89.49" font-size="6.7" text-anchor="start" font-family="Liberation Sans" fill="#222222" stroke="#222222" stroke-width="0.12" textLength="31.19" lengthAdjust="spacingAndGlyphs">PAGNet_FC</text>
<line x1="152.65" y1="95.41" x2="159.45" y2="95.41" stroke="#d62728" stroke-width="1.5"/>
<text x="163.55" y="97.76" font-size="6.7" text-anchor="start" font-family="Liberation Sans" fill="#222222" stroke="#222222" stroke-width="0.12" textLength="17.64" lengthAdjust="spacingAndGlyphs">MASIA</text>
<line x1="152.65" y1="103.68" x2="159.45" y2="103.68" stroke="#9467bd" stroke-width="1.5"/>
<text x="163.55" y="106.03" font-size="6.7" text-anchor="start" font-family="Liberation Sans" fill="#222222" stroke="#222222" stroke-width="0.12" textLength="21.48" lengthAdjust="spacingAndGlyphs">G2ANet</text>
<line x1="152.65" y1="111.95" x2="159.45" y2="111.95" stroke="#8c564b" stroke-width="1.5"/>
<text x="163.55" y="114.30" font-size="6.7" text-anchor="start" font-family="Liberation Sans" fill="#222222" stroke="#222222" stroke-width="0.12" textLength="12.79" lengthAdjust="spacingAndGlyphs">DGN</text>
<line x1="152.65" y1="120.22" x2="159.45" y2="120.22" stroke="#e377c2" stroke-width="1.5"/>
<text x="163.55" y="122.57" font-size="6.7" text-anchor="start" font-family="Liberation Sans" fill="#222222" stroke="#222222" stroke-width="0.12" textLength="14.68" lengthAdjust="spacingAndGlyphs">QMIX</text></g>
<text x="107.42" y="165.60" font-size="12.5" text-anchor="middle" font-family="Liberation Serif" fill="#000000" stroke="#000000" stroke-width="0.12" textLength="83.15" lengthAdjust="spacingAndGlyphs">(a) Easy scenario</text>
<text x="322.80" y="165.60" font-size="12.5" text-anchor="middle" font-family="Liberation Serif" fill="#000000" stroke="#000000" stroke-width="0.12" textLength="84.20" lengthAdjust="spacingAndGlyphs">(b) Hard scenario</text>
<text x="530.70" y="165.60" font-size="12.5" text-anchor="middle" font-family="Liberation Serif" fill="#000000" stroke="#000000" stroke-width="0.12" textLength="84.80" lengthAdjust="spacingAndGlyphs">(c) Hard scenario</text>
<text x="738.50" y="165.60" font-size="12.5" text-anchor="middle" font-family="Liberation Serif" fill="#000000" stroke="#000000" stroke-width="0.12" textLength="138.40" lengthAdjust="spacingAndGlyphs">(d) Communication scenario</text>
<text x="107.75" y="343.70" font-size="12.5" text-anchor="middle" font-family="Liberation Serif" fill="#000000" stroke="#000000" stroke-width="0.12" textLength="112.50" lengthAdjust="spacingAndGlyphs">(e) Super hard scenario</text>
<text x="314.25" y="343.70" font-size="12.5" text-anchor="middle" font-family="Liberation Serif" fill="#000000" stroke="#000000" stroke-width="0.12" textLength="111.30" lengthAdjust="spacingAndGlyphs">(f) Super hard scenario</text>
<text x="530.45" y="343.70" font-size="12.5" text-anchor="middle" font-family="Liberation Serif" fill="#000000" stroke="#000000" stroke-width="0.12" textLength="208.30" lengthAdjust="spacingAndGlyphs">(g) Super hard scenario (Numerous agents)</text>
<text x="734.70" y="343.70" font-size="12.5" text-anchor="middle" font-family="Liberation Serif" fill="#000000" stroke="#000000" stroke-width="0.12" textLength="138.00" lengthAdjust="spacingAndGlyphs">(h) Communication scenario</text></svg></body></html>
